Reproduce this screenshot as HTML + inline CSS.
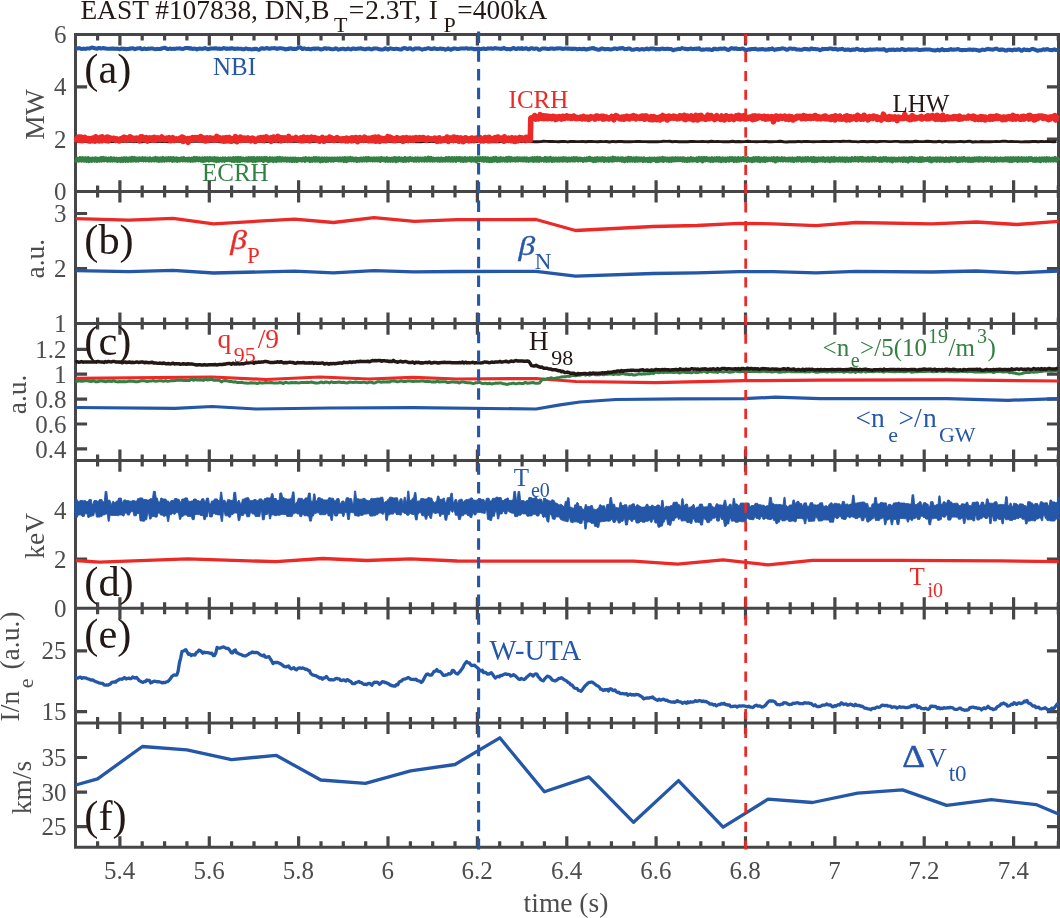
<!DOCTYPE html>
<html lang="en">
<head>
<meta charset="utf-8">
<title>EAST #107838</title>
<style>
html,body{margin:0;padding:0;background:#fff;}
body{width:1060px;height:918px;overflow:hidden;}
svg{display:block;}
</style>
</head>
<body>
<svg width="1060" height="918" viewBox="0 0 1060 918">
<rect width="1060" height="918" fill="#ffffff"/>
<path d="M75.5 32.9 V848.8 M1058.5 32.9 V848.8 M75.5 34.4 H1060.0 M75.5 191.4 H1060.0 M75.5 323.6 H1060.0 M75.5 460.6 H1060.0 M75.5 608.3 H1060.0 M75.5 723.0 H1060.0 M75.5 847.3 H1060.0" fill="none" stroke="#464648" stroke-width="3.0"/>
<path d="M97.6 34.4 V40.4 M97.6 185.4 V197.4 M97.6 317.6 V329.6 M97.6 454.6 V466.6 M97.6 602.3 V614.3 M97.6 717.0 V729.0 M97.6 841.3 V847.3 M119.9 34.4 V45.5 M119.9 180.3 V202.5 M119.9 312.5 V334.7 M119.9 449.5 V471.8 M119.9 597.2 V619.4 M119.9 711.9 V734.1 M119.9 836.2 V847.3 M142.2 34.4 V40.4 M142.2 185.4 V197.4 M142.2 317.6 V329.6 M142.2 454.6 V466.6 M142.2 602.3 V614.3 M142.2 717.0 V729.0 M142.2 841.3 V847.3 M164.6 34.4 V40.4 M164.6 185.4 V197.4 M164.6 317.6 V329.6 M164.6 454.6 V466.6 M164.6 602.3 V614.3 M164.6 717.0 V729.0 M164.6 841.3 V847.3 M186.9 34.4 V40.4 M186.9 185.4 V197.4 M186.9 317.6 V329.6 M186.9 454.6 V466.6 M186.9 602.3 V614.3 M186.9 717.0 V729.0 M186.9 841.3 V847.3 M209.3 34.4 V45.5 M209.3 180.3 V202.5 M209.3 312.5 V334.7 M209.3 449.5 V471.8 M209.3 597.2 V619.4 M209.3 711.9 V734.1 M209.3 836.2 V847.3 M231.6 34.4 V40.4 M231.6 185.4 V197.4 M231.6 317.6 V329.6 M231.6 454.6 V466.6 M231.6 602.3 V614.3 M231.6 717.0 V729.0 M231.6 841.3 V847.3 M254.0 34.4 V40.4 M254.0 185.4 V197.4 M254.0 317.6 V329.6 M254.0 454.6 V466.6 M254.0 602.3 V614.3 M254.0 717.0 V729.0 M254.0 841.3 V847.3 M276.3 34.4 V40.4 M276.3 185.4 V197.4 M276.3 317.6 V329.6 M276.3 454.6 V466.6 M276.3 602.3 V614.3 M276.3 717.0 V729.0 M276.3 841.3 V847.3 M298.6 34.4 V45.5 M298.6 180.3 V202.5 M298.6 312.5 V334.7 M298.6 449.5 V471.8 M298.6 597.2 V619.4 M298.6 711.9 V734.1 M298.6 836.2 V847.3 M321.0 34.4 V40.4 M321.0 185.4 V197.4 M321.0 317.6 V329.6 M321.0 454.6 V466.6 M321.0 602.3 V614.3 M321.0 717.0 V729.0 M321.0 841.3 V847.3 M343.3 34.4 V40.4 M343.3 185.4 V197.4 M343.3 317.6 V329.6 M343.3 454.6 V466.6 M343.3 602.3 V614.3 M343.3 717.0 V729.0 M343.3 841.3 V847.3 M365.7 34.4 V40.4 M365.7 185.4 V197.4 M365.7 317.6 V329.6 M365.7 454.6 V466.6 M365.7 602.3 V614.3 M365.7 717.0 V729.0 M365.7 841.3 V847.3 M388.0 34.4 V45.5 M388.0 180.3 V202.5 M388.0 312.5 V334.7 M388.0 449.5 V471.8 M388.0 597.2 V619.4 M388.0 711.9 V734.1 M388.0 836.2 V847.3 M410.4 34.4 V40.4 M410.4 185.4 V197.4 M410.4 317.6 V329.6 M410.4 454.6 V466.6 M410.4 602.3 V614.3 M410.4 717.0 V729.0 M410.4 841.3 V847.3 M432.7 34.4 V40.4 M432.7 185.4 V197.4 M432.7 317.6 V329.6 M432.7 454.6 V466.6 M432.7 602.3 V614.3 M432.7 717.0 V729.0 M432.7 841.3 V847.3 M455.0 34.4 V40.4 M455.0 185.4 V197.4 M455.0 317.6 V329.6 M455.0 454.6 V466.6 M455.0 602.3 V614.3 M455.0 717.0 V729.0 M455.0 841.3 V847.3 M477.4 34.4 V45.5 M477.4 180.3 V202.5 M477.4 312.5 V334.7 M477.4 449.5 V471.8 M477.4 597.2 V619.4 M477.4 711.9 V734.1 M477.4 836.2 V847.3 M499.7 34.4 V40.4 M499.7 185.4 V197.4 M499.7 317.6 V329.6 M499.7 454.6 V466.6 M499.7 602.3 V614.3 M499.7 717.0 V729.0 M499.7 841.3 V847.3 M522.1 34.4 V40.4 M522.1 185.4 V197.4 M522.1 317.6 V329.6 M522.1 454.6 V466.6 M522.1 602.3 V614.3 M522.1 717.0 V729.0 M522.1 841.3 V847.3 M544.4 34.4 V40.4 M544.4 185.4 V197.4 M544.4 317.6 V329.6 M544.4 454.6 V466.6 M544.4 602.3 V614.3 M544.4 717.0 V729.0 M544.4 841.3 V847.3 M566.8 34.4 V45.5 M566.8 180.3 V202.5 M566.8 312.5 V334.7 M566.8 449.5 V471.8 M566.8 597.2 V619.4 M566.8 711.9 V734.1 M566.8 836.2 V847.3 M589.1 34.4 V40.4 M589.1 185.4 V197.4 M589.1 317.6 V329.6 M589.1 454.6 V466.6 M589.1 602.3 V614.3 M589.1 717.0 V729.0 M589.1 841.3 V847.3 M611.4 34.4 V40.4 M611.4 185.4 V197.4 M611.4 317.6 V329.6 M611.4 454.6 V466.6 M611.4 602.3 V614.3 M611.4 717.0 V729.0 M611.4 841.3 V847.3 M633.8 34.4 V40.4 M633.8 185.4 V197.4 M633.8 317.6 V329.6 M633.8 454.6 V466.6 M633.8 602.3 V614.3 M633.8 717.0 V729.0 M633.8 841.3 V847.3 M656.1 34.4 V45.5 M656.1 180.3 V202.5 M656.1 312.5 V334.7 M656.1 449.5 V471.8 M656.1 597.2 V619.4 M656.1 711.9 V734.1 M656.1 836.2 V847.3 M678.5 34.4 V40.4 M678.5 185.4 V197.4 M678.5 317.6 V329.6 M678.5 454.6 V466.6 M678.5 602.3 V614.3 M678.5 717.0 V729.0 M678.5 841.3 V847.3 M700.8 34.4 V40.4 M700.8 185.4 V197.4 M700.8 317.6 V329.6 M700.8 454.6 V466.6 M700.8 602.3 V614.3 M700.8 717.0 V729.0 M700.8 841.3 V847.3 M723.2 34.4 V40.4 M723.2 185.4 V197.4 M723.2 317.6 V329.6 M723.2 454.6 V466.6 M723.2 602.3 V614.3 M723.2 717.0 V729.0 M723.2 841.3 V847.3 M745.5 34.4 V45.5 M745.5 180.3 V202.5 M745.5 312.5 V334.7 M745.5 449.5 V471.8 M745.5 597.2 V619.4 M745.5 711.9 V734.1 M745.5 836.2 V847.3 M767.8 34.4 V40.4 M767.8 185.4 V197.4 M767.8 317.6 V329.6 M767.8 454.6 V466.6 M767.8 602.3 V614.3 M767.8 717.0 V729.0 M767.8 841.3 V847.3 M790.2 34.4 V40.4 M790.2 185.4 V197.4 M790.2 317.6 V329.6 M790.2 454.6 V466.6 M790.2 602.3 V614.3 M790.2 717.0 V729.0 M790.2 841.3 V847.3 M812.5 34.4 V40.4 M812.5 185.4 V197.4 M812.5 317.6 V329.6 M812.5 454.6 V466.6 M812.5 602.3 V614.3 M812.5 717.0 V729.0 M812.5 841.3 V847.3 M834.9 34.4 V45.5 M834.9 180.3 V202.5 M834.9 312.5 V334.7 M834.9 449.5 V471.8 M834.9 597.2 V619.4 M834.9 711.9 V734.1 M834.9 836.2 V847.3 M857.2 34.4 V40.4 M857.2 185.4 V197.4 M857.2 317.6 V329.6 M857.2 454.6 V466.6 M857.2 602.3 V614.3 M857.2 717.0 V729.0 M857.2 841.3 V847.3 M879.5 34.4 V40.4 M879.5 185.4 V197.4 M879.5 317.6 V329.6 M879.5 454.6 V466.6 M879.5 602.3 V614.3 M879.5 717.0 V729.0 M879.5 841.3 V847.3 M901.9 34.4 V40.4 M901.9 185.4 V197.4 M901.9 317.6 V329.6 M901.9 454.6 V466.6 M901.9 602.3 V614.3 M901.9 717.0 V729.0 M901.9 841.3 V847.3 M924.2 34.4 V45.5 M924.2 180.3 V202.5 M924.2 312.5 V334.7 M924.2 449.5 V471.8 M924.2 597.2 V619.4 M924.2 711.9 V734.1 M924.2 836.2 V847.3 M946.6 34.4 V40.4 M946.6 185.4 V197.4 M946.6 317.6 V329.6 M946.6 454.6 V466.6 M946.6 602.3 V614.3 M946.6 717.0 V729.0 M946.6 841.3 V847.3 M968.9 34.4 V40.4 M968.9 185.4 V197.4 M968.9 317.6 V329.6 M968.9 454.6 V466.6 M968.9 602.3 V614.3 M968.9 717.0 V729.0 M968.9 841.3 V847.3 M991.3 34.4 V40.4 M991.3 185.4 V197.4 M991.3 317.6 V329.6 M991.3 454.6 V466.6 M991.3 602.3 V614.3 M991.3 717.0 V729.0 M991.3 841.3 V847.3 M1013.6 34.4 V45.5 M1013.6 180.3 V202.5 M1013.6 312.5 V334.7 M1013.6 449.5 V471.8 M1013.6 597.2 V619.4 M1013.6 711.9 V734.1 M1013.6 836.2 V847.3 M1035.9 34.4 V40.4 M1035.9 185.4 V197.4 M1035.9 317.6 V329.6 M1035.9 454.6 V466.6 M1035.9 602.3 V614.3 M1035.9 717.0 V729.0 M1035.9 841.3 V847.3 M1058.3 34.4 V40.4 M1058.3 185.4 V197.4 M1058.3 317.6 V329.6 M1058.3 454.6 V466.6 M1058.3 602.3 V614.3 M1058.3 717.0 V729.0 M1058.3 841.3 V847.3 M75.5 139.1 h11.6 M1058.5 139.1 h-11.6 M75.5 86.8 h11.6 M1058.5 86.8 h-11.6 M75.5 268.5 h11.6 M1058.5 268.5 h-11.6 M75.5 213.5 h11.6 M1058.5 213.5 h-11.6 M75.5 448.9 h11.6 M1058.5 448.9 h-11.6 M75.5 424.0 h11.6 M1058.5 424.0 h-11.6 M75.5 399.1 h11.6 M1058.5 399.1 h-11.6 M75.5 374.2 h11.6 M1058.5 374.2 h-11.6 M75.5 349.3 h11.6 M1058.5 349.3 h-11.6 M75.5 559.1 h11.6 M1058.5 559.1 h-11.6 M75.5 509.9 h11.6 M1058.5 509.9 h-11.6 M75.5 711.7 h11.6 M1058.5 711.7 h-11.6 M75.5 650.8 h11.6 M1058.5 650.8 h-11.6 M75.5 826.6 h11.6 M1058.5 826.6 h-11.6 M75.5 792.1 h11.6 M1058.5 792.1 h-11.6 M75.5 757.5 h11.6 M1058.5 757.5 h-11.6" fill="none" stroke="#464648" stroke-width="3.2"/>
<defs>
<clipPath id="c0"><rect x="74.0" y="34.4" width="986.5" height="157.0"/></clipPath>
<clipPath id="c1"><rect x="74.0" y="191.4" width="986.5" height="132.2"/></clipPath>
<clipPath id="c2"><rect x="74.0" y="323.6" width="986.5" height="137.0"/></clipPath>
<clipPath id="c3"><rect x="74.0" y="460.6" width="986.5" height="147.6"/></clipPath>
<clipPath id="c4"><rect x="74.0" y="608.3" width="986.5" height="114.7"/></clipPath>
<clipPath id="c5"><rect x="74.0" y="723.0" width="986.5" height="124.3"/></clipPath>
</defs>
<g clip-path="url(#c0)">
<path d="M75.5 48.8 L76.4 48.7 L77.3 48.5 L78.2 48.3 L79.1 48.1 L80.0 48.4 L80.9 48.8 L81.8 48.9 L82.7 48.8 L83.6 48.6 L84.5 48.8 L85.4 48.9 L86.3 48.6 L87.2 48.5 L88.1 48.6 L89.0 48.5 L89.9 48.4 L90.8 47.8 L91.7 47.8 L92.6 47.5 L93.5 47.9 L94.4 47.9 L95.3 48.4 L96.2 48.5 L97.1 48.8 L98.0 48.1 L98.9 47.9 L99.8 48.0 L100.7 48.6 L101.6 48.4 L102.5 48.3 L103.4 48.0 L104.3 48.2 L105.2 48.5 L106.1 48.6 L107.0 48.8 L107.9 48.7 L108.8 48.8 L109.7 48.8 L110.6 48.6 L111.5 48.7 L112.4 48.5 L113.3 48.5 L114.2 48.8 L115.1 48.7 L116.0 48.9 L116.9 48.6 L117.8 48.8 L118.7 49.1 L119.6 49.2 L120.5 49.1 L121.4 48.6 L122.3 48.6 L123.2 48.8 L124.1 49.0 L125.0 48.8 L125.9 49.0 L126.8 49.2 L127.7 49.1 L128.6 49.0 L129.5 48.5 L130.4 48.7 L131.3 48.4 L132.2 48.3 L133.1 48.3 L134.0 48.8 L134.9 49.2 L135.8 48.9 L136.7 48.5 L137.6 48.4 L138.5 48.2 L139.4 48.3 L140.3 48.1 L141.2 48.9 L142.1 49.2 L143.0 49.1 L143.9 48.7 L144.8 48.5 L145.7 49.0 L146.6 48.9 L147.5 48.9 L148.4 48.6 L149.3 48.7 L150.2 48.7 L151.1 48.4 L152.0 48.4 L152.9 48.4 L153.8 48.9 L154.7 49.1 L155.6 49.2 L156.5 49.1 L157.4 48.8 L158.3 49.1 L159.2 48.9 L160.1 49.1 L161.0 48.6 L161.9 48.7 L162.8 48.1 L163.7 47.9 L164.6 47.8 L165.5 48.0 L166.4 48.5 L167.3 49.1 L168.2 49.1 L169.1 48.9 L170.0 48.4 L170.9 48.8 L171.8 48.9 L172.7 48.8 L173.6 48.8 L174.5 49.0 L175.4 48.8 L176.3 48.6 L177.2 48.5 L178.1 48.5 L179.0 48.6 L179.9 48.3 L180.8 48.8 L181.7 48.8 L182.6 49.1 L183.5 48.7 L184.4 48.6 L185.3 48.1 L186.2 48.0 L187.1 48.1 L188.0 48.1 L188.9 48.5 L189.8 48.0 L190.7 48.7 L191.6 48.3 L192.5 48.9 L193.4 48.8 L194.3 48.6 L195.2 48.7 L196.1 49.0 L197.0 49.4 L197.9 49.0 L198.8 48.6 L199.7 48.4 L200.6 48.8 L201.5 48.7 L202.4 48.9 L203.3 48.4 L204.2 48.4 L205.1 48.1 L206.0 48.6 L206.9 48.7 L207.8 49.3 L208.7 49.0 L209.6 48.8 L210.5 48.5 L211.4 48.4 L212.3 48.6 L213.2 48.5 L214.1 48.6 L215.0 48.3 L215.9 48.2 L216.8 48.6 L217.7 48.8 L218.6 48.8 L219.5 48.4 L220.4 48.9 L221.3 48.8 L222.2 48.7 L223.1 48.2 L224.0 48.1 L224.9 48.4 L225.8 48.5 L226.7 49.0 L227.6 48.6 L228.5 48.7 L229.4 48.6 L230.3 48.7 L231.2 48.3 L232.1 48.2 L233.0 48.5 L233.9 48.7 L234.8 49.0 L235.7 48.7 L236.6 48.7 L237.5 48.5 L238.4 48.7 L239.3 48.7 L240.2 48.8 L241.1 48.7 L242.0 49.0 L242.9 49.2 L243.8 49.3 L244.7 48.9 L245.6 48.4 L246.5 48.5 L247.4 48.9 L248.3 49.2 L249.2 49.1 L250.1 49.1 L251.0 49.3 L251.9 49.4 L252.8 49.1 L253.7 49.3 L254.6 48.7 L255.5 49.1 L256.4 48.8 L257.3 49.3 L258.2 49.6 L259.1 49.8 L260.0 49.3 L260.9 48.5 L261.8 48.3 L262.7 48.3 L263.6 48.7 L264.5 48.7 L265.4 48.6 L266.3 48.1 L267.2 47.9 L268.1 48.4 L269.0 48.8 L269.9 48.8 L270.8 48.5 L271.7 48.2 L272.6 48.2 L273.5 48.2 L274.4 48.1 L275.3 48.3 L276.2 48.5 L277.1 49.0 L278.0 48.6 L278.9 48.5 L279.8 48.2 L280.7 48.2 L281.6 48.4 L282.5 48.4 L283.4 48.7 L284.3 48.8 L285.2 49.5 L286.1 49.0 L287.0 49.2 L287.9 48.7 L288.8 49.0 L289.7 48.4 L290.6 48.3 L291.5 48.5 L292.4 48.9 L293.3 49.0 L294.2 48.7 L295.1 49.0 L296.0 49.0 L296.9 48.5 L297.8 48.1 L298.7 47.6 L299.6 47.4 L300.5 47.4 L301.4 48.2 L302.3 49.0 L303.2 48.9 L304.1 48.3 L305.0 48.6 L305.9 48.9 L306.8 49.1 L307.7 48.8 L308.6 48.8 L309.5 49.0 L310.4 49.2 L311.3 49.2 L312.2 48.7 L313.1 48.7 L314.0 48.5 L314.9 49.0 L315.8 48.6 L316.7 48.7 L317.6 48.5 L318.5 48.5 L319.4 48.9 L320.3 49.3 L321.2 49.5 L322.1 49.2 L323.0 49.0 L323.9 48.5 L324.8 48.3 L325.7 48.2 L326.6 48.9 L327.5 48.6 L328.4 48.5 L329.3 48.5 L330.2 49.0 L331.1 49.1 L332.0 49.2 L332.9 49.3 L333.8 49.1 L334.7 49.0 L335.6 48.2 L336.5 48.7 L337.4 49.0 L338.3 49.7 L339.2 49.4 L340.1 49.2 L341.0 49.1 L341.9 48.8 L342.8 48.8 L343.7 48.7 L344.6 49.2 L345.5 49.3 L346.4 49.3 L347.3 48.8 L348.2 48.5 L349.1 48.9 L350.0 49.2 L350.9 49.4 L351.8 48.9 L352.7 48.5 L353.6 48.5 L354.5 48.8 L355.4 48.9 L356.3 48.9 L357.2 48.6 L358.1 48.8 L359.0 48.4 L359.9 48.4 L360.8 48.2 L361.7 48.8 L362.6 48.7 L363.5 49.0 L364.4 49.2 L365.3 49.3 L366.2 49.0 L367.1 48.7 L368.0 48.7 L368.9 48.6 L369.8 48.7 L370.7 49.2 L371.6 49.4 L372.5 49.2 L373.4 48.5 L374.3 48.6 L375.2 48.4 L376.1 48.4 L377.0 48.6 L377.9 48.7 L378.8 49.2 L379.7 49.3 L380.6 49.5 L381.5 49.4 L382.4 49.5 L383.3 49.4 L384.2 49.1 L385.1 48.3 L386.0 48.4 L386.9 48.9 L387.8 49.5 L388.7 49.2 L389.6 48.6 L390.5 48.3 L391.4 48.6 L392.3 48.8 L393.2 48.9 L394.1 48.9 L395.0 48.9 L395.9 48.8 L396.8 48.8 L397.7 48.9 L398.6 49.0 L399.5 49.4 L400.4 49.6 L401.3 49.5 L402.2 48.6 L403.1 48.6 L404.0 48.1 L404.9 48.1 L405.8 48.3 L406.7 48.9 L407.6 49.2 L408.5 48.6 L409.4 48.3 L410.3 48.2 L411.2 48.8 L412.1 49.4 L413.0 49.6 L413.9 49.3 L414.8 48.4 L415.7 48.4 L416.6 48.5 L417.5 48.5 L418.4 48.6 L419.3 48.3 L420.2 48.9 L421.1 49.1 L422.0 49.7 L422.9 49.3 L423.8 49.1 L424.7 48.8 L425.6 48.9 L426.5 48.7 L427.4 48.4 L428.3 48.1 L429.2 48.4 L430.1 48.7 L431.0 49.1 L431.9 49.1 L432.8 48.7 L433.7 48.5 L434.6 48.3 L435.5 48.8 L436.4 48.9 L437.3 49.1 L438.2 49.1 L439.1 48.9 L440.0 48.4 L440.9 48.6 L441.8 49.0 L442.7 48.7 L443.6 48.9 L444.5 48.9 L445.4 49.7 L446.3 49.3 L447.2 49.0 L448.1 48.4 L449.0 49.1 L449.9 49.2 L450.8 49.8 L451.7 49.1 L452.6 49.1 L453.5 48.4 L454.4 48.4 L455.3 48.6 L456.2 48.7 L457.1 49.1 L458.0 48.9 L458.9 49.0 L459.8 48.6 L460.7 48.4 L461.6 48.6 L462.5 48.6 L463.4 48.5 L464.3 48.5 L465.2 48.4 L466.1 48.3 L467.0 48.3 L467.9 48.8 L468.8 48.7 L469.7 48.7 L470.6 48.4 L471.5 48.5 L472.4 48.7 L473.3 48.7 L474.2 49.3 L475.1 48.9 L476.0 49.2 L476.9 48.7 L477.8 48.7 L478.7 48.8 L479.6 48.8 L480.5 49.1 L481.4 49.0 L482.3 48.8 L483.2 48.6 L484.1 48.6 L485.0 49.1 L485.9 48.9 L486.8 48.9 L487.7 48.3 L488.6 48.6 L489.5 48.4 L490.4 48.4 L491.3 48.2 L492.2 48.7 L493.1 48.8 L494.0 48.5 L494.9 48.1 L495.8 48.2 L496.7 48.5 L497.6 48.5 L498.5 48.6 L499.4 48.7 L500.3 48.7 L501.2 49.0 L502.1 48.6 L503.0 48.5 L503.9 47.9 L504.8 48.6 L505.7 48.8 L506.6 49.3 L507.5 48.9 L508.4 49.0 L509.3 49.0 L510.2 49.4 L511.1 49.1 L512.0 48.7 L512.9 48.0 L513.8 48.0 L514.7 48.5 L515.6 49.0 L516.5 49.1 L517.4 48.5 L518.3 48.3 L519.2 48.8 L520.1 48.5 L521.0 48.7 L521.9 48.1 L522.8 49.0 L523.7 48.6 L524.6 48.8 L525.5 48.2 L526.4 48.2 L527.3 48.7 L528.2 49.2 L529.1 49.4 L530.0 48.8 L530.9 48.2 L531.8 48.2 L532.7 48.4 L533.6 48.8 L534.5 48.9 L535.4 48.6 L536.3 48.6 L537.2 48.6 L538.1 49.2 L539.0 49.7 L539.9 49.7 L540.8 49.2 L541.7 48.7 L542.6 48.6 L543.5 48.6 L544.4 48.6 L545.3 48.5 L546.2 48.8 L547.1 48.8 L548.0 49.1 L548.9 48.9 L549.8 48.8 L550.7 48.5 L551.6 48.5 L552.5 48.5 L553.4 48.8 L554.3 48.9 L555.2 48.7 L556.1 48.6 L557.0 48.3 L557.9 48.5 L558.8 48.4 L559.7 48.2 L560.6 48.4 L561.5 48.5 L562.4 49.0 L563.3 48.8 L564.2 48.7 L565.1 48.5 L566.0 48.5 L566.9 48.5 L567.8 48.8 L568.7 48.5 L569.6 48.7 L570.5 48.7 L571.4 49.0 L572.3 48.8 L573.2 48.9 L574.1 48.6 L575.0 48.8 L575.9 48.7 L576.8 49.2 L577.7 49.2 L578.6 48.9 L579.5 48.8 L580.4 48.9 L581.3 49.1 L582.2 49.3 L583.1 48.7 L584.0 48.8 L584.9 49.0 L585.8 49.6 L586.7 49.5 L587.6 48.9 L588.5 48.9 L589.4 48.8 L590.3 48.5 L591.2 48.4 L592.1 48.1 L593.0 48.4 L593.9 48.1 L594.8 48.8 L595.7 49.0 L596.6 49.2 L597.5 49.4 L598.4 49.8 L599.3 49.7 L600.2 49.3 L601.1 48.6 L602.0 48.4 L602.9 48.6 L603.8 49.0 L604.7 49.2 L605.6 49.3 L606.5 49.0 L607.4 49.0 L608.3 48.9 L609.2 49.3 L610.1 49.5 L611.0 49.5 L611.9 49.2 L612.8 49.1 L613.7 48.7 L614.6 48.4 L615.5 48.5 L616.4 48.7 L617.3 49.2 L618.2 48.6 L619.1 48.5 L620.0 48.3 L620.9 48.5 L621.8 48.1 L622.7 48.1 L623.6 48.6 L624.5 49.2 L625.4 49.1 L626.3 48.9 L627.2 49.0 L628.1 48.5 L629.0 48.4 L629.9 48.4 L630.8 49.2 L631.7 49.7 L632.6 49.8 L633.5 49.7 L634.4 49.4 L635.3 49.3 L636.2 49.1 L637.1 49.0 L638.0 49.0 L638.9 49.7 L639.8 49.6 L640.7 49.4 L641.6 49.0 L642.5 49.3 L643.4 49.3 L644.3 49.6 L645.2 49.1 L646.1 49.1 L647.0 48.6 L647.9 49.1 L648.8 49.4 L649.7 49.1 L650.6 48.6 L651.5 48.5 L652.4 48.7 L653.3 48.5 L654.2 48.7 L655.1 49.0 L656.0 49.5 L656.9 49.1 L657.8 49.2 L658.7 49.1 L659.6 49.4 L660.5 49.0 L661.4 48.8 L662.3 48.6 L663.2 48.7 L664.1 49.0 L665.0 49.0 L665.9 49.0 L666.8 48.8 L667.7 48.7 L668.6 49.1 L669.5 49.0 L670.4 48.9 L671.3 49.0 L672.2 49.7 L673.1 50.3 L674.0 50.0 L674.9 49.5 L675.8 49.4 L676.7 49.4 L677.6 49.1 L678.5 48.8 L679.4 48.9 L680.3 48.9 L681.2 48.5 L682.1 48.0 L683.0 48.4 L683.9 48.6 L684.8 48.9 L685.7 48.8 L686.6 49.2 L687.5 49.1 L688.4 49.2 L689.3 48.8 L690.2 48.8 L691.1 48.4 L692.0 48.9 L692.9 49.0 L693.8 49.1 L694.7 48.7 L695.6 48.7 L696.5 49.0 L697.4 48.7 L698.3 48.5 L699.2 48.3 L700.1 49.3 L701.0 49.8 L701.9 49.8 L702.8 49.4 L703.7 49.7 L704.6 49.6 L705.5 49.4 L706.4 49.2 L707.3 49.3 L708.2 49.6 L709.1 49.2 L710.0 49.5 L710.9 49.8 L711.8 50.1 L712.7 49.8 L713.6 48.8 L714.5 48.9 L715.4 48.7 L716.3 49.3 L717.2 49.3 L718.1 49.2 L719.0 48.7 L719.9 48.7 L720.8 48.6 L721.7 48.9 L722.6 48.7 L723.5 48.8 L724.4 48.3 L725.3 48.7 L726.2 48.9 L727.1 49.7 L728.0 49.9 L728.9 49.8 L729.8 49.1 L730.7 48.4 L731.6 48.1 L732.5 48.5 L733.4 48.7 L734.3 48.5 L735.2 48.7 L736.1 48.3 L737.0 48.9 L737.9 48.8 L738.8 49.1 L739.7 49.0 L740.6 48.9 L741.5 48.8 L742.4 48.4 L743.3 48.6 L744.2 49.2 L745.1 50.0 L746.0 50.4 L746.9 50.1 L747.8 49.5 L748.7 49.5 L749.6 49.3 L750.5 49.5 L751.4 49.0 L752.3 49.1 L753.2 49.0 L754.1 49.0 L755.0 48.8 L755.9 48.8 L756.8 49.4 L757.7 49.6 L758.6 49.6 L759.5 49.2 L760.4 49.4 L761.3 49.2 L762.2 49.0 L763.1 49.1 L764.0 49.4 L764.9 49.5 L765.8 49.7 L766.7 49.4 L767.6 49.4 L768.5 48.9 L769.4 49.4 L770.3 49.0 L771.2 48.9 L772.1 48.4 L773.0 49.1 L773.9 49.4 L774.8 49.9 L775.7 49.3 L776.6 49.4 L777.5 48.9 L778.4 49.2 L779.3 49.1 L780.2 49.0 L781.1 48.6 L782.0 48.4 L782.9 48.3 L783.8 48.6 L784.7 48.8 L785.6 49.2 L786.5 49.8 L787.4 49.7 L788.3 49.2 L789.2 48.6 L790.1 48.5 L791.0 48.6 L791.9 48.8 L792.8 48.9 L793.7 48.7 L794.6 48.8 L795.5 48.9 L796.4 49.5 L797.3 49.4 L798.2 49.5 L799.1 49.5 L800.0 49.7 L800.9 49.7 L801.8 49.8 L802.7 49.6 L803.6 49.1 L804.5 49.0 L805.4 48.8 L806.3 49.2 L807.2 49.0 L808.1 49.4 L809.0 49.4 L809.9 49.4 L810.8 48.6 L811.7 48.5 L812.6 48.8 L813.5 49.1 L814.4 49.1 L815.3 49.0 L816.2 49.3 L817.1 49.1 L818.0 49.3 L818.9 49.4 L819.8 50.2 L820.7 50.0 L821.6 49.6 L822.5 48.8 L823.4 49.2 L824.3 49.1 L825.2 49.1 L826.1 48.9 L827.0 49.0 L827.9 48.9 L828.8 48.8 L829.7 48.5 L830.6 48.4 L831.5 48.4 L832.4 49.0 L833.3 49.3 L834.2 48.9 L835.1 48.8 L836.0 49.0 L836.9 49.6 L837.8 49.7 L838.7 49.3 L839.6 49.3 L840.5 49.2 L841.4 49.1 L842.3 48.8 L843.2 49.3 L844.1 49.6 L845.0 50.1 L845.9 49.6 L846.8 49.8 L847.7 49.4 L848.6 49.5 L849.5 49.8 L850.4 50.2 L851.3 50.1 L852.2 49.5 L853.1 49.4 L854.0 49.8 L854.9 49.7 L855.8 49.2 L856.7 48.8 L857.6 49.0 L858.5 49.4 L859.4 49.8 L860.3 49.9 L861.2 50.0 L862.1 49.5 L863.0 49.6 L863.9 49.9 L864.8 50.4 L865.7 50.2 L866.6 49.8 L867.5 50.0 L868.4 49.7 L869.3 49.7 L870.2 49.3 L871.1 49.7 L872.0 49.7 L872.9 49.6 L873.8 49.4 L874.7 49.5 L875.6 49.4 L876.5 49.2 L877.4 49.2 L878.3 49.4 L879.2 49.5 L880.1 49.4 L881.0 49.4 L881.9 49.4 L882.8 49.5 L883.7 49.0 L884.6 49.6 L885.5 50.1 L886.4 50.8 L887.3 50.5 L888.2 50.1 L889.1 49.7 L890.0 49.8 L890.9 50.0 L891.8 49.6 L892.7 49.8 L893.6 49.5 L894.5 50.1 L895.4 49.9 L896.3 49.8 L897.2 49.5 L898.1 49.6 L899.0 49.8 L899.9 49.9 L900.8 49.6 L901.7 49.0 L902.6 49.1 L903.5 49.4 L904.4 50.0 L905.3 49.8 L906.2 49.9 L907.1 49.7 L908.0 49.5 L908.9 49.3 L909.8 49.7 L910.7 49.5 L911.6 49.8 L912.5 49.4 L913.4 49.5 L914.3 49.5 L915.2 49.6 L916.1 49.6 L917.0 49.2 L917.9 49.4 L918.8 50.0 L919.7 50.0 L920.6 49.9 L921.5 49.8 L922.4 49.7 L923.3 49.7 L924.2 49.5 L925.1 49.6 L926.0 49.4 L926.9 49.4 L927.8 49.5 L928.7 49.5 L929.6 49.4 L930.5 49.7 L931.4 49.9 L932.3 50.2 L933.2 50.2 L934.1 50.3 L935.0 50.6 L935.9 50.2 L936.8 50.2 L937.7 49.6 L938.6 50.2 L939.5 50.5 L940.4 50.1 L941.3 49.4 L942.2 49.1 L943.1 49.8 L944.0 50.2 L944.9 50.0 L945.8 50.0 L946.7 49.9 L947.6 49.9 L948.5 50.1 L949.4 49.4 L950.3 49.6 L951.2 49.1 L952.1 49.8 L953.0 49.6 L953.9 49.7 L954.8 49.5 L955.7 49.4 L956.6 49.4 L957.5 48.9 L958.4 49.1 L959.3 49.5 L960.2 50.1 L961.1 50.1 L962.0 50.2 L962.9 50.0 L963.8 50.0 L964.7 49.9 L965.6 50.1 L966.5 50.1 L967.4 49.9 L968.3 49.6 L969.2 49.7 L970.1 49.5 L971.0 49.8 L971.9 49.7 L972.8 50.0 L973.7 49.6 L974.6 49.8 L975.5 49.8 L976.4 49.9 L977.3 50.3 L978.2 50.3 L979.1 50.8 L980.0 50.5 L980.9 50.3 L981.8 49.8 L982.7 49.6 L983.6 49.8 L984.5 49.9 L985.4 49.8 L986.3 49.3 L987.2 49.2 L988.1 48.8 L989.0 49.3 L989.9 49.2 L990.8 49.6 L991.7 49.4 L992.6 49.7 L993.5 49.5 L994.4 49.1 L995.3 48.8 L996.2 48.6 L997.1 48.8 L998.0 49.5 L998.9 49.7 L999.8 50.1 L1000.7 49.4 L1001.6 49.7 L1002.5 49.5 L1003.4 49.8 L1004.3 49.9 L1005.2 50.4 L1006.1 50.5 L1007.0 50.4 L1007.9 49.7 L1008.8 49.8 L1009.7 49.7 L1010.6 50.1 L1011.5 50.0 L1012.4 50.5 L1013.3 49.8 L1014.2 49.7 L1015.1 49.5 L1016.0 49.9 L1016.9 49.8 L1017.8 49.5 L1018.7 49.3 L1019.6 49.5 L1020.5 50.2 L1021.4 50.8 L1022.3 50.5 L1023.2 49.7 L1024.1 49.3 L1025.0 49.8 L1025.9 49.9 L1026.8 49.8 L1027.7 49.8 L1028.6 50.2 L1029.5 50.3 L1030.4 49.8 L1031.3 49.2 L1032.2 49.1 L1033.1 48.8 L1034.0 49.4 L1034.9 49.4 L1035.8 50.1 L1036.7 50.4 L1037.6 50.8 L1038.5 50.4 L1039.4 50.2 L1040.3 50.2 L1041.2 50.3 L1042.1 49.8 L1043.0 49.5 L1043.9 49.3 L1044.8 49.9 L1045.7 49.3 L1046.6 49.5 L1047.5 49.1 L1048.4 49.6 L1049.3 49.9 L1050.2 50.0 L1051.1 50.0 L1052.0 50.3 L1052.9 49.7 L1053.8 49.7 L1054.7 49.3 L1055.6 49.9 L1056.5 49.9 L1057.4 49.9 L1058.3 49.8" fill="none" stroke="#2557a8" stroke-width="4.0" stroke-linejoin="round" stroke-linecap="butt" />
<path d="M75.5 141.4 L78.5 141.6 L81.5 141.6 L84.5 141.4 L87.5 141.8 L90.5 141.8 L93.5 141.3 L96.5 141.5 L99.5 141.9 L102.5 141.6 L105.5 141.5 L108.5 141.5 L111.5 141.4 L114.5 141.5 L117.5 141.4 L120.5 141.6 L123.5 141.4 L126.5 141.4 L129.4 141.3 L132.4 141.5 L135.4 141.4 L138.4 141.5 L141.4 141.7 L144.4 141.6 L147.4 141.6 L150.4 141.6 L153.4 141.5 L156.4 141.5 L159.4 141.5 L162.4 141.6 L165.4 141.3 L168.4 141.7 L171.4 141.5 L174.4 141.4 L177.4 141.4 L180.4 141.4 L183.4 141.5 L186.4 141.4 L189.4 141.7 L192.4 141.4 L195.4 141.2 L198.4 141.4 L201.4 141.2 L204.4 141.5 L207.4 141.7 L210.4 141.6 L213.4 141.3 L216.4 141.4 L219.4 141.8 L222.4 141.6 L225.4 141.5 L228.4 141.7 L231.4 141.9 L234.4 141.7 L237.4 141.5 L240.4 141.6 L243.4 141.6 L246.4 141.4 L249.4 141.4 L252.4 141.5 L255.4 141.4 L258.4 141.5 L261.4 141.5 L264.4 141.9 L267.4 141.4 L270.4 141.5 L273.4 141.5 L276.4 141.6 L279.4 141.7 L282.4 141.4 L285.4 141.4 L288.4 141.3 L291.4 141.4 L294.4 141.6 L297.4 141.5 L300.4 141.4 L303.4 141.5 L306.4 141.5 L309.4 141.6 L312.4 141.4 L315.4 141.5 L318.4 141.3 L321.4 141.4 L324.4 141.8 L327.4 141.2 L330.4 141.5 L333.4 141.6 L336.4 141.5 L339.4 141.4 L342.4 141.5 L345.4 141.5 L348.4 141.5 L351.4 141.2 L354.4 141.5 L357.4 141.4 L360.4 141.4 L363.4 141.6 L366.4 141.6 L369.4 141.7 L372.4 141.5 L375.4 141.7 L378.4 141.7 L381.4 141.7 L384.4 141.7 L387.4 141.5 L390.4 141.5 L393.4 141.7 L396.4 141.3 L399.4 141.6 L402.4 141.5 L405.4 141.5 L408.4 141.3 L411.4 141.4 L414.4 141.5 L417.4 141.7 L420.4 141.7 L423.4 141.5 L426.4 141.5 L429.4 141.4 L432.4 141.6 L435.4 141.5 L438.4 141.6 L441.4 141.8 L444.4 141.5 L447.4 141.3 L450.4 141.4 L453.4 141.3 L456.4 141.4 L459.4 141.7 L462.4 141.6 L465.4 141.3 L468.4 141.6 L471.4 141.7 L474.4 141.5 L477.4 141.4 L480.4 141.5 L483.4 141.6 L486.4 141.6 L489.4 141.7 L492.4 141.7 L495.4 141.7 L498.4 141.7 L501.4 141.6 L504.4 141.3 L507.4 141.5 L510.4 141.6 L513.5 141.5 L516.5 141.7 L519.5 141.5 L522.5 141.4 L525.5 141.8 L528.5 141.6 L531.5 141.6 L534.5 141.7 L537.5 141.7 L540.5 141.6 L543.5 141.2 L546.5 141.4 L549.5 141.5 L552.5 141.4 L555.5 141.6 L558.5 141.7 L561.5 141.5 L564.5 141.4 L567.5 141.9 L570.5 141.5 L573.5 141.4 L576.5 141.6 L579.5 141.6 L582.5 141.4 L585.5 141.7 L588.5 141.5 L591.5 141.4 L594.5 141.6 L597.5 141.7 L600.5 141.5 L603.5 141.6 L606.5 141.5 L609.5 142.0 L612.5 141.4 L615.5 141.8 L618.5 141.5 L621.5 141.5 L624.5 141.7 L627.5 141.7 L630.5 141.7 L633.5 141.6 L636.5 141.5 L639.5 141.5 L642.5 141.6 L645.5 141.6 L648.5 141.8 L651.5 141.6 L654.5 141.7 L657.5 141.8 L660.5 141.6 L663.5 141.3 L666.5 141.4 L669.5 141.3 L672.5 141.8 L675.5 141.4 L678.5 141.7 L681.5 141.6 L684.5 141.8 L687.5 141.7 L690.5 141.5 L693.5 141.5 L696.5 141.6 L699.5 141.6 L702.5 141.5 L705.5 141.6 L708.5 141.8 L711.5 141.3 L714.5 141.6 L717.5 141.4 L720.5 141.6 L723.5 141.7 L726.5 141.6 L729.5 141.7 L732.5 141.3 L735.5 141.7 L738.5 141.5 L741.5 141.7 L744.5 141.6 L747.5 141.2 L750.5 141.5 L753.5 141.6 L756.5 141.8 L759.5 141.6 L762.5 141.6 L765.5 141.4 L768.5 141.8 L771.5 141.8 L774.5 141.6 L777.5 141.5 L780.5 141.3 L783.5 141.7 L786.5 142.0 L789.5 141.7 L792.5 141.8 L795.5 141.7 L798.5 141.4 L801.5 141.8 L804.5 141.4 L807.5 141.5 L810.5 141.6 L813.5 141.7 L816.5 141.6 L819.5 141.6 L822.5 141.5 L825.5 141.4 L828.5 141.6 L831.5 141.5 L834.5 141.4 L837.5 141.4 L840.5 141.5 L843.5 141.3 L846.5 141.4 L849.5 141.3 L852.5 141.6 L855.5 141.6 L858.5 141.9 L861.5 141.4 L864.5 141.5 L867.5 141.7 L870.5 141.5 L873.5 141.5 L876.5 141.8 L879.5 141.5 L882.5 141.4 L885.5 141.4 L888.5 141.6 L891.5 141.6 L894.5 141.4 L897.5 141.4 L900.5 141.7 L903.5 141.7 L906.5 141.5 L909.5 141.7 L912.5 141.7 L915.5 141.3 L918.5 141.5 L921.5 141.6 L924.5 141.5 L927.5 141.3 L930.5 141.5 L933.5 141.7 L936.5 141.8 L939.5 141.3 L942.5 142.0 L945.5 141.4 L948.5 141.7 L951.5 141.8 L954.5 141.7 L957.5 141.6 L960.5 141.4 L963.5 141.7 L966.5 141.5 L969.5 141.2 L972.5 142.0 L975.5 141.7 L978.5 141.9 L981.5 141.5 L984.5 141.8 L987.5 141.8 L990.5 141.8 L993.5 141.6 L996.5 141.4 L999.5 141.6 L1002.5 141.3 L1005.5 141.3 L1008.5 141.6 L1011.5 141.4 L1014.5 141.6 L1017.5 141.6 L1020.5 141.9 L1023.5 141.8 L1026.5 141.6 L1029.5 141.8 L1032.5 141.5 L1035.5 141.5 L1038.5 141.7 L1041.5 141.4 L1044.5 141.6 L1047.5 141.4 L1050.5 141.6 L1053.5 141.8 L1056.5 141.5" fill="none" stroke="#231815" stroke-width="2.9" stroke-linejoin="round" stroke-linecap="butt" />
<path d="M75.5 159.7 L76.0 160.8 L76.5 160.1 L77.0 158.3 L77.5 158.4 L78.0 159.9 L78.5 161.0 L79.0 160.5 L79.5 159.1 L80.0 157.9 L80.5 159.2 L81.0 160.7 L81.5 160.9 L82.0 159.5 L82.5 157.9 L83.0 158.5 L83.5 160.0 L84.0 160.9 L84.5 159.3 L85.0 158.1 L85.5 158.1 L86.0 160.1 L86.5 161.2 L87.0 159.7 L87.5 158.1 L88.0 157.9 L88.5 159.9 L89.0 161.4 L89.5 160.6 L90.0 158.5 L90.5 158.4 L91.0 158.9 L91.5 161.2 L92.0 160.5 L92.5 158.3 L93.0 158.6 L93.5 159.3 L94.0 160.4 L94.5 160.9 L95.0 159.3 L95.5 158.0 L96.0 158.2 L96.5 160.2 L97.0 161.1 L97.5 159.7 L98.0 158.4 L98.5 158.4 L99.0 160.6 L99.5 160.9 L100.0 160.1 L100.5 157.9 L101.0 157.8 L101.5 160.0 L102.0 160.8 L102.5 160.5 L103.0 158.6 L103.5 157.7 L104.0 159.2 L104.5 160.7 L105.0 160.5 L105.5 159.1 L106.0 158.1 L106.5 158.8 L107.0 160.4 L107.5 160.9 L108.0 159.3 L108.5 158.3 L109.0 159.3 L109.5 160.6 L110.0 161.0 L110.5 159.6 L111.0 157.9 L111.5 158.1 L112.0 159.8 L112.5 161.0 L113.0 159.9 L113.5 158.5 L114.0 158.0 L114.5 159.6 L115.0 160.7 L115.5 160.8 L116.0 158.7 L116.5 158.4 L117.0 159.5 L117.5 161.2 L118.0 160.6 L118.5 159.1 L119.0 158.6 L119.5 158.6 L120.0 161.0 L120.5 161.3 L121.0 159.4 L121.5 158.2 L122.0 158.9 L122.5 160.2 L123.0 161.1 L123.5 159.5 L124.0 158.0 L124.5 158.2 L125.0 160.0 L125.5 161.1 L126.0 160.2 L126.5 158.0 L127.0 158.6 L127.5 160.0 L128.0 161.2 L128.4 160.3 L128.9 158.6 L129.4 158.1 L129.9 159.4 L130.4 160.4 L130.9 160.9 L131.4 159.7 L131.9 157.5 L132.4 159.2 L132.9 160.8 L133.4 160.8 L133.9 159.7 L134.4 157.7 L134.9 158.7 L135.4 160.8 L135.9 161.0 L136.4 159.6 L136.9 158.2 L137.4 158.2 L137.9 160.4 L138.4 160.8 L138.9 160.3 L139.4 158.0 L139.9 158.3 L140.4 159.7 L140.9 160.3 L141.4 160.4 L141.9 158.3 L142.4 157.9 L142.9 159.7 L143.4 160.6 L143.9 160.4 L144.4 159.3 L144.9 158.0 L145.4 159.3 L145.9 160.7 L146.4 160.6 L146.9 159.3 L147.4 158.3 L147.9 158.9 L148.4 160.4 L148.9 161.0 L149.4 159.7 L149.9 158.0 L150.4 158.8 L150.9 160.1 L151.4 160.8 L151.9 159.9 L152.4 158.5 L152.9 158.3 L153.4 159.7 L153.9 160.8 L154.4 160.4 L154.9 158.2 L155.4 157.7 L155.9 159.5 L156.4 160.7 L156.9 160.8 L157.4 159.3 L157.9 158.1 L158.4 159.0 L158.9 161.2 L159.4 161.0 L159.9 159.2 L160.4 158.2 L160.9 158.7 L161.4 160.2 L161.9 161.0 L162.4 159.6 L162.9 157.6 L163.4 158.3 L163.9 160.0 L164.4 160.9 L164.9 159.6 L165.4 158.2 L165.9 158.1 L166.4 159.7 L166.9 160.7 L167.4 160.5 L167.9 158.3 L168.4 157.9 L168.9 159.6 L169.4 160.7 L169.9 160.5 L170.4 159.2 L170.9 157.9 L171.4 158.9 L171.9 160.7 L172.4 161.1 L172.9 158.7 L173.4 157.8 L173.9 158.4 L174.4 160.1 L174.9 160.8 L175.4 159.5 L175.9 158.2 L176.4 158.1 L176.9 160.1 L177.4 161.2 L177.9 159.9 L178.4 158.4 L178.9 158.5 L179.4 159.8 L179.9 160.8 L180.4 160.4 L180.9 158.4 L181.4 158.1 L181.9 159.5 L182.4 160.7 L182.9 160.6 L183.4 159.2 L183.9 157.8 L184.4 159.0 L184.9 160.4 L185.4 160.7 L185.9 159.2 L186.4 158.5 L186.9 158.5 L187.4 160.2 L187.9 160.9 L188.4 159.6 L188.9 158.3 L189.4 158.4 L189.9 160.6 L190.4 161.1 L190.9 160.4 L191.4 158.4 L191.9 158.3 L192.4 159.3 L192.9 161.0 L193.4 160.4 L193.9 158.6 L194.4 157.5 L194.9 159.5 L195.4 160.8 L195.9 160.6 L196.4 158.9 L196.9 157.9 L197.4 159.1 L197.9 160.3 L198.4 160.6 L198.9 159.4 L199.4 158.0 L199.9 158.5 L200.4 160.2 L200.9 160.8 L201.4 159.7 L201.9 158.4 L202.4 158.1 L202.9 160.4 L203.4 161.3 L203.9 159.9 L204.4 158.5 L204.9 157.8 L205.4 159.3 L205.9 160.7 L206.4 160.3 L206.9 158.5 L207.4 157.9 L207.9 159.3 L208.4 160.3 L208.9 160.8 L209.4 158.6 L209.9 157.8 L210.4 158.8 L210.9 160.4 L211.4 160.5 L211.9 159.1 L212.4 158.0 L212.9 158.8 L213.4 160.5 L213.9 160.8 L214.4 159.5 L214.9 157.9 L215.4 158.5 L215.9 159.5 L216.4 161.4 L216.9 159.9 L217.4 158.1 L217.9 158.2 L218.4 159.9 L218.9 161.1 L219.4 160.6 L219.9 158.7 L220.4 158.3 L220.9 159.6 L221.4 160.8 L221.9 161.0 L222.4 159.0 L222.9 158.0 L223.4 158.7 L223.9 160.6 L224.4 161.1 L224.9 159.0 L225.4 158.2 L225.9 158.7 L226.4 160.4 L226.9 160.5 L227.4 159.7 L227.9 158.3 L228.4 158.1 L228.9 160.1 L229.4 160.5 L229.9 160.2 L230.4 158.2 L230.9 158.3 L231.4 159.2 L231.9 161.2 L232.4 160.3 L232.9 158.8 L233.4 157.8 L233.9 159.2 L234.4 161.4 L234.9 160.5 L235.4 158.8 L235.9 157.9 L236.4 158.7 L236.9 161.0 L237.4 161.3 L237.9 159.1 L238.4 157.6 L238.9 158.9 L239.4 160.7 L239.9 161.2 L240.4 160.0 L240.9 157.9 L241.4 158.3 L241.9 159.7 L242.4 160.7 L242.9 160.3 L243.4 158.2 L243.9 158.7 L244.4 159.7 L244.9 160.8 L245.4 160.6 L245.9 159.1 L246.4 158.1 L246.9 159.0 L247.4 161.0 L247.9 161.0 L248.4 158.8 L248.9 157.8 L249.4 159.2 L249.9 160.7 L250.4 160.6 L250.9 159.2 L251.4 157.8 L251.9 158.7 L252.4 160.4 L252.9 161.3 L253.4 159.9 L253.9 157.7 L254.4 158.4 L254.9 160.3 L255.4 161.2 L255.9 160.3 L256.4 158.2 L256.9 157.9 L257.4 159.9 L257.9 160.7 L258.4 159.8 L258.9 158.9 L259.4 157.8 L259.9 159.2 L260.4 160.5 L260.9 160.3 L261.4 158.7 L261.9 157.9 L262.4 159.0 L262.9 160.1 L263.4 161.1 L263.9 159.0 L264.4 157.7 L264.9 158.8 L265.4 160.4 L265.9 160.6 L266.4 160.1 L266.9 157.9 L267.4 158.4 L267.9 160.1 L268.4 161.4 L268.9 159.9 L269.4 158.6 L269.9 157.9 L270.4 160.0 L270.9 160.8 L271.4 160.3 L271.9 159.1 L272.4 158.1 L272.9 159.3 L273.4 161.4 L273.9 160.8 L274.4 158.7 L274.9 158.1 L275.4 158.7 L275.9 160.9 L276.4 161.2 L276.9 159.2 L277.4 157.8 L277.9 158.7 L278.4 160.4 L278.9 160.8 L279.4 159.8 L279.9 157.6 L280.4 158.2 L280.9 159.9 L281.4 161.0 L281.9 160.1 L282.4 158.0 L282.9 158.3 L283.4 159.6 L283.9 160.8 L284.4 160.0 L284.9 158.3 L285.4 158.1 L285.9 159.1 L286.4 160.9 L286.9 160.9 L287.4 159.2 L287.9 158.3 L288.4 158.9 L288.9 160.4 L289.4 161.1 L289.9 159.4 L290.4 158.3 L290.9 158.6 L291.4 160.7 L291.9 161.2 L292.4 159.9 L292.9 158.3 L293.4 158.4 L293.9 160.1 L294.4 161.1 L294.9 160.3 L295.4 158.2 L295.9 158.6 L296.4 159.7 L296.9 161.3 L297.4 160.4 L297.9 158.6 L298.4 158.5 L298.9 159.2 L299.4 160.6 L299.9 160.5 L300.4 158.9 L300.9 158.5 L301.4 159.0 L301.9 160.9 L302.4 160.6 L302.9 159.4 L303.4 158.2 L303.9 159.1 L304.4 160.2 L304.9 161.2 L305.4 159.8 L305.9 157.9 L306.4 158.3 L306.9 160.0 L307.4 160.5 L307.9 160.2 L308.4 158.5 L308.9 158.0 L309.4 159.4 L309.9 161.4 L310.4 160.4 L310.9 158.9 L311.4 158.3 L311.9 159.2 L312.4 161.1 L312.9 160.6 L313.4 158.9 L313.9 157.9 L314.4 159.0 L314.9 160.9 L315.4 160.9 L315.9 159.3 L316.4 157.9 L316.9 158.7 L317.4 160.2 L317.9 160.9 L318.4 159.7 L318.9 158.0 L319.4 158.3 L319.9 159.9 L320.4 161.6 L320.9 160.4 L321.4 158.5 L321.9 158.1 L322.4 160.2 L322.9 161.1 L323.4 160.4 L323.9 158.7 L324.4 158.1 L324.9 159.7 L325.4 160.9 L325.9 161.2 L326.4 158.7 L326.9 158.1 L327.4 158.7 L327.9 161.1 L328.4 160.8 L328.9 159.3 L329.4 158.2 L329.9 158.9 L330.4 160.1 L330.9 160.9 L331.4 159.3 L331.9 158.2 L332.4 158.3 L332.9 160.0 L333.4 160.9 L333.9 160.0 L334.4 158.2 L334.9 158.3 L335.4 160.1 L335.9 160.5 L336.4 160.4 L336.9 158.5 L337.4 158.1 L337.9 159.1 L338.4 160.8 L338.9 160.4 L339.4 159.1 L339.9 158.0 L340.4 158.9 L340.9 160.8 L341.4 160.8 L341.9 158.9 L342.4 158.1 L342.9 158.7 L343.4 160.3 L343.9 161.3 L344.4 160.0 L344.9 157.9 L345.4 158.1 L345.9 160.4 L346.4 161.4 L346.9 159.9 L347.4 158.0 L347.9 158.0 L348.4 159.6 L348.9 160.6 L349.4 160.4 L349.9 158.3 L350.4 157.7 L350.9 159.5 L351.4 160.7 L351.9 160.6 L352.4 159.1 L352.9 158.2 L353.4 158.9 L353.9 160.7 L354.4 160.7 L354.9 159.8 L355.4 158.2 L355.9 158.3 L356.4 160.4 L356.9 161.2 L357.4 159.8 L357.9 158.6 L358.4 158.7 L358.9 159.9 L359.4 161.0 L359.9 159.7 L360.4 158.4 L360.9 158.2 L361.4 160.4 L361.9 161.0 L362.4 159.9 L362.9 158.5 L363.4 158.0 L363.9 159.0 L364.4 160.7 L364.9 160.6 L365.4 159.0 L365.9 157.9 L366.4 158.7 L366.9 160.9 L367.4 160.7 L367.9 159.2 L368.4 157.7 L368.9 158.4 L369.4 160.5 L369.9 160.6 L370.4 159.7 L370.9 158.3 L371.4 158.2 L371.9 160.1 L372.4 160.8 L372.9 160.4 L373.4 158.6 L373.9 158.2 L374.4 159.2 L374.9 160.7 L375.4 160.6 L375.9 159.0 L376.4 158.1 L376.9 159.6 L377.4 160.7 L377.9 160.6 L378.4 159.0 L378.9 158.1 L379.4 158.6 L379.9 160.9 L380.4 161.2 L380.9 159.0 L381.4 157.7 L381.9 158.7 L382.4 160.2 L382.9 160.4 L383.4 159.9 L383.9 158.2 L384.4 158.2 L384.9 160.6 L385.4 161.1 L385.9 159.9 L386.4 158.4 L386.9 157.9 L387.4 159.5 L387.9 161.1 L388.4 160.2 L388.9 158.5 L389.4 158.4 L389.9 159.5 L390.4 161.1 L390.9 160.8 L391.4 159.1 L391.9 158.3 L392.4 158.9 L392.9 161.1 L393.4 160.6 L393.9 159.2 L394.4 157.7 L394.9 158.5 L395.4 160.5 L395.9 161.4 L396.4 159.5 L396.9 158.1 L397.4 158.3 L397.9 159.9 L398.4 160.8 L398.9 160.1 L399.4 157.9 L399.9 158.2 L400.4 159.7 L400.9 160.8 L401.4 160.1 L401.9 158.3 L402.4 158.5 L402.9 159.0 L403.4 161.3 L403.9 160.8 L404.4 158.9 L404.9 157.7 L405.4 159.2 L405.9 161.1 L406.4 160.6 L406.9 159.2 L407.4 158.3 L407.9 158.7 L408.4 160.9 L408.9 160.9 L409.4 159.8 L409.9 157.8 L410.4 158.9 L410.9 159.9 L411.4 160.5 L411.9 160.0 L412.4 158.3 L412.9 158.6 L413.4 159.6 L413.9 161.0 L414.4 160.5 L414.9 159.0 L415.4 158.0 L415.9 159.6 L416.4 161.0 L416.9 160.6 L417.4 159.0 L417.9 158.0 L418.4 158.7 L418.9 161.0 L419.4 160.5 L419.9 159.6 L420.4 158.2 L420.9 158.6 L421.4 160.2 L421.9 160.9 L422.4 159.8 L422.9 158.3 L423.4 158.4 L423.9 160.3 L424.4 160.9 L424.9 160.1 L425.4 157.9 L425.9 158.3 L426.4 159.7 L426.9 160.9 L427.4 160.7 L427.9 158.8 L428.4 157.3 L428.9 159.3 L429.4 160.5 L429.9 160.9 L430.4 159.6 L430.9 157.8 L431.4 159.0 L431.9 160.6 L432.4 161.0 L432.9 159.5 L433.4 158.3 L433.9 158.4 L434.4 160.8 L434.9 160.8 L435.4 159.8 L435.9 158.4 L436.4 158.5 L436.9 159.8 L437.4 160.9 L437.9 159.9 L438.4 158.3 L438.9 158.4 L439.4 159.4 L439.9 161.1 L440.4 160.5 L440.9 158.8 L441.4 158.1 L441.9 159.7 L442.4 161.0 L442.9 160.9 L443.4 159.1 L443.9 158.4 L444.4 158.5 L444.9 161.0 L445.4 160.8 L445.9 159.2 L446.4 157.8 L446.9 158.2 L447.4 160.3 L447.9 160.8 L448.4 159.8 L448.9 157.8 L449.4 158.7 L449.9 160.1 L450.4 161.0 L450.9 159.9 L451.4 158.1 L451.9 157.8 L452.4 159.6 L452.9 161.0 L453.4 160.3 L453.9 158.3 L454.4 157.9 L454.9 159.1 L455.4 160.9 L455.9 161.1 L456.4 159.1 L456.9 157.9 L457.4 158.5 L457.9 160.3 L458.4 160.5 L458.9 159.5 L459.4 157.8 L459.9 158.6 L460.4 160.2 L460.9 161.0 L461.4 160.0 L461.9 158.0 L462.4 158.3 L462.9 159.8 L463.4 161.3 L463.9 159.8 L464.4 158.1 L464.9 157.8 L465.4 159.3 L465.9 161.1 L466.4 161.0 L466.9 158.4 L467.4 158.2 L467.9 159.4 L468.4 160.6 L468.9 160.6 L469.4 158.9 L469.9 157.8 L470.4 159.4 L470.9 160.2 L471.4 161.0 L471.9 159.4 L472.4 157.9 L472.9 158.7 L473.4 160.6 L473.9 161.0 L474.4 159.8 L474.9 158.3 L475.4 157.8 L475.9 160.4 L476.4 161.6 L476.9 160.3 L477.4 158.6 L477.9 157.8 L478.4 159.7 L478.9 160.8 L479.4 160.2 L479.9 158.9 L480.4 157.8 L480.9 159.3 L481.4 160.4 L481.9 160.6 L482.4 159.0 L482.9 157.8 L483.4 158.8 L483.9 161.1 L484.4 160.6 L484.9 159.1 L485.4 157.8 L485.9 158.9 L486.4 160.9 L486.9 161.1 L487.4 159.5 L487.9 158.0 L488.4 158.6 L488.9 159.8 L489.4 161.4 L489.9 160.4 L490.4 158.4 L490.9 158.3 L491.4 159.9 L491.9 161.4 L492.4 160.1 L492.9 158.9 L493.4 157.9 L493.9 159.1 L494.4 160.9 L494.9 160.6 L495.4 158.7 L495.9 157.6 L496.4 158.7 L496.9 161.0 L497.4 161.4 L497.9 159.5 L498.4 158.3 L498.9 158.5 L499.4 160.4 L499.9 161.1 L500.4 159.4 L500.9 157.9 L501.4 158.4 L501.9 160.0 L502.4 160.8 L502.9 160.1 L503.4 158.3 L503.9 158.4 L504.4 159.7 L504.9 160.9 L505.4 160.4 L505.9 158.6 L506.4 157.8 L506.9 159.2 L507.4 161.1 L507.9 160.8 L508.4 159.3 L508.9 157.5 L509.4 158.9 L509.9 160.6 L510.4 160.9 L510.9 159.2 L511.4 157.9 L511.9 158.8 L512.5 160.4 L513.0 160.7 L513.5 160.0 L514.0 158.4 L514.5 158.2 L515.0 160.3 L515.5 160.9 L516.0 160.3 L516.5 158.3 L517.0 157.9 L517.5 159.6 L518.0 160.8 L518.5 160.4 L519.0 158.7 L519.5 158.0 L520.0 159.2 L520.5 160.0 L521.0 160.7 L521.5 158.5 L522.0 158.0 L522.5 159.2 L523.0 160.7 L523.5 160.8 L524.0 159.3 L524.5 158.0 L525.0 158.5 L525.5 160.2 L526.0 160.8 L526.5 160.0 L527.0 158.1 L527.5 158.6 L528.0 160.0 L528.5 161.1 L529.0 160.0 L529.5 158.5 L530.0 158.3 L530.5 159.7 L531.0 160.8 L531.5 160.2 L532.0 159.0 L532.5 157.9 L533.0 159.2 L533.5 161.2 L534.0 160.9 L534.5 159.1 L535.0 157.9 L535.5 159.5 L536.0 160.8 L536.5 161.0 L537.0 159.3 L537.5 157.6 L538.0 158.3 L538.5 160.5 L539.0 161.1 L539.5 159.6 L540.0 157.8 L540.5 158.0 L541.0 160.0 L541.5 160.7 L542.0 160.3 L542.5 158.6 L543.0 158.8 L543.5 159.9 L544.0 160.9 L544.5 160.2 L545.0 157.8 L545.5 157.8 L546.0 159.3 L546.5 161.1 L547.0 160.8 L547.5 159.1 L548.0 158.0 L548.5 159.1 L549.0 161.0 L549.5 160.6 L550.0 159.2 L550.5 157.6 L551.0 159.0 L551.5 160.7 L552.0 161.2 L552.5 159.4 L553.0 158.2 L553.5 158.3 L554.0 160.1 L554.5 161.0 L555.0 160.2 L555.5 158.2 L556.0 158.3 L556.5 159.7 L557.0 160.9 L557.5 160.4 L558.0 158.5 L558.5 158.2 L559.0 159.2 L559.5 160.9 L560.0 160.6 L560.5 158.6 L561.0 158.2 L561.5 158.7 L562.0 160.8 L562.5 161.0 L563.0 158.9 L563.5 157.8 L564.0 158.5 L564.5 160.2 L565.0 160.7 L565.5 159.9 L566.0 158.1 L566.5 158.4 L567.0 159.9 L567.5 161.1 L568.0 159.9 L568.5 158.3 L569.0 158.3 L569.5 159.7 L570.0 160.9 L570.5 160.1 L571.0 158.7 L571.5 158.1 L572.0 159.2 L572.5 160.7 L573.0 160.8 L573.5 159.6 L574.0 157.9 L574.5 159.0 L575.0 160.8 L575.5 160.2 L576.0 159.3 L576.5 157.8 L577.0 159.0 L577.5 160.3 L578.0 160.8 L578.5 159.6 L579.0 158.2 L579.5 158.2 L580.0 160.0 L580.5 160.7 L581.0 160.0 L581.5 158.5 L582.0 158.6 L582.5 159.9 L583.0 161.1 L583.5 160.7 L584.0 158.9 L584.5 158.4 L585.0 159.6 L585.5 160.8 L586.0 160.7 L586.5 159.0 L587.0 158.0 L587.5 159.0 L588.0 160.5 L588.5 160.3 L589.0 159.1 L589.5 157.5 L590.0 158.6 L590.5 160.4 L591.0 160.6 L591.5 159.9 L592.0 158.3 L592.5 158.4 L593.0 160.5 L593.5 161.5 L594.0 159.7 L594.5 158.6 L595.0 158.2 L595.5 159.8 L596.0 161.2 L596.5 160.2 L597.0 158.5 L597.5 157.8 L598.0 159.1 L598.5 160.8 L599.0 160.3 L599.5 158.7 L600.0 158.1 L600.5 158.9 L601.0 160.8 L601.5 160.4 L602.0 159.1 L602.5 157.9 L603.0 158.6 L603.5 160.2 L604.0 161.2 L604.5 159.7 L605.0 158.1 L605.5 158.3 L606.0 160.2 L606.5 160.9 L607.0 160.3 L607.5 158.5 L608.0 158.2 L608.5 159.7 L609.0 161.1 L609.5 160.6 L610.0 158.9 L610.5 158.1 L611.0 159.5 L611.5 160.9 L612.0 161.0 L612.5 158.9 L613.0 157.4 L613.5 159.3 L614.0 160.7 L614.5 160.6 L615.0 159.3 L615.5 157.8 L616.0 159.1 L616.5 160.5 L617.0 160.6 L617.5 159.8 L618.0 158.0 L618.5 158.8 L619.0 159.8 L619.5 160.5 L620.0 160.1 L620.5 158.3 L621.0 158.0 L621.5 159.2 L622.0 161.1 L622.5 160.8 L623.0 158.1 L623.5 158.3 L624.0 159.2 L624.5 161.5 L625.0 160.8 L625.5 158.9 L626.0 158.2 L626.5 159.1 L627.0 160.5 L627.5 161.1 L628.0 159.2 L628.5 157.5 L629.0 159.1 L629.5 160.3 L630.0 160.9 L630.5 159.8 L631.0 157.7 L631.5 158.0 L632.0 159.9 L632.5 160.9 L633.0 160.1 L633.5 158.6 L634.0 158.0 L634.5 159.8 L635.0 161.2 L635.5 160.1 L636.0 158.7 L636.5 157.8 L637.0 159.6 L637.5 161.0 L638.0 160.7 L638.5 158.6 L639.0 158.0 L639.5 158.8 L640.0 160.8 L640.5 160.8 L641.0 159.1 L641.5 158.2 L642.0 158.8 L642.5 160.2 L643.0 161.3 L643.5 159.6 L644.0 158.1 L644.5 158.4 L645.0 159.9 L645.5 160.9 L646.0 160.0 L646.5 158.7 L647.0 158.5 L647.5 159.6 L648.0 161.4 L648.5 160.4 L649.0 158.7 L649.5 158.2 L650.0 159.4 L650.5 161.5 L651.0 160.7 L651.5 158.7 L652.0 158.3 L652.5 158.8 L653.0 160.6 L653.5 160.1 L654.0 159.6 L654.5 158.2 L655.0 158.8 L655.5 160.6 L656.0 161.4 L656.5 159.7 L657.0 158.4 L657.5 158.2 L658.0 160.0 L658.5 161.3 L659.0 160.1 L659.5 158.0 L660.0 158.2 L660.5 159.6 L661.0 160.8 L661.5 160.5 L662.0 158.5 L662.5 157.6 L663.0 159.0 L663.5 161.3 L664.0 160.3 L664.5 159.0 L665.0 158.1 L665.5 159.1 L666.0 160.4 L666.5 160.8 L667.0 159.3 L667.5 158.2 L668.0 158.5 L668.5 160.1 L669.0 161.3 L669.5 160.0 L670.0 158.2 L670.5 158.2 L671.0 160.2 L671.5 161.1 L672.0 160.3 L672.5 158.0 L673.0 158.2 L673.5 159.6 L674.0 160.7 L674.5 160.4 L675.0 158.6 L675.5 157.9 L676.0 159.4 L676.5 160.5 L677.0 160.6 L677.5 159.1 L678.0 158.0 L678.5 159.2 L679.0 160.4 L679.5 160.5 L680.0 159.4 L680.5 158.1 L681.0 159.1 L681.5 160.5 L682.0 160.8 L682.5 159.9 L683.0 157.9 L683.5 158.0 L684.0 160.7 L684.5 161.1 L685.0 160.2 L685.5 158.5 L686.0 158.6 L686.5 159.8 L687.0 161.3 L687.5 160.1 L688.0 158.3 L688.5 158.4 L689.0 159.7 L689.5 161.0 L690.0 160.7 L690.5 159.0 L691.0 157.8 L691.5 159.3 L692.0 160.8 L692.5 161.0 L693.0 159.4 L693.5 158.3 L694.0 158.7 L694.5 160.6 L695.0 160.7 L695.5 159.8 L696.0 158.7 L696.5 158.2 L697.0 160.0 L697.5 161.3 L698.0 160.3 L698.5 158.5 L699.0 157.7 L699.5 159.8 L700.0 160.7 L700.5 160.2 L701.0 158.8 L701.5 157.9 L702.0 159.5 L702.5 161.7 L703.0 160.9 L703.5 159.1 L704.0 157.7 L704.5 158.8 L705.0 160.4 L705.5 160.7 L706.0 159.0 L706.5 157.8 L707.0 158.6 L707.5 160.1 L708.0 160.7 L708.5 159.3 L709.0 158.2 L709.5 158.4 L710.0 160.3 L710.5 161.3 L711.0 160.0 L711.5 158.5 L712.0 157.8 L712.5 160.3 L713.0 161.3 L713.5 160.3 L714.0 158.3 L714.5 158.1 L715.0 158.8 L715.5 160.7 L716.0 160.8 L716.5 159.0 L717.0 157.8 L717.5 159.2 L718.0 160.4 L718.5 160.9 L719.0 159.2 L719.5 157.8 L720.0 158.7 L720.5 160.1 L721.0 161.5 L721.5 159.5 L722.0 158.6 L722.5 158.1 L723.0 160.2 L723.5 160.8 L724.0 159.7 L724.5 158.4 L725.0 158.3 L725.5 159.4 L726.0 161.3 L726.5 160.2 L727.0 158.7 L727.5 158.1 L728.0 159.5 L728.5 160.4 L729.0 161.1 L729.5 159.1 L730.0 157.8 L730.5 158.7 L731.0 160.2 L731.5 160.5 L732.0 159.4 L732.5 157.9 L733.0 158.3 L733.5 160.2 L734.0 161.4 L734.5 159.6 L735.0 158.0 L735.5 158.7 L736.0 160.2 L736.5 161.1 L737.0 159.9 L737.5 158.0 L738.0 157.8 L738.5 159.6 L739.0 161.0 L739.5 160.5 L740.0 158.8 L740.5 158.1 L741.0 159.4 L741.5 160.6 L742.0 160.1 L742.5 158.8 L743.0 157.7 L743.5 158.8 L744.0 160.6 L744.5 160.6 L745.0 159.0 L745.5 158.0 L746.0 158.6 L746.5 160.2 L747.0 161.1 L747.5 159.6 L748.0 157.9 L748.5 158.3 L749.0 160.5 L749.5 160.9 L750.0 160.3 L750.5 158.7 L751.0 158.5 L751.5 159.5 L752.0 161.5 L752.5 160.4 L753.0 158.6 L753.5 157.9 L754.0 159.5 L754.5 160.9 L755.0 160.6 L755.5 159.3 L756.0 157.8 L756.5 158.7 L757.0 160.9 L757.5 161.0 L758.0 159.6 L758.5 157.7 L759.0 158.9 L759.5 160.5 L760.0 161.4 L760.5 159.4 L761.0 158.2 L761.5 158.3 L762.0 159.7 L762.5 160.9 L763.0 160.3 L763.5 158.2 L764.0 157.9 L764.5 159.9 L765.0 161.3 L765.5 160.6 L766.0 158.4 L766.5 158.0 L767.0 159.6 L767.5 160.7 L768.0 160.5 L768.5 159.2 L769.0 158.3 L769.5 158.7 L770.0 160.0 L770.5 160.5 L771.0 159.1 L771.5 158.0 L772.0 158.8 L772.5 160.3 L773.0 160.8 L773.5 159.7 L774.0 157.9 L774.5 158.3 L775.0 159.9 L775.5 161.7 L776.0 160.3 L776.5 158.1 L777.0 157.9 L777.5 159.6 L778.0 160.6 L778.5 160.2 L779.0 158.4 L779.5 158.2 L780.0 159.2 L780.5 160.7 L781.0 160.3 L781.5 158.7 L782.0 157.9 L782.5 158.9 L783.0 160.9 L783.5 160.7 L784.0 159.6 L784.5 158.1 L785.0 158.6 L785.5 159.9 L786.0 160.7 L786.5 159.9 L787.0 158.5 L787.5 158.4 L788.0 160.2 L788.5 160.9 L789.0 160.0 L789.5 158.2 L790.0 158.4 L790.5 159.8 L791.0 160.9 L791.5 160.3 L792.0 158.8 L792.5 158.1 L793.0 159.1 L793.5 161.3 L794.0 160.7 L794.5 159.0 L795.0 158.3 L795.5 159.2 L796.0 160.6 L796.5 161.0 L797.0 159.0 L797.5 157.8 L798.0 158.1 L798.5 160.7 L799.0 160.5 L799.5 159.9 L800.0 157.9 L800.5 158.1 L801.0 160.0 L801.5 161.1 L802.0 160.2 L802.5 158.8 L803.0 158.2 L803.5 159.9 L804.0 160.9 L804.5 160.6 L805.0 158.7 L805.5 157.9 L806.0 159.3 L806.5 160.9 L807.0 160.7 L807.5 159.1 L808.0 157.8 L808.5 158.8 L809.0 160.8 L809.5 160.4 L810.0 159.2 L810.5 158.4 L811.0 157.9 L811.5 160.2 L812.0 161.2 L812.5 159.3 L813.0 158.8 L813.5 157.7 L814.0 160.4 L814.5 161.4 L815.0 160.3 L815.5 158.3 L816.0 158.2 L816.5 159.5 L817.0 161.2 L817.5 160.1 L818.0 158.6 L818.5 158.2 L819.0 159.0 L819.5 160.8 L820.0 160.7 L820.5 158.6 L821.0 158.2 L821.5 159.0 L822.0 160.3 L822.5 160.9 L823.0 159.1 L823.5 157.8 L824.0 158.6 L824.5 160.2 L825.0 161.2 L825.5 159.5 L826.0 158.4 L826.5 158.3 L827.0 160.3 L827.5 160.9 L828.0 159.9 L828.5 158.1 L829.0 158.3 L829.5 159.9 L830.0 161.5 L830.5 160.7 L831.0 158.7 L831.5 157.9 L832.0 159.4 L832.5 160.9 L833.0 161.0 L833.5 159.2 L834.0 157.7 L834.5 158.8 L835.0 161.0 L835.5 160.9 L836.0 159.3 L836.5 158.3 L837.0 158.5 L837.5 160.3 L838.0 160.9 L838.5 159.2 L839.0 158.3 L839.5 158.0 L840.0 159.9 L840.5 160.9 L841.0 160.2 L841.5 158.3 L842.0 158.1 L842.5 159.3 L843.0 161.0 L843.5 160.0 L844.0 158.7 L844.5 158.1 L845.0 159.3 L845.5 161.4 L846.0 160.8 L846.5 159.1 L847.0 158.0 L847.5 158.9 L848.0 160.9 L848.5 161.1 L849.0 159.0 L849.5 158.3 L850.0 158.7 L850.5 160.6 L851.0 161.1 L851.5 159.4 L852.0 157.8 L852.5 158.8 L853.0 160.1 L853.5 160.7 L854.0 160.1 L854.5 158.2 L855.0 157.7 L855.5 159.1 L856.0 160.6 L856.5 160.4 L857.0 158.6 L857.5 157.9 L858.0 159.4 L858.5 161.0 L859.0 160.1 L859.5 158.9 L860.0 157.7 L860.5 158.6 L861.0 160.5 L861.5 160.8 L862.0 159.2 L862.5 157.6 L863.0 158.5 L863.5 160.9 L864.0 160.7 L864.5 159.3 L865.0 158.2 L865.5 158.5 L866.0 160.2 L866.5 160.8 L867.0 160.3 L867.5 158.1 L868.0 157.8 L868.5 159.5 L869.0 161.0 L869.5 160.6 L870.0 158.8 L870.5 158.0 L871.0 159.5 L871.5 160.9 L872.0 160.9 L872.5 158.6 L873.0 157.6 L873.5 159.1 L874.0 160.3 L874.5 160.8 L875.0 159.3 L875.5 157.9 L876.0 158.5 L876.5 160.7 L877.0 160.4 L877.5 159.9 L878.0 158.7 L878.5 158.3 L879.0 160.0 L879.5 161.2 L880.0 160.5 L880.5 158.0 L881.0 158.1 L881.5 159.6 L882.0 161.1 L882.5 160.4 L883.0 158.8 L883.5 157.9 L884.0 159.3 L884.5 160.7 L885.0 160.5 L885.5 158.9 L886.0 157.9 L886.5 158.7 L887.0 161.1 L887.5 160.8 L888.0 159.0 L888.5 158.3 L889.0 158.4 L889.5 160.5 L890.0 161.0 L890.5 159.7 L891.0 158.2 L891.5 158.2 L892.0 160.1 L892.5 161.6 L893.0 159.5 L893.5 158.4 L894.0 158.2 L894.5 159.4 L895.0 160.7 L895.5 160.9 L896.0 158.5 L896.5 158.5 L897.0 159.4 L897.5 160.9 L898.0 160.8 L898.5 159.1 L899.0 158.2 L899.5 159.1 L900.0 160.7 L900.5 160.9 L901.0 159.7 L901.5 158.2 L902.0 158.4 L902.5 160.2 L903.0 161.1 L903.5 159.5 L904.0 158.0 L904.5 158.1 L905.0 160.0 L905.5 161.2 L906.0 160.3 L906.5 158.3 L907.0 158.6 L907.5 159.7 L908.0 161.8 L908.5 160.6 L909.0 158.7 L909.5 157.9 L910.0 158.6 L910.5 160.8 L911.0 160.7 L911.5 159.4 L912.0 157.6 L912.5 159.4 L913.0 160.6 L913.5 161.1 L914.0 158.7 L914.5 158.0 L915.0 158.5 L915.5 160.6 L916.0 161.0 L916.5 159.4 L917.0 158.4 L917.5 158.5 L918.0 160.2 L918.5 161.3 L919.0 160.3 L919.5 158.3 L920.0 157.8 L920.5 159.3 L921.0 161.3 L921.5 160.6 L922.0 158.6 L922.5 157.9 L923.0 159.3 L923.5 160.9 L924.0 160.6 L924.5 158.8 L925.0 158.5 L925.5 159.0 L926.0 160.5 L926.5 160.5 L927.0 159.1 L927.5 158.2 L928.0 158.8 L928.5 160.3 L929.0 161.0 L929.5 159.6 L930.0 157.9 L930.5 158.7 L931.0 160.1 L931.5 161.7 L932.0 159.9 L932.5 158.3 L933.0 158.3 L933.5 159.6 L934.0 160.7 L934.5 160.1 L935.0 158.6 L935.5 158.1 L936.0 159.3 L936.5 161.1 L937.0 160.9 L937.5 159.0 L938.0 158.0 L938.5 158.9 L939.0 160.8 L939.5 161.1 L940.0 159.3 L940.5 158.1 L941.0 158.5 L941.5 160.0 L942.0 160.8 L942.5 159.9 L943.0 158.2 L943.5 158.7 L944.0 160.1 L944.5 161.3 L945.0 160.4 L945.5 158.6 L946.0 158.0 L946.5 159.6 L947.0 161.0 L947.5 160.1 L948.0 158.7 L948.5 158.3 L949.0 159.2 L949.5 161.4 L950.0 160.6 L950.5 158.9 L951.0 157.9 L951.5 158.8 L952.0 160.8 L952.5 160.9 L953.0 159.7 L953.5 158.1 L954.0 158.8 L954.5 160.3 L955.0 160.7 L955.5 159.7 L956.0 157.9 L956.5 158.6 L957.0 160.0 L957.5 161.5 L958.0 160.2 L958.5 158.5 L959.0 158.2 L959.5 159.7 L960.0 161.2 L960.5 160.6 L961.0 158.4 L961.5 158.1 L962.0 160.0 L962.5 160.9 L963.0 160.6 L963.5 158.8 L964.0 157.6 L964.5 159.2 L965.0 160.7 L965.5 160.9 L966.0 159.8 L966.5 158.6 L967.0 158.4 L967.5 160.6 L968.0 161.2 L968.5 159.8 L969.0 158.2 L969.5 158.3 L970.0 160.4 L970.5 161.2 L971.0 160.1 L971.5 158.7 L972.0 158.4 L972.5 159.8 L973.0 161.1 L973.5 160.8 L974.0 158.7 L974.5 158.0 L975.0 159.1 L975.5 160.8 L976.0 160.4 L976.5 159.0 L977.0 158.0 L977.5 158.4 L978.0 160.7 L978.5 161.0 L979.0 159.4 L979.5 157.8 L980.0 158.9 L980.5 160.2 L981.0 160.7 L981.5 159.4 L982.0 158.1 L982.5 158.6 L983.0 160.3 L983.5 161.1 L984.0 159.8 L984.5 158.2 L985.0 157.9 L985.5 159.6 L986.0 160.6 L986.5 160.4 L987.0 158.8 L987.5 158.0 L988.0 159.4 L988.5 160.6 L989.0 160.3 L989.5 158.8 L990.0 158.2 L990.5 159.2 L991.0 160.5 L991.5 161.2 L992.0 159.2 L992.5 158.4 L993.0 158.7 L993.5 160.3 L994.0 161.2 L994.5 159.5 L995.0 157.9 L995.5 158.0 L996.0 160.1 L996.5 161.0 L997.0 160.0 L997.5 158.2 L998.0 158.5 L998.5 159.6 L999.0 160.8 L999.5 160.7 L1000.0 159.0 L1000.5 158.1 L1001.0 158.9 L1001.5 160.7 L1002.0 160.8 L1002.5 159.0 L1003.0 158.3 L1003.5 158.6 L1004.0 160.8 L1004.5 160.7 L1005.0 159.6 L1005.5 158.0 L1006.0 158.9 L1006.5 160.2 L1007.0 160.7 L1007.5 159.4 L1008.0 158.0 L1008.5 158.1 L1009.0 160.3 L1009.5 161.4 L1010.0 160.1 L1010.5 158.1 L1011.0 158.1 L1011.5 159.5 L1012.0 161.4 L1012.5 160.5 L1013.0 158.7 L1013.5 157.9 L1014.0 158.8 L1014.5 160.7 L1015.0 160.4 L1015.5 159.0 L1016.0 158.0 L1016.5 158.7 L1017.0 160.6 L1017.5 161.3 L1018.0 159.1 L1018.5 157.8 L1019.0 158.6 L1019.5 160.2 L1020.0 160.9 L1020.5 159.8 L1021.0 158.6 L1021.5 157.9 L1022.0 160.0 L1022.5 161.1 L1023.0 160.0 L1023.5 158.3 L1024.0 158.0 L1024.5 159.9 L1025.0 160.9 L1025.5 160.3 L1026.0 158.6 L1026.5 158.0 L1027.0 159.3 L1027.5 161.1 L1028.0 160.7 L1028.5 159.0 L1029.0 157.9 L1029.5 158.7 L1030.0 160.5 L1030.5 160.6 L1031.0 159.4 L1031.5 157.8 L1032.0 158.4 L1032.5 160.4 L1033.0 161.1 L1033.5 159.2 L1034.0 158.5 L1034.5 158.3 L1035.0 160.0 L1035.5 161.3 L1036.0 160.1 L1036.5 158.2 L1037.0 158.7 L1037.5 159.4 L1038.0 161.0 L1038.5 160.6 L1039.0 158.4 L1039.5 158.0 L1040.0 159.4 L1040.5 161.5 L1041.0 160.4 L1041.5 158.9 L1042.0 158.1 L1042.5 159.0 L1043.0 160.4 L1043.5 161.0 L1044.0 159.3 L1044.5 158.1 L1045.0 158.9 L1045.5 160.6 L1046.0 161.1 L1046.5 159.8 L1047.0 157.9 L1047.5 158.3 L1048.0 160.1 L1048.5 160.9 L1049.0 160.1 L1049.5 158.1 L1050.0 158.5 L1050.5 160.2 L1051.0 160.9 L1051.5 160.5 L1052.0 158.6 L1052.5 158.3 L1053.0 159.4 L1053.5 160.9 L1054.0 160.6 L1054.5 159.0 L1055.0 157.7 L1055.5 159.1 L1056.0 160.5 L1056.5 161.0 L1057.0 159.3 L1057.5 158.3 L1058.0 158.6 L1058.5 160.6" fill="none" stroke="#338042" stroke-width="3.5" stroke-linejoin="round" stroke-linecap="butt" />
<path d="M75.5 138.2 L76.0 139.7 L76.5 138.9 L77.1 139.3 L77.6 139.2 L78.2 140.0 L78.7 137.1 L79.3 139.4 L79.8 137.6 L80.4 140.3 L80.9 137.1 L81.5 138.1 L82.0 137.4 L82.6 140.7 L83.1 137.8 L83.7 139.2 L84.2 138.6 L84.8 137.3 L85.3 138.8 L85.9 139.8 L86.4 138.9 L87.0 140.0 L87.5 138.7 L88.1 139.1 L88.6 138.7 L89.2 139.4 L89.7 141.0 L90.3 139.5 L90.8 139.3 L91.4 138.5 L91.9 138.3 L92.5 140.6 L93.0 138.0 L93.6 138.2 L94.1 139.0 L94.7 138.7 L95.2 141.1 L95.8 136.7 L96.3 139.5 L96.9 139.8 L97.4 138.0 L98.0 138.5 L98.5 139.5 L99.1 140.7 L99.6 138.2 L100.2 137.5 L100.7 140.1 L101.3 140.6 L101.8 138.8 L102.4 136.9 L102.9 140.6 L103.5 138.9 L104.0 140.2 L104.6 139.1 L105.1 138.7 L105.7 138.6 L106.2 140.6 L106.8 140.5 L107.3 137.0 L107.9 138.2 L108.4 140.9 L109.0 138.7 L109.5 137.7 L110.1 139.1 L110.6 139.0 L111.2 139.0 L111.7 138.6 L112.3 138.8 L112.8 138.6 L113.4 139.4 L113.9 138.3 L114.5 138.8 L115.0 139.0 L115.6 140.4 L116.1 139.5 L116.7 139.0 L117.2 139.6 L117.8 139.5 L118.3 140.2 L118.9 139.6 L119.4 140.9 L120.0 140.4 L120.5 139.1 L121.1 138.7 L121.6 140.0 L122.2 139.6 L122.7 139.0 L123.3 137.6 L123.8 137.3 L124.4 139.4 L124.9 139.9 L125.5 139.9 L126.0 137.8 L126.6 140.1 L127.1 138.6 L127.7 139.5 L128.2 139.5 L128.8 138.3 L129.3 138.5 L129.9 137.0 L130.4 138.2 L131.0 137.3 L131.5 139.5 L132.1 139.2 L132.6 140.0 L133.2 139.5 L133.7 138.5 L134.3 139.4 L134.8 138.7 L135.4 139.7 L135.9 139.4 L136.5 138.1 L137.0 139.1 L137.6 139.2 L138.1 138.8 L138.7 140.0 L139.2 140.8 L139.8 138.7 L140.3 138.7 L140.9 136.9 L141.4 139.0 L142.0 138.7 L142.5 136.9 L143.1 139.4 L143.6 139.7 L144.2 138.4 L144.7 138.7 L145.3 138.1 L145.8 139.9 L146.4 137.6 L146.9 138.8 L147.5 141.1 L148.0 139.2 L148.6 139.6 L149.1 139.0 L149.7 137.9 L150.2 139.1 L150.8 139.5 L151.3 138.1 L151.9 139.4 L152.4 140.3 L153.0 140.2 L153.5 137.5 L154.1 138.1 L154.6 137.5 L155.2 140.2 L155.7 139.7 L156.3 139.8 L156.8 138.2 L157.4 137.9 L157.9 139.2 L158.5 139.2 L159.0 138.2 L159.6 139.2 L160.1 139.7 L160.7 139.3 L161.2 138.1 L161.8 137.0 L162.3 138.8 L162.9 139.3 L163.4 138.8 L164.0 138.7 L164.5 138.4 L165.1 139.8 L165.6 139.0 L166.2 139.2 L166.7 138.1 L167.3 138.5 L167.8 139.3 L168.4 138.1 L168.9 137.8 L169.5 138.8 L170.0 140.3 L170.6 139.3 L171.1 140.6 L171.7 139.0 L172.2 138.8 L172.8 137.7 L173.3 138.5 L173.9 140.5 L174.4 139.4 L175.0 139.8 L175.5 139.8 L176.1 139.1 L176.6 138.9 L177.2 139.2 L177.7 139.8 L178.3 139.6 L178.8 139.6 L179.4 139.3 L179.9 138.3 L180.5 138.8 L181.0 138.2 L181.6 140.1 L182.1 137.0 L182.7 138.9 L183.2 141.5 L183.8 138.8 L184.3 138.0 L184.9 139.1 L185.4 140.4 L186.0 138.9 L186.5 139.7 L187.1 139.2 L187.6 138.7 L188.2 142.3 L188.7 139.2 L189.3 138.6 L189.8 138.6 L190.4 139.5 L190.9 139.5 L191.5 139.9 L192.0 139.2 L192.6 137.7 L193.1 139.6 L193.7 138.8 L194.2 138.8 L194.8 137.6 L195.3 138.5 L195.9 138.4 L196.4 139.1 L197.0 137.6 L197.5 139.2 L198.1 139.2 L198.6 138.0 L199.2 138.5 L199.7 138.2 L200.3 140.0 L200.8 136.6 L201.4 138.8 L201.9 137.4 L202.5 138.7 L203.0 139.9 L203.6 138.5 L204.1 139.2 L204.7 138.3 L205.2 141.0 L205.8 140.0 L206.3 140.2 L206.9 137.8 L207.4 138.0 L208.0 140.2 L208.5 138.9 L209.1 138.8 L209.6 139.4 L210.2 137.8 L210.7 139.9 L211.3 139.1 L211.8 139.6 L212.4 138.4 L212.9 139.6 L213.5 138.4 L214.0 140.1 L214.6 140.2 L215.1 140.0 L215.7 139.6 L216.2 139.7 L216.8 136.4 L217.3 139.9 L217.9 138.8 L218.4 139.2 L219.0 138.8 L219.5 137.7 L220.1 138.6 L220.6 139.8 L221.2 140.5 L221.7 138.5 L222.3 138.2 L222.8 140.6 L223.4 138.2 L223.9 141.2 L224.5 139.2 L225.0 138.2 L225.6 140.1 L226.1 140.8 L226.7 137.7 L227.2 140.7 L227.8 138.8 L228.3 140.6 L228.9 138.7 L229.4 137.5 L230.0 139.6 L230.5 140.0 L231.1 141.2 L231.6 140.8 L232.2 139.8 L232.7 138.9 L233.3 138.6 L233.8 138.8 L234.4 138.3 L234.9 138.8 L235.5 136.6 L236.0 139.3 L236.6 139.1 L237.1 141.7 L237.7 139.9 L238.2 138.6 L238.8 139.7 L239.3 137.9 L239.9 138.5 L240.4 137.2 L241.0 140.5 L241.5 139.7 L242.1 137.9 L242.6 139.0 L243.2 140.0 L243.7 139.6 L244.3 139.5 L244.8 138.2 L245.4 138.5 L245.9 139.2 L246.5 140.0 L247.0 138.3 L247.6 138.0 L248.1 140.2 L248.7 138.2 L249.2 140.2 L249.8 139.3 L250.3 140.0 L250.9 140.8 L251.4 139.8 L252.0 139.9 L252.5 138.2 L253.1 138.4 L253.6 139.7 L254.2 140.6 L254.7 140.5 L255.3 141.4 L255.8 139.4 L256.4 139.3 L256.9 140.1 L257.5 139.1 L258.0 139.0 L258.6 138.1 L259.1 140.1 L259.7 138.0 L260.2 139.6 L260.8 137.7 L261.3 140.2 L261.9 138.1 L262.4 139.9 L263.0 137.5 L263.5 138.7 L264.1 140.3 L264.6 138.3 L265.2 139.2 L265.7 138.6 L266.3 136.8 L266.8 139.4 L267.4 139.5 L267.9 138.0 L268.5 139.7 L269.0 138.3 L269.6 138.1 L270.1 139.1 L270.7 138.4 L271.2 141.4 L271.8 137.5 L272.3 139.8 L272.9 140.1 L273.4 137.1 L274.0 137.4 L274.5 139.7 L275.1 138.6 L275.6 139.5 L276.2 140.2 L276.7 138.7 L277.3 138.0 L277.8 136.4 L278.4 139.3 L278.9 138.2 L279.5 139.4 L280.0 139.3 L280.6 137.7 L281.1 140.8 L281.7 140.2 L282.2 139.9 L282.8 137.9 L283.3 138.7 L283.9 138.6 L284.4 138.7 L285.0 138.0 L285.5 139.5 L286.1 139.3 L286.6 139.5 L287.2 138.6 L287.7 140.4 L288.3 139.3 L288.8 136.4 L289.4 138.5 L289.9 139.0 L290.5 140.1 L291.0 138.8 L291.6 138.8 L292.1 138.4 L292.7 139.8 L293.2 138.7 L293.8 138.5 L294.3 138.4 L294.9 139.7 L295.4 138.6 L296.0 137.4 L296.5 139.7 L297.1 138.4 L297.6 139.5 L298.2 139.5 L298.7 140.3 L299.3 140.1 L299.8 138.5 L300.4 138.9 L300.9 137.8 L301.5 140.8 L302.0 139.5 L302.6 140.5 L303.1 138.8 L303.7 137.1 L304.2 140.6 L304.8 139.2 L305.3 139.2 L305.9 139.2 L306.4 139.7 L307.0 139.6 L307.5 137.5 L308.1 140.2 L308.6 138.6 L309.2 138.6 L309.7 140.8 L310.3 140.0 L310.8 138.8 L311.4 137.2 L311.9 139.3 L312.5 139.6 L313.0 139.0 L313.6 137.9 L314.1 138.3 L314.7 137.8 L315.2 139.3 L315.8 139.9 L316.3 140.1 L316.9 138.4 L317.4 139.3 L318.0 139.7 L318.5 138.6 L319.1 139.0 L319.6 141.2 L320.2 139.3 L320.7 140.0 L321.3 138.7 L321.8 139.1 L322.4 137.4 L322.9 139.1 L323.5 140.3 L324.0 141.2 L324.6 140.3 L325.1 139.8 L325.7 139.2 L326.2 138.5 L326.8 138.9 L327.3 139.7 L327.9 138.3 L328.4 140.0 L329.0 138.1 L329.5 137.3 L330.1 138.1 L330.6 137.4 L331.2 137.7 L331.7 140.2 L332.3 138.9 L332.8 139.3 L333.4 140.3 L333.9 140.4 L334.5 138.6 L335.0 140.4 L335.6 139.5 L336.1 139.1 L336.7 139.5 L337.2 137.7 L337.8 138.3 L338.3 139.0 L338.9 139.7 L339.4 138.7 L340.0 139.0 L340.5 140.1 L341.1 140.5 L341.6 139.9 L342.2 140.4 L342.7 138.7 L343.3 138.8 L343.8 139.4 L344.4 138.8 L344.9 138.6 L345.5 140.8 L346.0 138.9 L346.6 138.1 L347.1 139.6 L347.7 140.9 L348.2 139.2 L348.8 140.3 L349.3 138.7 L349.9 138.6 L350.4 138.4 L351.0 139.0 L351.5 140.9 L352.1 137.9 L352.6 140.7 L353.2 138.1 L353.7 138.9 L354.3 139.9 L354.8 139.7 L355.4 139.4 L355.9 137.5 L356.5 139.5 L357.0 138.1 L357.6 141.7 L358.1 138.9 L358.7 139.3 L359.2 138.0 L359.8 138.6 L360.3 137.8 L360.9 140.1 L361.4 138.8 L362.0 139.7 L362.5 138.4 L363.1 138.6 L363.6 140.4 L364.2 138.1 L364.7 137.3 L365.3 139.5 L365.8 138.0 L366.4 138.7 L366.9 140.0 L367.5 138.3 L368.0 140.0 L368.6 138.4 L369.1 140.6 L369.7 140.4 L370.2 138.6 L370.8 138.9 L371.3 138.3 L371.9 139.3 L372.4 140.2 L373.0 137.7 L373.5 140.0 L374.1 137.8 L374.6 138.2 L375.2 137.3 L375.7 141.2 L376.3 139.2 L376.8 139.3 L377.4 138.4 L377.9 140.2 L378.5 137.0 L379.0 139.1 L379.6 141.3 L380.1 138.7 L380.7 139.1 L381.2 139.8 L381.8 138.3 L382.3 139.1 L382.9 140.1 L383.4 139.3 L384.0 139.5 L384.5 138.8 L385.1 139.4 L385.6 139.2 L386.2 140.6 L386.7 139.8 L387.3 138.9 L387.8 136.7 L388.4 139.8 L388.9 139.9 L389.5 138.2 L390.0 137.1 L390.6 138.0 L391.1 140.0 L391.7 138.0 L392.2 138.6 L392.8 139.3 L393.3 140.3 L393.9 139.1 L394.4 139.0 L395.0 138.6 L395.5 140.7 L396.1 140.2 L396.6 139.0 L397.2 137.7 L397.7 138.3 L398.3 139.7 L398.8 138.4 L399.4 140.0 L399.9 139.5 L400.5 139.4 L401.0 139.8 L401.6 139.6 L402.1 138.2 L402.7 138.8 L403.2 141.4 L403.8 137.9 L404.3 138.6 L404.9 140.2 L405.4 138.9 L406.0 138.3 L406.5 137.8 L407.1 139.6 L407.6 140.1 L408.2 140.5 L408.7 139.2 L409.3 140.1 L409.8 138.1 L410.4 139.3 L410.9 138.4 L411.5 139.3 L412.0 139.9 L412.6 140.2 L413.1 138.1 L413.7 140.4 L414.2 138.6 L414.8 138.1 L415.3 138.9 L415.9 137.6 L416.4 139.1 L417.0 139.4 L417.5 138.9 L418.1 139.6 L418.6 138.8 L419.2 139.1 L419.7 137.7 L420.3 139.1 L420.8 138.2 L421.4 138.7 L421.9 139.0 L422.5 139.3 L423.0 137.5 L423.6 137.5 L424.1 138.8 L424.7 139.6 L425.2 139.5 L425.8 140.0 L426.3 140.4 L426.9 139.6 L427.4 139.1 L428.0 138.1 L428.5 138.2 L429.1 138.6 L429.6 139.4 L430.2 139.3 L430.7 139.1 L431.3 138.9 L431.8 139.7 L432.4 139.3 L432.9 139.4 L433.5 139.4 L434.0 138.6 L434.6 138.1 L435.1 139.6 L435.7 139.5 L436.2 138.9 L436.8 138.7 L437.3 141.4 L437.9 138.3 L438.4 138.9 L439.0 139.4 L439.5 137.9 L440.1 139.2 L440.6 140.9 L441.2 140.0 L441.7 139.7 L442.3 139.7 L442.8 139.2 L443.4 140.1 L443.9 138.9 L444.5 138.7 L445.0 139.2 L445.6 140.0 L446.1 139.4 L446.7 139.8 L447.2 137.1 L447.8 140.3 L448.3 141.4 L448.9 140.4 L449.4 138.8 L450.0 138.3 L450.5 139.4 L451.1 138.1 L451.6 139.8 L452.2 138.6 L452.7 140.1 L453.3 140.5 L453.8 137.1 L454.4 139.4 L454.9 138.4 L455.5 137.7 L456.0 138.5 L456.6 138.9 L457.1 140.1 L457.7 137.6 L458.2 140.2 L458.8 141.1 L459.3 139.7 L459.9 139.6 L460.4 139.1 L461.0 137.9 L461.5 139.6 L462.1 139.5 L462.6 139.8 L463.2 141.7 L463.7 139.8 L464.3 139.5 L464.8 140.7 L465.4 137.8 L465.9 138.0 L466.5 138.7 L467.0 138.4 L467.6 139.8 L468.1 138.8 L468.7 140.8 L469.2 140.6 L469.8 139.9 L470.3 138.7 L470.9 139.7 L471.4 139.9 L472.0 138.0 L472.5 139.4 L473.1 139.8 L473.6 139.3 L474.2 140.7 L474.7 140.3 L475.3 138.3 L475.8 139.2 L476.4 138.3 L476.9 139.7 L477.5 138.2 L478.0 140.0 L478.6 139.5 L479.1 140.1 L479.7 139.0 L480.2 137.6 L480.8 140.9 L481.3 138.9 L481.9 140.5 L482.4 139.5 L483.0 139.8 L483.5 140.9 L484.1 139.4 L484.6 140.5 L485.2 137.6 L485.7 140.0 L486.3 138.9 L486.8 139.0 L487.4 139.1 L487.9 139.4 L488.5 140.8 L489.0 137.2 L489.6 139.1 L490.1 138.4 L490.7 140.3 L491.2 138.7 L491.8 139.6 L492.3 138.7 L492.9 139.8 L493.4 140.1 L494.0 138.7 L494.5 139.1 L495.1 137.7 L495.6 139.4 L496.2 140.0 L496.7 138.5 L497.3 140.2 L497.8 137.0 L498.4 137.2 L498.9 137.7 L499.5 138.6 L500.0 139.1 L500.6 139.0 L501.1 139.0 L501.7 139.8 L502.2 138.6 L502.8 137.8 L503.3 137.9 L503.9 141.2 L504.4 136.7 L505.0 138.9 L505.5 140.6 L506.1 139.6 L506.6 138.3 L507.2 139.1 L507.7 140.0 L508.3 140.3 L508.8 138.2 L509.4 139.9 L509.9 139.4 L510.5 140.2 L511.0 140.5 L511.6 138.8 L512.1 137.7 L512.7 139.5 L513.2 140.9 L513.8 139.8 L514.3 139.3 L514.9 141.5 L515.4 138.1 L516.0 140.0 L516.5 138.5 L517.1 139.1 L517.6 139.2 L518.2 140.6 L518.7 138.2 L519.3 138.6 L519.8 137.5 L520.4 139.6 L520.9 138.6 L521.5 139.5 L522.0 138.0 L522.6 138.7 L523.1 140.1 L523.7 138.9 L524.2 139.7 L524.8 139.6 L525.3 138.7 L525.9 137.5 L526.4 140.1 L527.0 139.3 L527.5 140.1 L528.1 137.1 L528.6 137.4 L529.2 137.0 L529.7 138.2 L530.3 140.1 L530.8 118.3 L531.4 117.7 L531.9 117.8 L532.5 118.5 L533.0 117.4 L533.6 118.1 L534.1 117.8 L534.7 115.5 L535.2 117.3 L535.8 119.1 L536.3 117.3 L536.9 117.6 L537.4 117.1 L538.0 117.2 L538.5 118.8 L539.1 117.4 L539.6 116.7 L540.2 114.6 L540.7 117.1 L541.3 115.7 L541.8 115.9 L542.4 118.5 L542.9 118.4 L543.5 115.8 L544.0 118.6 L544.6 118.2 L545.1 116.9 L545.7 118.4 L546.2 116.1 L546.8 116.5 L547.3 116.3 L547.9 116.6 L548.4 118.6 L549.0 116.4 L549.5 116.5 L550.1 116.7 L550.6 117.9 L551.2 117.4 L551.7 118.6 L552.3 117.0 L552.8 116.4 L553.4 117.2 L553.9 117.7 L554.5 116.8 L555.0 118.0 L555.6 119.5 L556.1 117.1 L556.7 117.7 L557.2 119.0 L557.8 117.0 L558.3 116.8 L558.9 116.6 L559.4 118.1 L560.0 118.2 L560.5 117.5 L561.1 117.7 L561.6 119.0 L562.2 118.5 L562.7 116.3 L563.3 117.7 L563.8 117.8 L564.4 118.4 L564.9 117.5 L565.5 117.0 L566.0 117.2 L566.6 115.9 L567.1 117.6 L567.7 117.1 L568.2 118.1 L568.8 116.6 L569.3 117.2 L569.9 116.7 L570.4 116.6 L571.0 118.4 L571.5 117.2 L572.1 118.1 L572.6 116.5 L573.2 117.8 L573.7 116.0 L574.3 117.2 L574.8 117.2 L575.4 118.2 L575.9 117.8 L576.5 117.5 L577.0 118.5 L577.6 117.8 L578.1 118.2 L578.7 118.4 L579.2 117.6 L579.8 117.4 L580.3 118.0 L580.9 117.2 L581.4 118.0 L582.0 118.8 L582.5 118.5 L583.1 117.3 L583.6 116.4 L584.2 117.6 L584.7 117.5 L585.3 118.8 L585.8 117.3 L586.4 117.4 L586.9 118.4 L587.5 117.2 L588.0 117.5 L588.6 119.4 L589.1 119.1 L589.7 118.3 L590.2 117.9 L590.8 116.7 L591.3 118.2 L591.9 117.7 L592.4 117.9 L593.0 117.1 L593.5 117.6 L594.1 117.5 L594.6 118.0 L595.2 119.1 L595.7 118.0 L596.3 116.0 L596.8 116.7 L597.4 116.1 L597.9 116.9 L598.5 118.2 L599.0 118.1 L599.6 117.1 L600.1 117.9 L600.7 116.9 L601.2 116.2 L601.8 116.2 L602.3 116.8 L602.9 119.1 L603.4 116.3 L604.0 118.9 L604.5 119.0 L605.1 117.5 L605.6 117.6 L606.2 117.0 L606.7 117.6 L607.3 118.3 L607.8 117.7 L608.4 118.6 L608.9 118.8 L609.5 118.0 L610.0 118.0 L610.6 117.6 L611.1 118.0 L611.7 116.5 L612.2 118.1 L612.8 117.9 L613.3 116.8 L613.9 119.8 L614.4 116.7 L615.0 116.8 L615.5 117.9 L616.1 115.7 L616.6 116.9 L617.2 116.1 L617.7 116.7 L618.3 117.5 L618.8 118.0 L619.4 118.7 L619.9 118.5 L620.5 118.8 L621.0 118.2 L621.6 117.2 L622.1 118.8 L622.7 117.2 L623.2 117.0 L623.8 119.2 L624.3 118.4 L624.9 117.9 L625.4 118.4 L626.0 118.5 L626.5 116.3 L627.1 117.6 L627.6 116.5 L628.2 117.8 L628.7 117.0 L629.3 119.0 L629.8 118.2 L630.4 116.8 L630.9 117.6 L631.5 116.4 L632.0 117.7 L632.6 118.2 L633.1 117.9 L633.7 115.7 L634.2 117.3 L634.8 118.2 L635.3 117.9 L635.9 118.8 L636.4 116.4 L637.0 118.2 L637.5 117.0 L638.1 117.8 L638.6 118.0 L639.2 118.3 L639.7 117.1 L640.3 117.8 L640.8 116.5 L641.4 116.2 L641.9 118.2 L642.5 117.6 L643.0 116.0 L643.6 116.8 L644.1 117.7 L644.7 119.2 L645.2 118.7 L645.8 118.4 L646.3 115.9 L646.9 117.5 L647.4 118.1 L648.0 118.0 L648.5 118.1 L649.1 117.4 L649.6 119.4 L650.2 119.1 L650.7 117.5 L651.3 116.7 L651.8 119.7 L652.4 117.1 L652.9 118.8 L653.5 119.6 L654.0 116.7 L654.6 117.9 L655.1 117.3 L655.7 118.2 L656.2 118.0 L656.8 119.6 L657.3 118.2 L657.9 117.6 L658.4 118.8 L659.0 117.4 L659.5 117.3 L660.1 119.9 L660.6 116.8 L661.2 117.2 L661.7 117.7 L662.3 116.6 L662.8 115.5 L663.4 118.7 L663.9 116.9 L664.5 117.1 L665.0 117.3 L665.6 116.7 L666.1 116.6 L666.7 117.8 L667.2 120.0 L667.8 118.4 L668.3 118.4 L668.9 116.1 L669.4 117.6 L670.0 116.5 L670.5 118.4 L671.1 117.4 L671.6 117.7 L672.2 117.6 L672.7 117.1 L673.3 116.1 L673.8 118.2 L674.4 116.3 L674.9 116.5 L675.5 117.3 L676.0 116.9 L676.6 117.9 L677.1 118.7 L677.7 117.9 L678.2 117.8 L678.8 117.7 L679.3 118.5 L679.9 115.8 L680.4 118.0 L681.0 116.7 L681.5 116.4 L682.1 117.6 L682.6 117.3 L683.2 118.2 L683.7 118.7 L684.3 115.3 L684.8 117.6 L685.4 119.6 L685.9 118.5 L686.5 119.1 L687.0 117.7 L687.6 116.2 L688.1 116.5 L688.7 118.4 L689.2 118.6 L689.8 116.9 L690.3 117.4 L690.9 117.9 L691.4 115.9 L692.0 117.3 L692.5 119.3 L693.1 119.8 L693.6 117.5 L694.2 119.5 L694.7 117.1 L695.3 116.8 L695.8 115.4 L696.4 118.6 L696.9 117.3 L697.5 120.0 L698.0 118.0 L698.6 117.8 L699.1 115.8 L699.7 119.1 L700.2 117.3 L700.8 117.5 L701.3 115.4 L701.9 118.6 L702.4 118.6 L703.0 117.0 L703.5 117.7 L704.1 118.0 L704.6 118.6 L705.2 117.7 L705.7 119.4 L706.3 117.4 L706.8 117.0 L707.4 117.2 L707.9 115.1 L708.5 116.8 L709.0 118.7 L709.6 117.9 L710.1 116.8 L710.7 118.0 L711.2 115.6 L711.8 117.4 L712.3 118.2 L712.9 118.3 L713.4 116.9 L714.0 118.6 L714.5 119.5 L715.1 117.2 L715.6 118.4 L716.2 116.1 L716.7 115.7 L717.3 118.3 L717.8 117.7 L718.4 117.8 L718.9 117.1 L719.5 117.4 L720.0 118.5 L720.6 119.4 L721.1 117.4 L721.7 116.0 L722.2 118.9 L722.8 118.3 L723.3 118.3 L723.9 117.8 L724.4 120.0 L725.0 117.7 L725.5 118.2 L726.1 115.8 L726.6 117.1 L727.2 117.0 L727.7 117.6 L728.3 118.0 L728.8 116.9 L729.4 119.4 L729.9 116.6 L730.5 117.2 L731.0 117.9 L731.6 116.4 L732.1 118.2 L732.7 118.3 L733.2 117.4 L733.8 119.6 L734.3 117.7 L734.9 117.9 L735.4 116.7 L736.0 116.0 L736.5 117.0 L737.1 117.3 L737.6 117.2 L738.2 118.4 L738.7 115.3 L739.3 116.5 L739.8 115.8 L740.4 119.0 L740.9 117.1 L741.5 117.1 L742.0 116.5 L742.6 118.5 L743.1 117.2 L743.7 117.9 L744.2 115.6 L744.8 118.8 L745.3 118.0 L745.9 118.2 L746.4 118.9 L747.0 117.5 L747.5 117.5 L748.1 118.4 L748.6 118.1 L749.2 117.4 L749.7 117.7 L750.3 117.1 L750.8 118.4 L751.4 118.6 L751.9 117.7 L752.5 119.5 L753.0 116.1 L753.6 117.4 L754.1 119.4 L754.7 117.2 L755.2 116.0 L755.8 119.0 L756.3 118.2 L756.9 116.5 L757.4 118.4 L758.0 116.6 L758.5 116.3 L759.1 117.5 L759.6 117.2 L760.2 116.6 L760.7 117.3 L761.3 116.6 L761.8 117.7 L762.4 117.6 L762.9 118.4 L763.5 117.2 L764.0 116.3 L764.6 116.3 L765.1 117.4 L765.7 119.2 L766.2 118.5 L766.8 117.0 L767.3 118.6 L767.9 116.5 L768.4 118.7 L769.0 117.3 L769.5 118.4 L770.1 118.3 L770.6 117.4 L771.2 118.0 L771.7 116.6 L772.3 117.6 L772.8 118.7 L773.4 121.8 L773.9 118.4 L774.5 117.7 L775.0 116.6 L775.6 118.7 L776.1 116.0 L776.7 116.8 L777.2 118.0 L777.8 116.4 L778.3 119.2 L778.9 118.7 L779.4 117.1 L780.0 117.1 L780.5 116.3 L781.1 116.2 L781.6 118.1 L782.2 118.3 L782.7 118.0 L783.3 117.9 L783.8 117.1 L784.4 118.0 L784.9 116.2 L785.5 117.7 L786.0 119.1 L786.6 119.0 L787.1 117.2 L787.7 117.3 L788.2 119.0 L788.8 119.4 L789.3 116.2 L789.9 117.2 L790.4 117.9 L791.0 118.9 L791.5 116.8 L792.1 118.3 L792.6 117.4 L793.2 120.0 L793.7 118.1 L794.3 117.5 L794.8 117.3 L795.4 118.7 L795.9 118.3 L796.5 116.6 L797.0 117.9 L797.6 116.3 L798.1 116.9 L798.7 116.4 L799.2 116.3 L799.8 117.0 L800.3 116.7 L800.9 118.2 L801.4 118.5 L802.0 117.4 L802.5 116.5 L803.1 118.5 L803.6 115.6 L804.2 115.7 L804.7 118.4 L805.3 118.3 L805.8 118.6 L806.4 117.4 L806.9 116.4 L807.5 117.1 L808.0 118.2 L808.6 116.9 L809.1 117.0 L809.7 116.3 L810.2 116.5 L810.8 118.5 L811.3 118.1 L811.9 116.5 L812.4 116.6 L813.0 117.1 L813.5 118.2 L814.1 116.5 L814.6 117.5 L815.2 115.5 L815.7 116.4 L816.3 118.1 L816.8 118.6 L817.4 116.5 L817.9 116.9 L818.5 118.5 L819.0 117.3 L819.6 117.1 L820.1 118.2 L820.7 117.9 L821.2 118.8 L821.8 118.5 L822.3 117.1 L822.9 117.5 L823.4 117.6 L824.0 116.3 L824.5 116.7 L825.1 118.6 L825.6 116.1 L826.2 118.7 L826.7 117.9 L827.3 117.5 L827.8 118.2 L828.4 118.1 L828.9 118.9 L829.5 117.3 L830.0 117.4 L830.6 117.4 L831.1 119.5 L831.7 118.6 L832.2 116.7 L832.8 117.3 L833.3 116.9 L833.9 117.7 L834.4 117.9 L835.0 120.0 L835.5 115.8 L836.1 118.7 L836.6 118.1 L837.2 117.0 L837.7 117.5 L838.3 117.2 L838.8 117.7 L839.4 118.7 L839.9 116.1 L840.5 119.0 L841.0 117.3 L841.6 119.2 L842.1 118.1 L842.7 118.9 L843.2 118.2 L843.8 118.8 L844.3 117.7 L844.9 116.8 L845.4 118.3 L846.0 118.4 L846.5 119.8 L847.1 115.7 L847.6 117.5 L848.2 118.7 L848.7 116.4 L849.3 117.4 L849.8 119.8 L850.4 119.1 L850.9 116.8 L851.5 119.1 L852.0 118.9 L852.6 118.4 L853.1 118.0 L853.7 117.9 L854.2 116.8 L854.8 117.2 L855.3 118.4 L855.9 117.8 L856.4 119.5 L857.0 117.3 L857.5 115.3 L858.1 117.3 L858.6 117.9 L859.2 118.1 L859.7 117.7 L860.3 116.8 L860.8 119.2 L861.4 117.0 L861.9 118.4 L862.5 117.4 L863.0 116.5 L863.6 119.1 L864.1 115.2 L864.7 116.8 L865.2 118.1 L865.8 117.3 L866.3 118.4 L866.9 117.6 L867.4 117.2 L868.0 119.8 L868.5 117.5 L869.1 117.5 L869.6 116.6 L870.2 116.9 L870.7 118.3 L871.3 118.2 L871.8 117.7 L872.4 117.0 L872.9 118.4 L873.5 116.0 L874.0 117.3 L874.6 117.4 L875.1 116.8 L875.7 117.8 L876.2 117.0 L876.8 116.9 L877.3 119.5 L877.9 118.4 L878.4 118.9 L879.0 117.7 L879.5 118.7 L880.1 118.5 L880.6 118.9 L881.2 120.1 L881.7 117.5 L882.3 117.9 L882.8 117.6 L883.4 114.2 L883.9 116.3 L884.5 117.7 L885.0 118.3 L885.6 117.1 L886.1 118.8 L886.7 119.0 L887.2 117.3 L887.8 119.1 L888.3 119.4 L888.9 118.2 L889.4 116.7 L890.0 119.2 L890.5 117.5 L891.1 117.3 L891.6 117.8 L892.2 117.2 L892.7 118.8 L893.3 118.5 L893.8 118.9 L894.4 118.3 L894.9 116.9 L895.5 117.5 L896.0 118.6 L896.6 117.3 L897.1 120.6 L897.7 117.5 L898.2 117.1 L898.8 118.8 L899.3 118.4 L899.9 117.7 L900.4 117.5 L901.0 118.1 L901.5 118.5 L902.1 118.5 L902.6 117.4 L903.2 118.1 L903.7 118.5 L904.3 118.5 L904.8 114.6 L905.4 116.8 L905.9 116.9 L906.5 117.5 L907.0 117.9 L907.6 118.6 L908.1 118.3 L908.7 117.6 L909.2 117.7 L909.8 119.5 L910.3 117.1 L910.9 118.0 L911.4 119.3 L912.0 118.0 L912.5 115.7 L913.1 118.1 L913.6 117.3 L914.2 117.6 L914.7 118.8 L915.3 118.2 L915.8 117.4 L916.4 118.6 L916.9 118.1 L917.5 117.8 L918.0 118.0 L918.6 118.0 L919.1 117.4 L919.7 117.2 L920.2 117.7 L920.8 116.7 L921.3 116.4 L921.9 119.0 L922.4 117.5 L923.0 117.7 L923.5 117.6 L924.1 117.7 L924.6 117.7 L925.2 117.8 L925.7 116.9 L926.3 118.6 L926.8 117.0 L927.4 118.7 L927.9 115.8 L928.5 116.6 L929.0 118.7 L929.6 117.6 L930.1 117.0 L930.7 118.1 L931.2 116.7 L931.8 117.8 L932.3 115.5 L932.9 117.2 L933.4 117.1 L934.0 118.2 L934.5 118.6 L935.1 116.8 L935.6 119.3 L936.2 117.1 L936.7 115.6 L937.3 115.3 L937.8 119.2 L938.4 117.6 L938.9 117.1 L939.5 117.0 L940.0 116.6 L940.6 119.1 L941.1 117.6 L941.7 119.5 L942.2 117.5 L942.8 115.3 L943.3 118.5 L943.9 117.3 L944.4 117.5 L945.0 119.3 L945.5 117.4 L946.1 118.9 L946.6 117.7 L947.2 116.9 L947.7 118.2 L948.3 117.1 L948.8 118.9 L949.4 118.7 L949.9 117.8 L950.5 118.3 L951.0 118.3 L951.6 117.4 L952.1 118.6 L952.7 117.5 L953.2 118.3 L953.8 116.7 L954.3 117.8 L954.9 118.1 L955.4 116.9 L956.0 117.3 L956.5 117.2 L957.1 118.4 L957.6 117.0 L958.2 118.1 L958.7 119.2 L959.3 118.1 L959.8 116.1 L960.4 117.8 L960.9 118.7 L961.5 117.4 L962.0 118.8 L962.6 118.3 L963.1 118.1 L963.7 117.4 L964.2 117.2 L964.8 117.5 L965.3 117.8 L965.9 118.2 L966.4 118.1 L967.0 117.4 L967.5 117.8 L968.1 118.1 L968.6 116.1 L969.2 116.9 L969.7 116.9 L970.3 117.5 L970.8 117.4 L971.4 117.5 L971.9 116.8 L972.5 118.4 L973.0 118.0 L973.6 116.1 L974.1 117.7 L974.7 116.6 L975.2 119.4 L975.8 117.3 L976.3 117.3 L976.9 117.8 L977.4 117.5 L978.0 117.7 L978.5 119.3 L979.1 117.9 L979.6 118.6 L980.2 118.8 L980.7 116.7 L981.3 119.4 L981.8 118.4 L982.4 118.7 L982.9 116.9 L983.5 118.5 L984.0 118.1 L984.6 117.2 L985.1 120.0 L985.7 118.3 L986.2 117.5 L986.8 117.9 L987.3 118.6 L987.9 118.8 L988.4 118.3 L989.0 118.9 L989.5 119.2 L990.1 116.5 L990.6 117.2 L991.2 116.8 L991.7 117.8 L992.3 119.2 L992.8 118.4 L993.4 116.7 L993.9 117.4 L994.5 118.7 L995.0 117.2 L995.6 117.6 L996.1 118.0 L996.7 115.9 L997.2 118.5 L997.8 118.1 L998.3 118.3 L998.9 116.7 L999.4 117.0 L1000.0 117.1 L1000.5 118.0 L1001.1 117.8 L1001.6 117.8 L1002.2 119.5 L1002.7 119.0 L1003.3 117.0 L1003.8 117.1 L1004.4 119.4 L1004.9 117.4 L1005.5 119.1 L1006.0 119.3 L1006.6 117.2 L1007.1 117.5 L1007.7 117.8 L1008.2 116.9 L1008.8 116.7 L1009.3 117.3 L1009.9 118.6 L1010.4 117.3 L1011.0 117.5 L1011.5 117.3 L1012.1 116.4 L1012.6 119.2 L1013.2 115.4 L1013.7 117.1 L1014.3 118.3 L1014.8 116.3 L1015.4 118.3 L1015.9 119.0 L1016.5 116.9 L1017.0 117.9 L1017.6 116.6 L1018.1 118.2 L1018.7 117.8 L1019.2 117.9 L1019.8 119.1 L1020.3 118.2 L1020.9 119.1 L1021.4 118.4 L1022.0 116.5 L1022.5 118.0 L1023.1 118.2 L1023.6 116.3 L1024.2 119.1 L1024.7 117.8 L1025.3 118.1 L1025.8 116.8 L1026.4 117.8 L1026.9 118.0 L1027.5 117.4 L1028.0 117.8 L1028.6 115.6 L1029.1 119.1 L1029.7 116.6 L1030.2 115.5 L1030.8 116.8 L1031.3 116.9 L1031.9 118.3 L1032.4 116.8 L1033.0 118.0 L1033.5 116.8 L1034.1 119.9 L1034.6 118.3 L1035.2 119.7 L1035.7 116.7 L1036.3 118.4 L1036.8 116.8 L1037.4 118.3 L1037.9 118.4 L1038.5 116.1 L1039.0 116.6 L1039.6 116.6 L1040.1 116.2 L1040.7 117.0 L1041.2 116.8 L1041.8 116.3 L1042.3 117.8 L1042.9 118.3 L1043.4 116.4 L1044.0 117.2 L1044.5 117.7 L1045.1 117.5 L1045.6 117.0 L1046.2 118.5 L1046.7 118.6 L1047.3 118.4 L1047.8 117.5 L1048.4 119.7 L1048.9 119.5 L1049.5 117.3 L1050.0 117.6 L1050.6 118.9 L1051.1 116.9 L1051.7 118.1 L1052.2 117.8 L1052.8 117.0 L1053.3 117.5 L1053.9 116.1 L1054.4 117.2 L1055.0 115.7 L1055.5 120.0 L1056.1 119.2 L1056.6 118.9 L1057.2 118.0 L1057.7 118.7 L1058.3 119.0" fill="none" stroke="#eb2a28" stroke-width="5.6" stroke-linejoin="round" stroke-linecap="butt" />
</g>
<g clip-path="url(#c1)">
<path d="M75.8 270.6 L128.9 271.6 L173.0 270.4 L213.5 273.0 L294.5 271.1 L333.5 272.8 L374.0 270.6 L414.0 271.8 L457.0 271.5 L536.0 271.3 L575.5 276.2 L653.0 273.5 L697.0 272.8 L739.0 271.6 L773.0 271.6 L816.0 272.8 L856.0 271.3 L932.0 272.0 L976.0 271.0 L1017.0 272.8 L1058.5 271.0" fill="none" stroke="#2557a8" stroke-width="3.3" stroke-linejoin="round" stroke-linecap="butt" />
<path d="M75.8 218.6 L128.9 220.1 L173.0 218.4 L213.5 223.8 L294.5 219.1 L333.5 222.5 L374.0 217.6 L414.4 221.3 L457.0 219.6 L536.0 219.5 L575.5 230.5 L653.0 226.5 L697.0 225.5 L739.0 223.3 L773.0 223.8 L816.0 225.7 L856.0 222.5 L932.0 223.8 L976.5 222.0 L1017.0 224.5 L1058.5 221.3" fill="none" stroke="#eb2a28" stroke-width="3.3" stroke-linejoin="round" stroke-linecap="butt" />
</g>
<g clip-path="url(#c2)">
<path d="M75.8 407.5 L175.0 408.4 L212.0 406.5 L256.0 409.0 L330.0 408.0 L413.0 407.7 L536.0 409.0 L560.0 404.8 L580.0 402.0 L616.0 399.5 L680.0 398.8 L744.0 398.6 L775.7 397.2 L820.0 398.6 L947.0 398.6 L1008.0 400.3 L1058.5 398.6" fill="none" stroke="#2557a8" stroke-width="3.2" stroke-linejoin="round" stroke-linecap="butt" />
<path d="M75.8 378.3 L212.0 377.0 L266.0 379.5 L320.0 377.0 L369.0 379.0 L413.0 377.3 L457.0 379.0 L536.0 378.5 L575.9 381.5 L655.6 382.7 L744.0 380.7 L820.0 380.2 L947.0 379.8 L1058.5 381.0" fill="none" stroke="#eb2a28" stroke-width="3.2" stroke-linejoin="round" stroke-linecap="butt" />
<path d="M75.5 381.4 L77.5 381.3 L79.5 380.7 L81.5 381.2 L83.5 380.9 L85.5 380.7 L87.5 380.7 L89.5 381.3 L91.5 381.5 L93.5 380.7 L95.5 381.8 L97.5 381.8 L99.5 381.1 L101.5 381.1 L103.5 381.3 L105.5 381.7 L107.5 381.2 L109.5 381.0 L111.5 381.5 L113.5 380.7 L115.5 381.5 L117.5 381.9 L119.5 381.6 L121.5 381.7 L123.5 381.6 L125.5 381.7 L127.5 381.4 L129.4 381.0 L131.4 381.2 L133.4 381.2 L135.4 381.7 L137.4 381.7 L139.4 381.3 L141.4 380.8 L143.4 380.8 L145.4 381.0 L147.4 381.5 L149.4 381.1 L151.4 380.9 L153.4 380.6 L155.4 381.2 L157.4 380.9 L159.4 380.8 L161.4 380.8 L163.4 381.3 L165.4 380.6 L167.4 381.2 L169.4 381.0 L171.4 380.6 L173.4 380.8 L175.4 380.4 L177.4 380.1 L179.4 380.3 L181.4 380.0 L183.4 380.5 L185.4 380.3 L187.4 380.5 L189.4 380.5 L191.4 379.1 L193.4 380.3 L195.4 379.5 L197.4 380.1 L199.4 379.7 L201.4 380.0 L203.4 380.4 L205.4 379.3 L207.4 380.0 L209.4 379.8 L211.4 379.1 L213.4 380.2 L215.4 380.2 L217.4 380.2 L219.4 380.3 L221.4 381.9 L223.4 380.8 L225.4 380.5 L227.4 381.0 L229.4 381.4 L231.4 381.6 L233.4 381.9 L235.4 381.8 L237.4 382.5 L239.4 382.4 L241.4 382.3 L243.4 382.7 L245.4 382.9 L247.4 383.3 L249.4 383.1 L251.4 382.8 L253.4 382.9 L255.4 383.0 L257.4 383.6 L259.4 382.6 L261.4 383.0 L263.4 383.1 L265.4 382.5 L267.4 382.8 L269.4 382.8 L271.4 382.6 L273.4 382.9 L275.4 383.1 L277.4 383.1 L279.4 382.6 L281.4 382.7 L283.4 383.5 L285.4 382.2 L287.4 382.7 L289.4 382.9 L291.4 382.6 L293.4 382.8 L295.4 382.6 L297.4 382.8 L299.4 382.9 L301.4 382.4 L303.4 382.5 L305.4 382.4 L307.4 382.3 L309.4 382.4 L311.4 382.0 L313.4 382.6 L315.4 382.9 L317.4 382.9 L319.4 382.7 L321.4 381.9 L323.4 382.8 L325.4 382.0 L327.4 382.2 L329.4 382.9 L331.4 381.8 L333.4 382.5 L335.4 382.4 L337.4 382.2 L339.4 382.0 L341.4 382.5 L343.4 382.2 L345.4 382.8 L347.4 382.9 L349.4 382.0 L351.4 382.3 L353.4 382.4 L355.4 382.1 L357.4 382.2 L359.4 382.6 L361.4 382.6 L363.4 382.1 L365.4 382.5 L367.4 382.9 L369.4 382.2 L371.4 382.2 L373.4 383.0 L375.4 382.8 L377.4 381.7 L379.4 381.8 L381.4 382.3 L383.4 381.7 L385.4 381.9 L387.4 381.8 L389.4 382.1 L391.4 380.9 L393.4 380.9 L395.4 381.2 L397.4 381.9 L399.4 381.4 L401.4 380.8 L403.4 381.5 L405.4 381.5 L407.4 381.1 L409.4 381.0 L411.4 381.2 L413.4 381.4 L415.4 381.1 L417.4 381.3 L419.4 381.2 L421.4 381.1 L423.4 381.0 L425.4 381.5 L427.4 381.3 L429.4 381.4 L431.4 381.9 L433.4 381.8 L435.4 382.0 L437.4 381.2 L439.4 382.0 L441.4 381.7 L443.4 381.7 L445.4 381.7 L447.4 382.5 L449.4 382.4 L451.4 382.0 L453.4 381.9 L455.4 382.3 L457.4 382.2 L459.4 383.0 L461.4 382.0 L463.4 381.9 L465.4 382.6 L467.4 382.7 L469.4 382.8 L471.4 383.1 L473.4 383.6 L475.4 382.8 L477.4 382.8 L479.4 382.4 L481.4 383.2 L483.4 383.5 L485.4 383.1 L487.4 383.7 L489.4 383.3 L491.4 383.9 L493.4 383.6 L495.4 383.1 L497.4 383.3 L499.4 383.1 L501.4 383.1 L503.4 383.8 L505.4 384.1 L507.4 384.4 L509.4 383.7 L511.4 383.5 L513.5 383.1 L515.5 383.8 L517.5 383.5 L519.5 383.1 L521.5 383.5 L523.5 383.4 L525.5 382.4 L527.5 383.3 L529.5 383.0 L531.5 382.7 L533.5 382.6 L535.5 383.3 L537.5 383.2 L539.5 382.9 L541.5 380.3 L543.5 379.2 L545.5 379.5 L547.5 378.5 L549.5 378.4 L551.5 377.8 L553.5 378.8 L555.5 378.2 L557.5 377.8 L559.5 377.4 L561.5 376.9 L563.5 376.7 L565.5 376.8 L567.5 376.1 L569.5 376.5 L571.5 375.6 L573.5 375.2 L575.5 375.7 L577.5 375.1 L579.5 375.3 L581.5 374.9 L583.5 374.2 L585.5 375.2 L587.5 374.4 L589.5 375.2 L591.5 374.3 L593.5 374.1 L595.5 374.8 L597.5 374.8 L599.5 374.7 L601.5 374.1 L603.5 374.8 L605.5 373.9 L607.5 374.2 L609.5 374.0 L611.5 374.1 L613.5 374.5 L615.5 373.9 L617.5 374.3 L619.5 374.3 L621.5 373.5 L623.5 373.8 L625.5 374.2 L627.5 374.3 L629.5 374.8 L631.5 374.1 L633.5 375.1 L635.5 374.9 L637.5 374.4 L639.5 373.8 L641.5 374.2 L643.5 373.8 L645.5 374.0 L647.5 373.6 L649.5 373.7 L651.5 373.1 L653.5 373.6 L655.5 372.1 L657.5 372.4 L659.5 372.7 L661.5 372.0 L663.5 372.7 L665.5 372.0 L667.5 372.4 L669.5 372.1 L671.5 372.2 L673.5 372.4 L675.5 372.3 L677.5 372.2 L679.5 373.0 L681.5 372.2 L683.5 371.9 L685.5 372.5 L687.5 372.5 L689.5 372.6 L691.5 372.8 L693.5 371.8 L695.5 372.4 L697.5 372.5 L699.5 372.0 L701.5 372.1 L703.5 370.9 L705.5 371.8 L707.5 372.6 L709.5 371.3 L711.5 371.7 L713.5 372.0 L715.5 372.0 L717.5 372.4 L719.5 371.2 L721.5 371.8 L723.5 372.0 L725.5 371.3 L727.5 371.7 L729.5 372.3 L731.5 372.1 L733.5 371.8 L735.5 370.7 L737.5 371.5 L739.5 371.7 L741.5 371.4 L743.5 371.5 L745.5 372.6 L747.5 371.4 L749.5 371.2 L751.5 371.6 L753.5 371.4 L755.5 371.4 L757.5 371.5 L759.5 371.8 L761.5 371.6 L763.5 371.1 L765.5 371.5 L767.5 371.7 L769.5 371.4 L771.5 372.0 L773.5 371.8 L775.5 371.2 L777.5 371.7 L779.5 372.3 L781.5 372.1 L783.5 371.6 L785.5 371.9 L787.5 371.4 L789.5 371.1 L791.5 371.8 L793.5 371.7 L795.5 371.8 L797.5 371.6 L799.5 371.8 L801.5 371.5 L803.5 371.8 L805.5 372.0 L807.5 371.6 L809.5 372.0 L811.5 371.1 L813.5 371.4 L815.5 372.2 L817.5 372.3 L819.5 371.8 L821.5 371.7 L823.5 371.2 L825.5 371.8 L827.5 372.0 L829.5 371.2 L831.5 371.9 L833.5 371.8 L835.5 371.8 L837.5 371.3 L839.5 371.8 L841.5 371.1 L843.5 372.2 L845.5 371.7 L847.5 371.2 L849.5 372.1 L851.5 372.0 L853.5 371.4 L855.5 372.4 L857.5 371.3 L859.5 371.7 L861.5 372.0 L863.5 370.8 L865.5 371.9 L867.5 371.6 L869.5 371.6 L871.5 371.2 L873.5 371.7 L875.5 371.2 L877.5 371.2 L879.5 371.4 L881.5 371.1 L883.5 372.1 L885.5 371.1 L887.5 371.3 L889.5 371.4 L891.5 371.5 L893.5 371.8 L895.5 371.8 L897.5 371.4 L899.5 371.4 L901.5 371.5 L903.5 371.8 L905.5 371.8 L907.5 371.3 L909.5 370.8 L911.5 372.3 L913.5 371.9 L915.5 371.6 L917.5 371.7 L919.5 371.4 L921.5 371.2 L923.5 371.4 L925.5 371.5 L927.5 371.3 L929.5 371.0 L931.5 371.5 L933.5 371.8 L935.5 371.4 L937.5 371.6 L939.5 370.9 L941.5 371.5 L943.5 371.5 L945.5 371.2 L947.5 371.0 L949.5 371.7 L951.5 371.3 L953.5 371.8 L955.5 371.5 L957.5 371.8 L959.5 371.5 L961.5 371.1 L963.5 371.6 L965.5 371.5 L967.5 371.9 L969.5 371.5 L971.5 371.5 L973.5 371.9 L975.5 372.1 L977.5 371.9 L979.5 372.0 L981.5 371.8 L983.5 371.9 L985.5 372.0 L987.5 371.8 L989.5 371.7 L991.5 371.7 L993.5 372.5 L995.5 371.7 L997.5 371.6 L999.5 371.6 L1001.5 371.8 L1003.5 372.1 L1005.5 371.8 L1007.5 371.7 L1009.5 372.7 L1011.5 372.2 L1013.5 373.1 L1015.5 373.2 L1017.5 373.8 L1019.5 374.1 L1021.5 373.6 L1023.5 373.0 L1025.5 372.6 L1027.5 372.5 L1029.5 372.6 L1031.5 371.7 L1033.5 372.2 L1035.5 372.0 L1037.5 372.0 L1039.5 371.4 L1041.5 371.5 L1043.5 371.1 L1045.5 371.0 L1047.5 370.5 L1049.5 371.0 L1051.5 371.4 L1053.5 370.8 L1055.5 370.8 L1057.5 370.2" fill="none" stroke="#338042" stroke-width="3.0" stroke-linejoin="round" stroke-linecap="butt" />
<path d="M75.5 362.3 L77.0 361.7 L78.5 362.2 L80.0 362.0 L81.5 361.6 L83.0 362.2 L84.5 361.9 L86.0 362.0 L87.5 362.1 L89.0 362.0 L90.5 361.9 L92.0 362.1 L93.5 361.9 L95.0 362.0 L96.5 361.8 L98.0 361.6 L99.5 361.8 L101.0 361.9 L102.5 362.0 L104.0 362.4 L105.5 361.5 L107.0 362.1 L108.5 361.4 L110.0 361.7 L111.5 361.9 L113.0 361.4 L114.5 361.5 L116.0 362.1 L117.5 362.1 L119.0 362.1 L120.5 361.9 L122.0 362.8 L123.5 362.1 L125.0 361.9 L126.5 362.6 L128.0 362.3 L129.4 362.0 L130.9 362.5 L132.4 362.2 L133.9 362.4 L135.4 362.2 L136.9 361.9 L138.4 362.5 L139.9 362.2 L141.4 362.0 L142.9 362.1 L144.4 362.7 L145.9 362.3 L147.4 362.5 L148.9 362.7 L150.4 362.6 L151.9 362.2 L153.4 362.9 L154.9 363.1 L156.4 363.1 L157.9 363.4 L159.4 363.1 L160.9 363.2 L162.4 363.5 L163.9 363.0 L165.4 363.7 L166.9 363.8 L168.4 363.5 L169.9 363.9 L171.4 363.7 L172.9 363.2 L174.4 363.9 L175.9 363.7 L177.4 363.8 L178.9 363.8 L180.4 364.2 L181.9 364.0 L183.4 363.7 L184.9 364.1 L186.4 364.2 L187.9 363.8 L189.4 364.0 L190.9 364.1 L192.4 364.1 L193.9 364.4 L195.4 364.7 L196.9 365.0 L198.4 364.8 L199.9 364.8 L201.4 364.9 L202.9 365.0 L204.4 364.6 L205.9 365.0 L207.4 364.9 L208.9 364.8 L210.4 364.8 L211.9 364.8 L213.4 364.8 L214.9 364.5 L216.4 364.9 L217.9 364.7 L219.4 364.6 L220.9 364.6 L222.4 364.6 L223.9 364.1 L225.4 364.2 L226.9 363.7 L228.4 363.4 L229.9 363.4 L231.4 364.3 L232.9 363.2 L234.4 363.9 L235.9 364.1 L237.4 363.4 L238.9 363.9 L240.4 363.9 L241.9 363.6 L243.4 363.9 L244.9 363.3 L246.4 362.8 L247.9 363.1 L249.4 362.7 L250.9 362.4 L252.4 362.3 L253.9 363.3 L255.4 362.3 L256.9 362.4 L258.4 362.1 L259.9 362.3 L261.4 362.1 L262.9 362.0 L264.4 361.6 L265.9 361.5 L267.4 361.7 L268.9 362.1 L270.4 362.6 L271.9 362.4 L273.4 362.6 L274.9 362.3 L276.4 362.2 L277.9 361.8 L279.4 362.3 L280.9 361.7 L282.4 362.3 L283.9 362.9 L285.4 362.5 L286.9 362.8 L288.4 362.4 L289.9 362.1 L291.4 362.4 L292.9 362.5 L294.4 363.0 L295.9 363.3 L297.4 362.5 L298.9 362.7 L300.4 362.8 L301.9 362.8 L303.4 362.5 L304.9 363.0 L306.4 363.1 L307.9 363.1 L309.4 362.7 L310.9 363.1 L312.4 362.6 L313.9 363.5 L315.4 362.9 L316.9 363.2 L318.4 363.2 L319.9 363.2 L321.4 363.1 L322.9 362.9 L324.4 364.0 L325.9 363.6 L327.4 363.6 L328.9 364.2 L330.4 363.6 L331.9 363.7 L333.4 363.4 L334.9 363.7 L336.4 363.4 L337.9 363.2 L339.4 363.0 L340.9 363.0 L342.4 363.2 L343.9 362.1 L345.4 362.6 L346.9 362.4 L348.4 362.4 L349.9 361.8 L351.4 362.5 L352.9 362.0 L354.4 362.0 L355.9 361.9 L357.4 361.4 L358.9 361.7 L360.4 361.2 L361.9 361.4 L363.4 361.5 L364.9 361.5 L366.4 361.4 L367.9 361.2 L369.4 361.8 L370.9 361.2 L372.4 360.6 L373.9 360.7 L375.4 360.6 L376.9 360.7 L378.4 360.5 L379.9 360.4 L381.4 361.2 L382.9 360.8 L384.4 360.8 L385.9 360.9 L387.4 361.0 L388.9 361.5 L390.4 361.3 L391.9 361.6 L393.4 360.4 L394.9 361.5 L396.4 361.8 L397.9 362.2 L399.4 361.7 L400.9 361.2 L402.4 362.0 L403.9 361.7 L405.4 361.4 L406.9 361.9 L408.4 362.4 L409.9 362.6 L411.4 362.5 L412.9 362.0 L414.4 363.2 L415.9 362.2 L417.4 362.6 L418.9 362.2 L420.4 363.0 L421.9 362.7 L423.4 362.9 L424.9 362.6 L426.4 362.6 L427.9 362.7 L429.4 362.0 L430.9 362.9 L432.4 362.9 L433.9 362.5 L435.4 362.6 L436.9 362.7 L438.4 363.1 L439.9 362.7 L441.4 362.6 L442.9 362.5 L444.4 362.2 L445.9 362.4 L447.4 362.6 L448.9 362.5 L450.4 362.6 L451.9 362.8 L453.4 362.7 L454.9 362.7 L456.4 362.8 L457.9 362.7 L459.4 362.6 L460.9 362.8 L462.4 362.1 L463.9 363.0 L465.4 362.2 L466.9 362.9 L468.4 362.6 L469.9 362.9 L471.4 362.6 L472.9 362.3 L474.4 362.9 L475.9 362.7 L477.4 362.7 L478.9 362.6 L480.4 362.9 L481.9 362.8 L483.4 362.5 L484.9 361.9 L486.4 362.2 L487.9 362.3 L489.4 362.8 L490.9 362.3 L492.4 362.1 L493.9 362.4 L495.4 362.0 L496.9 362.0 L498.4 362.0 L499.9 361.4 L501.4 362.1 L502.9 361.9 L504.4 361.6 L505.9 361.3 L507.4 361.7 L508.9 362.0 L510.4 361.3 L511.9 361.1 L513.5 361.5 L515.0 360.8 L516.5 360.6 L518.0 361.1 L519.5 361.0 L521.0 361.0 L522.5 361.0 L524.0 361.3 L525.5 361.2 L527.0 361.1 L528.5 361.2 L530.0 363.0 L531.5 365.6 L533.0 365.9 L534.5 366.1 L536.0 365.2 L537.5 366.2 L539.0 366.8 L540.5 367.2 L542.0 367.0 L543.5 368.2 L545.0 368.2 L546.5 368.2 L548.0 368.7 L549.5 368.9 L551.0 369.1 L552.5 369.8 L554.0 369.7 L555.5 369.7 L557.0 370.3 L558.5 370.7 L560.0 370.7 L561.5 371.7 L563.0 371.3 L564.5 372.4 L566.0 372.4 L567.5 372.1 L569.0 372.7 L570.5 373.3 L572.0 373.2 L573.5 373.2 L575.0 373.9 L576.5 374.6 L578.0 373.5 L579.5 374.0 L581.0 373.8 L582.5 373.7 L584.0 373.6 L585.5 373.5 L587.0 373.9 L588.5 373.7 L590.0 373.1 L591.5 373.8 L593.0 372.9 L594.5 373.4 L596.0 373.2 L597.5 373.5 L599.0 373.2 L600.5 373.3 L602.0 372.8 L603.5 373.0 L605.0 372.7 L606.5 373.1 L608.0 372.1 L609.5 372.5 L611.0 372.2 L612.5 372.0 L614.0 371.6 L615.5 371.8 L617.0 371.1 L618.5 371.0 L620.0 371.4 L621.5 370.6 L623.0 371.4 L624.5 370.7 L626.0 370.8 L627.5 370.6 L629.0 370.6 L630.5 370.3 L632.0 370.3 L633.5 370.3 L635.0 370.6 L636.5 370.6 L638.0 370.6 L639.5 370.3 L641.0 370.1 L642.5 369.7 L644.0 370.3 L645.5 370.4 L647.0 370.0 L648.5 370.3 L650.0 370.4 L651.5 370.0 L653.0 370.3 L654.5 370.1 L656.0 369.4 L657.5 369.8 L659.0 369.8 L660.5 370.0 L662.0 369.6 L663.5 369.7 L665.0 369.5 L666.5 369.7 L668.0 369.7 L669.5 370.0 L671.0 369.9 L672.5 369.7 L674.0 369.7 L675.5 369.6 L677.0 369.6 L678.5 370.0 L680.0 368.8 L681.5 369.4 L683.0 369.5 L684.5 369.8 L686.0 369.1 L687.5 369.5 L689.0 369.6 L690.5 369.2 L692.0 368.7 L693.5 369.2 L695.0 368.9 L696.5 369.4 L698.0 369.0 L699.5 369.8 L701.0 369.2 L702.5 368.9 L704.0 369.0 L705.5 368.8 L707.0 369.3 L708.5 369.6 L710.0 369.0 L711.5 369.4 L713.0 368.8 L714.5 369.1 L716.0 369.7 L717.5 368.6 L719.0 369.4 L720.5 369.3 L722.0 368.4 L723.5 368.5 L725.0 368.6 L726.5 369.2 L728.0 368.8 L729.5 368.8 L731.0 369.1 L732.5 368.9 L734.0 368.9 L735.5 368.7 L737.0 369.1 L738.5 368.6 L740.0 369.3 L741.5 368.6 L743.0 368.5 L744.5 368.9 L746.0 368.9 L747.5 368.2 L749.0 368.9 L750.5 368.4 L752.0 368.6 L753.5 369.1 L755.0 368.6 L756.5 369.0 L758.0 368.8 L759.5 369.5 L761.0 368.9 L762.5 368.6 L764.0 368.7 L765.5 368.7 L767.0 369.1 L768.5 369.0 L770.0 369.4 L771.5 369.1 L773.0 369.1 L774.5 369.2 L776.0 369.1 L777.5 369.2 L779.0 369.4 L780.5 369.4 L782.0 369.1 L783.5 368.7 L785.0 369.0 L786.5 369.4 L788.0 368.6 L789.5 369.2 L791.0 369.5 L792.5 369.2 L794.0 369.0 L795.5 369.9 L797.0 369.8 L798.5 369.4 L800.0 369.9 L801.5 369.9 L803.0 369.2 L804.5 370.3 L806.0 369.3 L807.5 369.5 L809.0 369.2 L810.5 369.6 L812.0 369.2 L813.5 369.6 L815.0 370.0 L816.5 369.7 L818.0 369.6 L819.5 370.2 L821.0 369.4 L822.5 370.0 L824.0 369.6 L825.5 369.8 L827.0 369.7 L828.5 369.8 L830.0 369.7 L831.5 369.5 L833.0 369.5 L834.5 369.8 L836.0 369.7 L837.5 369.4 L839.0 369.5 L840.5 369.5 L842.0 369.7 L843.5 369.8 L845.0 369.7 L846.5 369.5 L848.0 369.7 L849.5 369.3 L851.0 368.8 L852.5 369.7 L854.0 369.2 L855.5 369.4 L857.0 369.3 L858.5 369.9 L860.0 369.3 L861.5 369.8 L863.0 369.6 L864.5 369.3 L866.0 369.2 L867.5 369.8 L869.0 369.8 L870.5 369.9 L872.0 370.3 L873.5 369.8 L875.0 369.8 L876.5 369.7 L878.0 369.7 L879.5 369.6 L881.0 369.4 L882.5 370.3 L884.0 369.1 L885.5 369.8 L887.0 369.8 L888.5 369.7 L890.0 369.4 L891.5 369.6 L893.0 369.6 L894.5 369.4 L896.0 369.7 L897.5 369.6 L899.0 369.5 L900.5 369.9 L902.0 369.4 L903.5 369.8 L905.0 369.5 L906.5 369.8 L908.0 369.7 L909.5 369.8 L911.0 369.4 L912.5 369.5 L914.0 369.4 L915.5 369.8 L917.0 369.9 L918.5 370.0 L920.0 369.5 L921.5 369.7 L923.0 369.2 L924.5 369.0 L926.0 369.4 L927.5 369.5 L929.0 369.2 L930.5 369.2 L932.0 369.9 L933.5 369.5 L935.0 369.2 L936.5 370.4 L938.0 369.7 L939.5 369.6 L941.0 369.9 L942.5 369.5 L944.0 370.2 L945.5 369.2 L947.0 369.3 L948.5 369.7 L950.0 369.5 L951.5 370.1 L953.0 369.2 L954.5 369.5 L956.0 369.8 L957.5 369.9 L959.0 370.0 L960.5 369.8 L962.0 370.4 L963.5 369.5 L965.0 369.7 L966.5 369.9 L968.0 369.6 L969.5 369.6 L971.0 369.6 L972.5 369.5 L974.0 369.4 L975.5 369.5 L977.0 369.2 L978.5 369.8 L980.0 369.2 L981.5 370.3 L983.0 370.2 L984.5 370.0 L986.0 369.6 L987.5 369.5 L989.0 370.1 L990.5 369.7 L992.0 369.9 L993.5 369.5 L995.0 370.0 L996.5 369.4 L998.0 369.7 L999.5 369.2 L1001.0 369.5 L1002.5 369.8 L1004.0 369.5 L1005.5 369.5 L1007.0 369.8 L1008.5 369.5 L1010.0 369.9 L1011.5 368.8 L1013.0 369.6 L1014.5 369.6 L1016.0 369.0 L1017.5 369.0 L1019.0 369.6 L1020.5 369.0 L1022.0 369.1 L1023.5 369.5 L1025.0 369.2 L1026.5 369.4 L1028.0 368.9 L1029.5 369.3 L1031.0 369.5 L1032.5 369.2 L1034.0 368.4 L1035.5 369.3 L1037.0 369.1 L1038.5 368.8 L1040.0 369.4 L1041.5 368.5 L1043.0 369.5 L1044.5 368.7 L1046.0 369.4 L1047.5 368.9 L1049.0 368.4 L1050.5 368.8 L1052.0 368.9 L1053.5 368.9 L1055.0 369.1 L1056.5 368.5 L1058.0 368.8" fill="none" stroke="#231815" stroke-width="3.5" stroke-linejoin="round" stroke-linecap="butt" />
</g>
<g clip-path="url(#c3)">
<path d="M74.9 499.3 L77.0 499.3 L77.9 501.4 L79.2 501.4 L80.1 500.5 L82.7 500.5 L83.6 500.8 L85.9 500.7 L86.8 501.6 L88.2 501.6 L89.1 499.4 L91.2 499.4 L92.1 504.2 L93.1 504.2 L94.0 500.5 L96.7 500.5 L97.6 501.3 L98.5 501.3 L99.4 499.5 L101.9 499.5 L102.8 501.8 L104.3 501.8 L105.2 491.4 L106.8 491.4 L107.7 500.2 L110.0 500.2 L110.9 504.2 L111.6 504.2 L112.5 501.4 L113.8 501.4 L114.7 503.0 L115.3 502.9 L116.2 501.1 L117.7 501.1 L118.6 498.1 L121.3 498.1 L122.2 502.3 L123.0 502.3 L123.9 499.9 L125.5 499.9 L126.4 500.6 L128.8 500.6 L129.7 501.2 L131.4 501.2 L132.3 500.5 L134.3 500.5 L135.2 501.1 L136.8 501.1 L137.7 498.6 L138.9 498.6 L139.8 497.9 L142.5 497.9 L143.4 499.5 L146.2 499.5 L147.1 500.0 L149.1 500.0 L150.0 498.7 L152.5 498.7 L153.4 491.3 L155.3 491.3 L156.2 498.0 L157.4 498.0 L158.3 501.9 L159.9 501.9 L160.8 498.0 L161.9 498.0 L162.8 499.0 L164.1 499.0 L165.0 499.1 L166.0 499.1 L166.9 501.1 L168.7 501.1 L169.6 503.0 L170.0 503.0 L170.9 500.6 L173.8 500.6 L174.7 498.5 L176.9 498.5 L177.8 499.3 L179.1 499.3 L180.0 502.0 L181.0 502.0 L181.9 499.0 L183.9 499.0 L184.8 497.9 L187.4 497.9 L188.3 501.3 L190.3 501.3 L191.2 501.0 L192.8 501.0 L193.7 499.0 L196.1 499.0 L197.0 500.6 L198.4 500.6 L199.3 501.1 L200.9 501.1 L201.8 498.7 L203.7 498.7 L204.6 501.4 L205.6 501.4 L206.5 498.1 L208.5 498.1 L209.4 504.0 L210.6 504.0 L211.5 501.0 L213.5 501.0 L214.4 498.9 L217.2 498.9 L218.1 500.6 L219.7 500.6 L220.6 492.1 L221.7 492.1 L222.6 500.3 L225.0 500.3 L225.9 503.0 L226.6 503.0 L227.5 499.7 L229.8 499.7 L230.7 500.3 L233.0 500.3 L233.9 492.3 L235.7 492.3 L236.6 502.3 L237.4 502.3 L238.3 500.5 L239.4 500.5 L240.3 503.4 L241.5 503.4 L242.4 499.2 L244.3 499.1 L245.2 498.1 L246.1 498.1 L247.0 497.7 L248.7 497.7 L249.6 500.5 L250.7 500.5 L251.6 500.6 L252.9 500.6 L253.8 499.6 L256.1 499.6 L257.0 500.7 L258.3 500.7 L259.2 498.9 L261.8 498.9 L262.7 500.9 L263.6 500.9 L264.5 498.5 L265.8 498.5 L266.7 497.8 L268.0 497.8 L268.9 498.0 L270.6 498.0 L271.5 493.7 L272.9 493.7 L273.8 498.5 L276.3 498.5 L277.2 500.5 L279.0 500.5 L279.9 492.9 L281.7 492.9 L282.6 497.6 L284.1 497.6 L285.0 498.8 L286.5 498.8 L287.4 499.1 L289.6 499.1 L290.5 498.3 L291.6 498.3 L292.5 491.9 L294.0 491.9 L294.9 503.7 L295.7 503.6 L296.6 502.0 L297.2 502.0 L298.1 498.3 L300.1 498.3 L301.0 498.4 L302.4 498.4 L303.3 500.1 L304.3 500.1 L305.2 497.9 L307.6 497.9 L308.5 493.0 L310.2 493.0 L311.1 501.3 L312.8 501.2 L313.7 493.9 L314.9 493.9 L315.8 501.0 L317.0 500.9 L317.9 497.8 L320.3 497.7 L321.2 498.8 L322.6 498.8 L323.5 499.9 L325.6 499.9 L326.5 499.9 L327.8 499.9 L328.7 497.8 L330.4 497.8 L331.3 498.2 L333.4 498.2 L334.3 500.7 L335.9 500.7 L336.8 498.6 L339.0 498.6 L339.9 503.4 L341.0 503.4 L341.9 501.0 L343.8 501.0 L344.7 502.4 L345.3 502.4 L346.2 497.8 L348.7 497.8 L349.6 498.7 L351.6 498.6 L352.5 503.5 L353.6 503.5 L354.5 491.0 L355.6 491.0 L356.5 498.8 L358.7 498.8 L359.6 499.2 L362.1 499.2 L363.0 498.4 L365.1 498.4 L366.0 500.1 L367.1 500.1 L368.0 500.7 L370.0 500.7 L370.9 498.4 L372.5 498.4 L373.4 498.5 L376.0 498.4 L376.9 498.0 L379.7 498.0 L380.6 497.3 L382.8 497.2 L383.7 502.3 L384.8 502.3 L385.7 501.3 L386.8 501.3 L387.7 499.4 L388.6 499.4 L389.5 497.2 L392.1 497.2 L393.0 497.9 L395.0 497.9 L395.9 497.8 L397.5 497.8 L398.4 502.1 L399.3 502.1 L400.2 498.8 L401.9 498.7 L402.8 503.5 L403.3 503.5 L404.2 497.2 L405.3 497.2 L406.2 502.1 L406.8 502.1 L407.7 491.1 L408.8 491.0 L409.7 500.3 L411.5 500.3 L412.4 498.2 L413.6 498.2 L414.5 492.5 L415.9 492.5 L416.8 501.2 L417.9 501.2 L418.8 500.9 L419.9 500.9 L420.8 498.5 L423.4 498.5 L424.3 499.0 L427.0 499.0 L427.9 497.4 L429.3 497.4 L430.2 498.0 L431.8 498.0 L432.7 501.2 L433.3 501.2 L434.2 502.8 L435.0 502.8 L435.9 501.3 L436.6 501.3 L437.5 496.0 L438.8 496.0 L439.7 499.3 L442.4 499.3 L443.3 498.0 L444.3 498.0 L445.2 502.3 L446.4 502.3 L447.3 497.7 L450.0 497.7 L450.9 493.2 L452.3 493.2 L453.2 502.2 L454.1 502.2 L455.0 499.5 L456.5 499.5 L457.4 502.8 L458.0 502.8 L458.9 499.8 L459.9 499.7 L460.8 499.2 L462.2 499.2 L463.1 502.1 L463.7 502.1 L464.6 500.4 L465.1 500.4 L466.0 499.5 L467.7 499.5 L468.6 499.2 L469.6 499.2 L470.5 497.9 L472.2 497.9 L473.1 500.1 L474.5 500.1 L475.4 500.2 L477.3 500.2 L478.2 498.5 L480.3 498.5 L481.2 499.3 L483.9 499.4 L484.8 501.7 L485.5 501.8 L486.4 498.2 L489.0 498.2 L489.9 500.9 L491.6 500.9 L492.5 498.3 L495.3 498.3 L496.2 497.1 L497.4 497.1 L498.3 497.6 L501.1 497.6 L502.0 500.5 L504.0 500.5 L504.9 499.0 L506.3 499.0 L507.2 497.9 L508.2 497.9 L509.1 500.5 L510.0 500.5 L510.9 500.3 L511.5 500.3 L512.4 500.0 L513.0 500.0 L513.9 491.4 L515.5 491.4 L516.4 500.1 L517.2 500.1 L518.1 491.5 L519.7 491.5 L520.6 500.5 L521.2 500.6 L522.1 500.6 L523.9 500.6 L524.8 501.4 L525.5 501.4 L526.4 500.5 L528.0 500.5 L528.9 497.5 L531.2 497.5 L532.1 498.3 L534.3 498.3 L535.2 497.2 L536.5 497.2 L537.4 499.6 L538.7 499.6 L539.6 498.9 L541.6 499.3 L542.5 503.0 L542.8 503.3 L543.7 498.0 L546.0 498.7 L546.9 499.8 L548.5 500.3 L549.4 500.8 L550.9 501.3 L551.8 499.7 L554.2 500.4 L555.1 502.8 L557.6 503.5 L558.5 504.4 L559.9 504.9 L560.8 504.2 L561.9 504.7 L562.8 506.0 L564.4 506.6 L565.3 501.2 L566.8 501.7 L567.7 497.5 L569.0 498.0 L569.9 506.9 L571.9 507.5 L572.8 508.1 L573.9 508.5 L574.8 504.7 L576.0 505.1 L576.9 502.4 L578.2 502.9 L579.1 506.3 L581.5 506.5 L582.4 509.3 L584.4 509.2 L585.3 504.6 L586.3 504.5 L587.2 506.7 L589.5 506.6 L590.4 505.7 L592.4 505.6 L593.3 509.3 L594.4 509.2 L595.3 509.5 L596.4 509.4 L597.3 508.4 L598.6 508.3 L599.5 504.9 L600.9 504.8 L601.8 506.0 L604.6 505.8 L605.5 509.6 L605.9 509.5 L606.8 504.5 L609.2 504.3 L610.1 497.6 L611.5 497.5 L612.4 504.3 L614.5 504.1 L615.4 507.7 L617.1 507.5 L618.0 508.0 L619.1 507.9 L620.0 502.4 L621.1 502.4 L622.0 505.6 L623.3 505.6 L624.2 504.8 L626.7 504.7 L627.6 508.8 L628.2 508.8 L629.1 505.2 L631.2 505.2 L632.1 503.9 L634.2 503.8 L635.1 506.7 L635.9 506.7 L636.8 504.8 L638.2 504.8 L639.1 506.1 L640.1 506.0 L641.0 507.2 L642.5 507.1 L643.4 507.0 L645.4 507.0 L646.3 504.3 L647.8 504.3 L648.7 506.6 L650.7 506.6 L651.6 505.2 L653.1 505.2 L654.0 506.6 L656.1 506.6 L657.0 505.0 L659.2 505.0 L660.1 506.9 L660.9 506.9 L661.8 500.3 L663.0 500.3 L663.9 507.9 L664.9 507.9 L665.8 506.2 L666.5 506.2 L667.4 506.4 L669.5 506.4 L670.4 505.7 L672.4 505.6 L673.3 502.3 L675.1 502.3 L676.0 502.1 L677.1 502.0 L678.0 504.4 L679.3 504.4 L680.2 506.2 L681.0 506.2 L681.9 498.7 L683.0 498.7 L683.9 505.4 L684.9 505.4 L685.8 504.0 L687.3 504.0 L688.2 507.7 L688.8 507.7 L689.7 507.1 L690.6 507.1 L691.5 506.2 L692.1 506.2 L693.0 504.5 L694.0 504.5 L694.9 508.3 L695.7 508.3 L696.6 507.1 L698.6 507.1 L699.5 504.1 L702.3 504.1 L703.2 507.0 L705.0 507.0 L705.9 506.8 L707.7 506.8 L708.6 503.5 L711.0 503.4 L711.9 506.4 L712.8 506.4 L713.7 507.2 L715.3 507.2 L716.2 503.8 L717.6 503.8 L718.5 504.9 L721.1 504.9 L722.0 505.2 L723.4 505.1 L724.3 500.2 L725.7 500.2 L726.6 506.4 L728.5 506.4 L729.4 504.2 L731.1 504.2 L732.0 508.2 L732.3 508.2 L733.2 498.4 L734.4 498.4 L735.3 503.9 L737.2 503.9 L738.1 505.4 L739.6 505.4 L740.5 503.0 L741.6 503.0 L742.5 503.1 L743.7 503.1 L744.6 503.8 L746.2 503.8 L747.1 503.1 L748.9 503.0 L749.8 506.4 L750.4 506.4 L751.3 505.5 L754.2 505.5 L755.1 503.3 L757.7 503.3 L758.6 504.7 L760.8 504.7 L761.7 505.2 L764.1 505.2 L765.0 506.3 L765.9 506.3 L766.8 505.7 L768.6 505.7 L769.5 497.4 L771.3 497.4 L772.2 503.6 L773.6 503.6 L774.5 504.4 L777.3 504.4 L778.2 504.6 L780.8 504.5 L781.7 504.9 L783.1 504.9 L784.0 497.3 L785.0 497.3 L785.9 505.8 L786.9 505.8 L787.8 506.9 L788.4 506.9 L789.3 505.0 L792.1 505.0 L793.0 500.0 L794.2 499.9 L795.1 503.2 L796.2 503.2 L797.1 501.3 L798.8 501.3 L799.7 503.5 L801.6 503.4 L802.5 505.9 L803.1 505.8 L804.0 503.0 L806.3 502.8 L807.2 506.3 L809.3 506.1 L810.2 502.8 L812.6 502.6 L813.5 504.9 L815.1 504.8 L816.0 505.1 L816.7 505.1 L817.6 504.8 L818.8 504.7 L819.7 502.9 L822.5 502.7 L823.4 506.5 L824.2 506.5 L825.1 505.8 L826.6 505.7 L827.5 506.6 L828.2 506.5 L829.1 504.2 L829.7 504.2 L830.6 502.8 L831.8 502.8 L832.7 504.2 L833.5 504.2 L834.4 503.3 L836.4 503.3 L837.3 503.8 L839.8 503.8 L840.7 505.3 L841.5 505.3 L842.4 501.4 L844.3 501.4 L845.2 504.5 L845.8 504.5 L846.7 504.0 L847.7 504.0 L848.6 504.9 L849.1 504.9 L850.0 504.1 L851.7 504.1 L852.6 495.3 L854.0 495.3 L854.9 503.2 L856.4 503.2 L857.3 502.7 L858.8 502.7 L859.7 502.3 L861.2 502.3 L862.1 502.0 L864.5 502.0 L865.4 503.4 L867.7 503.4 L868.6 507.4 L869.4 507.4 L870.3 507.4 L871.2 507.4 L872.1 503.9 L873.9 503.9 L874.8 497.4 L876.3 497.4 L877.2 504.0 L879.5 504.0 L880.4 502.5 L882.7 502.5 L883.6 502.9 L886.3 502.9 L887.2 506.8 L887.7 506.8 L888.6 504.3 L890.6 504.3 L891.5 505.3 L892.6 505.3 L893.5 502.9 L894.8 502.9 L895.7 502.7 L897.4 502.7 L898.3 502.1 L899.2 502.1 L900.1 502.9 L901.4 502.9 L902.3 503.0 L904.6 503.0 L905.5 503.6 L908.3 503.6 L909.2 504.0 L911.2 504.0 L912.1 494.8 L913.7 494.8 L914.6 504.5 L916.4 504.5 L917.3 503.5 L918.4 503.5 L919.3 501.7 L920.9 501.7 L921.8 505.2 L922.7 505.2 L923.6 502.7 L925.9 502.7 L926.8 504.0 L927.9 504.0 L928.8 506.8 L929.7 506.8 L930.6 501.7 L933.0 501.7 L933.9 505.3 L935.5 505.3 L936.4 504.6 L938.0 504.6 L938.9 495.9 L940.0 495.9 L940.9 504.3 L942.5 504.3 L943.4 501.7 L944.8 501.7 L945.7 503.2 L946.7 503.2 L947.6 500.0 L949.2 500.0 L950.1 501.9 L951.6 501.9 L952.5 503.5 L954.0 503.5 L954.9 503.2 L957.8 503.2 L958.7 505.5 L960.6 505.5 L961.5 503.8 L963.1 503.8 L964.0 504.1 L965.6 504.1 L966.5 502.1 L967.7 502.2 L968.6 505.5 L970.2 505.5 L971.1 505.9 L971.5 505.9 L972.4 502.3 L975.2 502.3 L976.1 501.9 L978.1 501.9 L979.0 505.3 L980.5 505.3 L981.4 502.1 L983.4 502.1 L984.3 505.1 L985.6 505.1 L986.5 498.9 L988.0 498.9 L988.9 503.1 L991.3 503.2 L992.2 503.3 L993.6 503.3 L994.5 501.8 L996.8 501.8 L997.7 504.8 L999.0 504.8 L999.9 504.4 L1002.4 504.4 L1003.3 504.6 L1004.8 504.6 L1005.7 496.7 L1007.1 496.7 L1008.0 505.8 L1009.2 505.8 L1010.1 503.1 L1011.0 503.1 L1011.9 506.6 L1012.8 506.6 L1013.7 503.2 L1015.1 503.2 L1016.0 503.8 L1017.0 503.8 L1017.9 505.3 L1018.7 505.3 L1019.6 503.8 L1020.8 503.8 L1021.7 504.0 L1023.1 504.0 L1024.0 505.6 L1025.6 505.6 L1026.5 506.7 L1026.9 506.7 L1027.8 501.7 L1030.3 501.7 L1031.2 502.9 L1032.4 502.9 L1033.3 504.8 L1034.0 504.8 L1034.9 503.5 L1037.6 503.6 L1038.5 505.5 L1039.5 505.5 L1040.4 501.8 L1042.3 501.8 L1043.2 503.0 L1044.3 503.0 L1045.2 502.8 L1047.3 502.8 L1048.2 505.6 L1049.2 505.7 L1050.1 500.0 L1051.4 500.0 L1052.3 501.9 L1054.6 501.9 L1055.5 502.5 L1057.3 502.5 L1058.2 496.9 L1059.0 496.9 L1059.0 519.4 L1058.5 519.4 L1057.6 519.1 L1055.7 519.1 L1054.8 521.0 L1052.7 521.0 L1051.8 521.0 L1050.4 521.0 L1049.5 520.6 L1047.1 520.6 L1046.2 518.4 L1045.3 518.4 L1044.4 515.0 L1043.4 515.0 L1042.5 520.8 L1041.5 520.8 L1040.6 517.9 L1039.1 517.9 L1038.2 519.0 L1036.3 519.0 L1035.4 521.0 L1034.1 521.0 L1033.2 520.6 L1031.0 520.6 L1030.1 521.1 L1027.8 521.1 L1026.9 524.0 L1025.7 524.0 L1024.8 519.2 L1022.2 519.2 L1021.3 517.5 L1019.8 517.5 L1018.9 518.6 L1016.5 518.6 L1015.6 519.4 L1013.4 519.4 L1012.5 520.4 L1009.8 520.4 L1008.9 519.6 L1007.9 519.6 L1007.0 519.8 L1005.7 519.8 L1004.8 517.7 L1004.1 517.7 L1003.2 523.9 L1002.1 523.9 L1001.2 519.4 L998.6 519.4 L997.7 518.2 L997.1 518.2 L996.2 520.9 L993.6 520.9 L992.7 516.1 L992.0 516.1 L991.1 523.7 L989.8 523.7 L988.9 516.3 L988.1 516.3 L987.2 518.5 L985.2 518.5 L984.3 516.9 L982.9 516.9 L982.0 518.6 L980.3 518.6 L979.4 520.0 L977.0 520.0 L976.1 514.9 L975.5 514.9 L974.6 520.9 L973.0 520.9 L972.1 519.4 L970.3 519.4 L969.4 519.8 L967.2 519.8 L966.3 517.2 L965.8 517.2 L964.9 523.6 L963.6 523.6 L962.7 518.0 L961.6 518.0 L960.7 519.2 L958.4 519.2 L957.5 517.3 L956.3 517.3 L955.4 517.1 L953.6 517.1 L952.7 517.2 L951.6 517.2 L950.7 520.1 L947.9 520.1 L947.0 515.0 L946.1 515.0 L945.2 517.2 L943.6 517.2 L942.7 516.4 L942.0 516.4 L941.1 519.8 L939.9 519.8 L939.0 520.4 L937.7 520.4 L936.8 518.3 L934.2 518.3 L933.3 518.8 L931.5 518.8 L930.6 524.8 L929.0 524.8 L928.1 519.1 L925.8 519.1 L924.9 517.4 L923.2 517.4 L922.3 515.9 L921.9 515.9 L921.0 516.6 L920.7 516.6 L919.8 519.4 L917.5 519.4 L916.6 517.0 L916.1 517.0 L915.2 518.7 L913.2 518.7 L912.3 520.6 L911.3 520.6 L910.4 519.3 L909.3 519.3 L908.4 522.1 L907.4 522.1 L906.5 518.8 L903.6 518.7 L902.7 518.5 L899.8 518.5 L898.9 524.6 L897.1 524.6 L896.2 519.4 L893.4 519.4 L892.5 524.8 L891.3 524.8 L890.4 519.1 L889.1 519.1 L888.2 520.1 L886.7 520.1 L885.8 524.8 L884.6 524.8 L883.7 517.8 L882.9 517.8 L882.0 518.8 L880.2 518.8 L879.3 520.5 L877.7 520.5 L876.8 520.5 L875.5 520.5 L874.6 517.1 L874.0 517.1 L873.1 518.9 L871.9 518.9 L871.0 520.4 L869.7 520.4 L868.8 522.0 L867.0 522.0 L866.1 517.6 L864.5 517.6 L863.6 520.7 L861.6 520.7 L860.7 517.2 L858.6 517.2 L857.7 518.6 L855.0 518.6 L854.1 517.3 L853.0 517.3 L852.1 516.7 L851.2 516.7 L850.3 517.8 L849.2 517.8 L848.3 516.7 L846.8 516.7 L845.9 519.4 L843.6 519.4 L842.7 519.0 L841.8 519.0 L840.9 516.7 L840.4 516.7 L839.5 516.8 L838.9 516.8 L838.0 518.6 L836.3 518.6 L835.4 517.4 L834.4 517.4 L833.5 522.2 L831.7 522.2 L830.8 522.3 L829.7 522.3 L828.8 519.9 L826.0 520.1 L825.1 519.8 L823.1 520.0 L822.2 520.9 L820.3 521.0 L819.4 521.1 L818.4 521.1 L817.5 518.2 L816.8 518.3 L815.9 516.8 L815.5 516.8 L814.6 521.1 L811.8 521.3 L810.9 521.3 L808.5 521.5 L807.6 517.9 L806.6 518.0 L805.7 523.8 L804.5 523.9 L803.6 518.9 L802.3 519.0 L801.4 518.3 L799.7 518.4 L798.8 518.4 L796.9 518.4 L796.0 521.8 L794.4 521.8 L793.5 520.9 L791.8 521.0 L790.9 521.5 L788.8 521.5 L787.9 519.8 L785.8 519.9 L784.9 520.9 L782.2 520.9 L781.3 519.5 L780.2 519.5 L779.3 522.2 L778.2 522.2 L777.3 523.7 L776.0 523.7 L775.1 520.6 L773.6 520.6 L772.7 517.9 L772.3 517.9 L771.4 519.5 L768.9 519.6 L768.0 519.0 L767.0 519.1 L766.1 518.2 L765.5 518.3 L764.6 519.3 L763.0 519.3 L762.1 516.7 L760.9 516.7 L760.0 519.4 L758.9 519.5 L758.0 518.5 L756.3 518.5 L755.4 516.8 L754.7 516.8 L753.8 519.7 L752.0 519.7 L751.1 519.4 L749.6 519.5 L748.7 518.9 L748.2 518.9 L747.3 518.1 L746.9 518.1 L746.0 522.0 L744.5 522.1 L743.6 521.8 L741.3 521.8 L740.4 521.4 L739.1 521.4 L738.2 522.3 L735.4 522.3 L734.5 521.0 L733.5 521.0 L732.6 521.2 L731.4 521.2 L730.5 518.0 L729.7 518.0 L728.8 523.9 L727.0 523.9 L726.1 526.3 L724.4 526.3 L723.5 519.6 L721.5 519.6 L720.6 516.8 L720.1 516.8 L719.2 521.1 L716.9 521.1 L716.0 517.5 L715.4 517.6 L714.5 518.3 L712.5 518.3 L711.6 520.6 L710.3 520.6 L709.4 522.6 L707.0 522.6 L706.1 519.7 L705.0 519.7 L704.1 518.5 L703.4 518.5 L702.5 525.0 L700.7 525.1 L699.8 522.4 L698.8 522.5 L697.9 522.2 L695.1 522.2 L694.2 519.1 L692.7 519.1 L691.8 523.6 L690.5 523.6 L689.6 522.5 L686.9 522.6 L686.0 520.8 L683.1 520.8 L682.2 521.1 L681.3 521.1 L680.4 517.9 L680.0 517.9 L679.1 519.6 L678.5 519.6 L677.6 517.3 L677.0 517.3 L676.1 518.1 L675.1 518.1 L674.2 520.7 L671.7 520.7 L670.8 525.3 L669.6 525.3 L668.7 524.7 L667.6 524.7 L666.7 519.1 L665.1 519.2 L664.2 522.2 L663.3 522.3 L662.4 526.1 L660.8 526.1 L659.9 527.2 L658.1 527.2 L657.2 523.0 L655.0 523.0 L654.1 519.2 L652.8 519.2 L651.9 522.2 L650.7 522.3 L649.8 519.9 L649.3 520.0 L648.4 521.2 L646.0 521.2 L645.1 522.2 L642.5 522.3 L641.6 521.5 L640.0 521.5 L639.1 523.0 L636.2 523.0 L635.3 519.4 L633.4 519.4 L632.5 521.4 L631.2 521.4 L630.3 519.4 L628.3 519.5 L627.4 525.0 L625.5 525.0 L624.6 518.8 L623.9 518.8 L623.0 521.3 L621.0 521.3 L620.1 523.0 L618.3 523.1 L617.4 519.8 L616.2 519.9 L615.3 522.3 L613.2 522.5 L612.3 519.4 L611.1 519.5 L610.2 521.1 L608.1 521.3 L607.2 521.0 L605.8 521.1 L604.9 521.4 L602.5 521.6 L601.6 521.8 L599.7 521.9 L598.8 527.3 L597.1 527.4 L596.2 526.3 L594.7 526.4 L593.8 523.2 L591.2 523.4 L590.3 521.9 L589.7 522.0 L588.8 521.9 L587.0 522.1 L586.1 529.0 L584.9 529.1 L584.0 520.0 L582.7 520.1 L581.8 523.6 L579.6 523.5 L578.7 522.5 L575.9 521.7 L575.0 522.1 L573.9 521.7 L573.0 522.8 L570.5 522.1 L569.6 518.1 L568.9 517.8 L568.0 521.9 L565.6 521.2 L564.7 521.1 L563.0 520.6 L562.1 520.1 L560.5 519.6 L559.6 517.3 L558.0 516.8 L557.1 517.1 L555.8 516.7 L554.9 519.6 L552.4 518.9 L551.5 515.1 L549.7 514.5 L548.8 522.2 L547.1 521.7 L546.2 517.3 L544.5 516.8 L543.6 517.4 L542.7 517.0 L541.8 513.7 L539.7 513.2 L538.8 516.0 L536.6 516.0 L535.7 514.3 L532.9 514.3 L532.0 515.9 L529.8 515.9 L528.9 516.2 L527.0 516.2 L526.1 513.9 L523.6 513.9 L522.7 513.7 L521.8 513.7 L520.9 515.2 L518.5 515.2 L517.6 516.6 L514.8 516.6 L513.9 513.2 L512.2 513.2 L511.3 513.0 L510.8 513.0 L509.9 512.1 L509.0 512.1 L508.1 510.4 L507.6 510.4 L506.7 513.9 L504.9 513.9 L504.0 511.4 L503.0 511.4 L502.1 514.0 L499.6 514.0 L498.7 519.0 L497.5 519.0 L496.6 511.7 L495.3 511.7 L494.4 516.3 L492.4 516.3 L491.5 520.5 L489.9 520.5 L489.0 519.4 L487.5 519.3 L486.6 510.1 L486.0 510.1 L485.1 513.5 L484.1 513.5 L483.2 513.0 L481.6 513.0 L480.7 512.4 L478.7 512.4 L477.8 512.6 L476.7 512.6 L475.8 515.0 L474.3 515.0 L473.4 513.5 L472.7 513.5 L471.8 517.6 L470.2 517.6 L469.3 515.7 L467.7 515.7 L466.8 514.0 L464.3 514.0 L463.4 515.7 L461.3 515.7 L460.4 519.6 L458.6 519.6 L457.7 515.3 L455.3 515.3 L454.4 510.5 L453.7 510.5 L452.8 512.2 L452.0 512.2 L451.1 510.4 L450.2 510.4 L449.3 514.8 L447.6 514.8 L446.7 520.2 L445.1 520.2 L444.2 514.3 L441.5 514.3 L440.6 516.5 L439.7 516.5 L438.8 512.9 L436.9 512.9 L436.0 513.5 L434.9 513.5 L434.0 512.8 L432.4 512.8 L431.5 518.4 L430.1 518.4 L429.2 515.3 L427.6 515.3 L426.7 519.3 L425.4 519.3 L424.5 515.8 L421.9 515.8 L421.0 512.8 L419.4 512.8 L418.5 513.8 L418.0 513.8 L417.1 519.9 L415.5 519.9 L414.6 514.4 L411.7 514.4 L410.8 513.5 L409.7 513.5 L408.8 515.2 L406.8 515.2 L405.9 513.4 L404.2 513.5 L403.3 512.0 L402.1 512.0 L401.2 515.1 L399.9 515.1 L399.0 514.5 L396.3 514.5 L395.4 512.2 L394.4 512.2 L393.5 514.1 L390.7 514.1 L389.8 514.8 L388.2 514.9 L387.3 520.3 L385.9 520.3 L385.0 511.8 L384.4 511.8 L383.5 514.2 L382.1 514.2 L381.2 512.9 L380.4 512.9 L379.5 513.1 L378.6 513.1 L377.7 514.8 L376.1 514.8 L375.2 515.8 L373.6 515.8 L372.7 516.1 L370.0 516.1 L369.1 513.7 L367.6 513.8 L366.7 514.1 L364.0 514.1 L363.1 515.3 L360.2 515.3 L359.3 516.2 L357.8 516.2 L356.9 515.8 L354.8 515.8 L353.9 512.7 L352.3 512.7 L351.4 512.5 L350.2 512.5 L349.3 519.5 L347.7 519.5 L346.8 512.6 L344.8 512.6 L343.9 516.5 L342.8 516.5 L341.9 513.2 L340.1 513.2 L339.2 513.2 L338.3 513.2 L337.4 516.0 L334.9 516.0 L334.0 513.6 L333.2 513.6 L332.3 520.5 L331.1 520.5 L330.2 515.9 L328.2 515.9 L327.3 513.1 L326.6 513.1 L325.7 514.7 L323.2 514.7 L322.3 514.7 L319.7 514.7 L318.8 512.8 L316.8 512.8 L315.9 513.6 L314.3 513.6 L313.4 516.1 L312.3 516.1 L311.4 521.1 L309.6 521.1 L308.7 516.1 L307.3 516.1 L306.4 515.7 L304.2 515.8 L303.3 514.0 L302.5 514.0 L301.6 516.7 L300.0 516.7 L299.1 513.9 L297.3 513.9 L296.4 513.1 L295.2 513.1 L294.3 513.8 L293.1 513.8 L292.2 516.6 L290.3 516.6 L289.4 516.4 L286.9 516.5 L286.0 514.5 L283.4 514.5 L282.5 514.4 L281.0 514.4 L280.1 515.2 L277.4 515.2 L276.5 515.7 L274.7 515.7 L273.8 514.9 L271.4 514.9 L270.5 519.0 L269.5 519.0 L268.6 512.5 L268.3 512.5 L267.4 514.5 L265.1 514.5 L264.2 519.8 L262.4 519.8 L261.5 511.0 L260.7 511.0 L259.8 516.6 L258.8 516.6 L257.9 516.5 L255.3 516.5 L254.4 514.1 L252.4 514.1 L251.5 512.7 L250.4 512.7 L249.5 516.8 L246.8 516.8 L245.9 513.6 L244.3 513.6 L243.4 515.6 L240.6 515.6 L239.7 520.6 L238.2 520.6 L237.3 513.0 L236.6 513.1 L235.7 513.0 L233.9 513.0 L233.0 514.5 L231.3 514.5 L230.4 517.2 L228.8 517.2 L227.9 515.8 L225.2 515.8 L224.3 511.7 L223.4 511.7 L222.5 521.4 L221.3 521.4 L220.4 514.9 L217.6 514.9 L216.7 514.5 L215.4 514.5 L214.5 513.7 L213.1 513.7 L212.2 516.9 L209.7 516.9 L208.8 510.9 L208.3 511.0 L207.4 516.7 L206.1 516.7 L205.2 519.7 L203.9 519.7 L203.0 515.5 L200.3 515.5 L199.4 514.6 L197.3 514.6 L196.4 514.5 L195.0 514.5 L194.1 519.7 L192.3 519.7 L191.4 516.5 L189.8 516.5 L188.9 516.5 L187.6 516.5 L186.7 515.0 L184.0 515.0 L183.1 516.4 L181.5 516.4 L180.6 519.4 L179.5 519.4 L178.6 513.5 L178.1 513.5 L177.2 512.6 L176.0 512.6 L175.1 514.2 L173.8 514.2 L172.9 513.5 L172.3 513.5 L171.4 514.7 L169.6 514.7 L168.7 521.5 L167.6 521.5 L166.7 515.7 L165.8 515.7 L164.9 516.3 L163.4 516.3 L162.5 515.1 L160.5 515.1 L159.6 513.1 L158.0 513.1 L157.1 517.1 L155.1 517.1 L154.2 516.6 L151.8 516.6 L150.9 519.1 L149.6 519.1 L148.7 513.6 L147.6 513.7 L146.7 519.7 L145.4 519.7 L144.5 521.2 L142.8 521.2 L141.9 520.9 L140.1 520.9 L139.2 513.4 L137.2 513.4 L136.3 515.8 L133.9 515.8 L133.0 511.6 L131.7 511.6 L130.8 512.5 L130.3 512.5 L129.4 515.1 L127.5 515.1 L126.6 513.1 L124.9 513.1 L124.0 516.0 L122.9 516.0 L122.0 515.0 L119.5 515.0 L118.6 515.7 L117.6 515.7 L116.7 515.4 L113.9 515.4 L113.0 515.4 L112.0 515.5 L111.1 515.3 L110.1 515.3 L109.2 521.3 L108.2 521.3 L107.3 514.0 L105.6 514.0 L104.7 515.0 L102.6 515.0 L101.7 516.7 L100.3 516.7 L99.4 517.1 L96.5 517.1 L95.6 512.3 L94.6 512.3 L93.7 515.8 L92.0 515.8 L91.1 516.4 L90.1 516.4 L89.2 517.5 L87.9 517.5 L87.0 513.7 L85.1 513.7 L84.2 516.4 L82.1 516.4 L81.2 514.9 L78.3 514.9 L77.4 517.2 L74.9 517.2Z" fill="#2557a8" stroke="#2557a8" stroke-width="0.9" stroke-linejoin="round"/>
<path d="M75.8 560.5 L99.4 562.2 L187.6 558.8 L276.0 561.7 L322.5 558.5 L366.6 560.5 L410.7 558.8 L457.0 561.0 L580.0 561.2 L633.5 561.2 L677.6 564.2 L723.0 559.8 L768.0 564.9 L812.6 560.3 L900.0 560.3 L1000.0 560.8 L1058.5 561.7" fill="none" stroke="#eb2a28" stroke-width="3.3" stroke-linejoin="round" stroke-linecap="butt" />
</g>
<g clip-path="url(#c4)">
<path d="M75.5 677.3 L76.8 677.8 L78.0 678.1 L79.3 677.4 L80.6 677.1 L81.9 678.4 L83.2 677.7 L84.5 677.8 L85.8 677.8 L87.1 678.7 L88.4 679.0 L89.7 679.4 L91.0 680.0 L92.3 679.8 L93.6 680.5 L94.9 681.2 L96.2 681.8 L97.5 682.2 L98.8 682.8 L100.1 683.1 L101.4 683.4 L102.7 683.3 L104.0 684.9 L105.3 685.2 L106.6 685.0 L107.9 685.2 L109.2 684.6 L110.5 683.8 L111.8 682.4 L113.1 682.1 L114.4 681.8 L115.7 682.2 L117.0 680.5 L118.3 680.1 L119.6 679.2 L120.9 679.1 L122.2 679.3 L123.5 678.1 L124.8 677.6 L126.1 679.0 L127.4 678.5 L128.7 678.1 L130.0 678.7 L131.3 678.5 L132.6 677.0 L133.9 677.7 L135.2 678.1 L136.5 677.5 L137.8 678.8 L139.1 680.6 L140.4 681.2 L141.7 682.0 L143.0 682.4 L144.3 681.5 L145.6 681.6 L146.9 679.9 L148.2 680.5 L149.5 680.5 L150.8 682.9 L152.1 682.2 L153.4 681.5 L154.7 681.1 L156.0 681.5 L157.3 681.9 L158.6 681.6 L159.9 682.0 L161.2 682.4 L162.5 682.9 L163.8 682.4 L165.1 682.6 L166.4 681.8 L167.7 681.7 L169.0 680.3 L170.3 678.9 L171.6 676.8 L172.9 675.6 L174.2 674.9 L175.5 675.1 L176.8 675.0 L178.1 671.2 L179.4 663.0 L180.7 657.9 L182.0 651.4 L183.3 651.2 L184.6 650.2 L185.9 649.8 L187.2 652.2 L188.5 654.3 L189.8 653.9 L191.1 655.6 L192.4 654.7 L193.7 654.8 L195.0 655.0 L196.3 652.6 L197.6 651.9 L198.9 650.2 L200.2 650.6 L201.5 651.6 L202.8 653.2 L204.1 652.1 L205.4 652.6 L206.7 652.7 L208.0 652.6 L209.3 653.0 L210.6 653.6 L211.9 653.2 L213.2 655.5 L214.5 655.5 L215.8 653.0 L217.1 647.4 L218.4 648.2 L219.7 648.1 L221.0 647.8 L222.3 647.1 L223.6 647.0 L224.9 647.6 L226.2 648.3 L227.5 648.3 L228.8 649.0 L230.1 650.9 L231.4 652.9 L232.7 652.8 L234.0 650.6 L235.3 649.9 L236.6 652.7 L237.9 653.1 L239.2 654.0 L240.5 654.3 L241.8 654.9 L243.1 655.7 L244.4 655.8 L245.7 655.9 L247.0 655.1 L248.3 654.4 L249.6 653.3 L250.9 653.0 L252.2 651.9 L253.5 652.5 L254.8 652.7 L256.1 652.4 L257.4 652.6 L258.7 653.4 L260.0 654.6 L261.3 655.3 L262.6 655.8 L263.9 655.0 L265.2 657.0 L266.5 657.3 L267.8 656.8 L269.1 656.7 L270.4 659.0 L271.7 660.9 L273.0 663.5 L274.3 662.7 L275.6 662.4 L276.9 662.5 L278.2 662.6 L279.5 663.4 L280.8 663.9 L282.1 664.8 L283.4 666.0 L284.7 666.7 L286.0 666.9 L287.3 666.4 L288.6 666.0 L289.9 668.0 L291.2 668.9 L292.5 668.3 L293.8 667.7 L295.1 669.2 L296.4 669.8 L297.7 668.5 L299.0 667.9 L300.3 668.0 L301.6 668.3 L302.9 667.9 L304.2 668.5 L305.5 669.3 L306.8 669.2 L308.1 670.3 L309.4 670.7 L310.7 673.5 L312.0 674.5 L313.3 675.2 L314.6 675.5 L315.9 675.6 L317.2 676.6 L318.5 677.1 L319.8 678.1 L321.1 677.6 L322.4 679.3 L323.7 678.0 L325.0 677.8 L326.3 676.4 L327.6 678.0 L328.9 679.4 L330.2 679.9 L331.5 679.6 L332.8 679.8 L334.1 679.9 L335.4 678.7 L336.7 678.4 L338.0 678.9 L339.3 678.9 L340.6 680.4 L341.9 680.5 L343.2 680.0 L344.5 680.2 L345.8 681.0 L347.1 679.7 L348.4 680.1 L349.7 681.2 L351.0 681.6 L352.3 683.5 L353.6 683.6 L354.9 683.5 L356.2 682.3 L357.5 682.1 L358.8 681.4 L360.1 682.4 L361.4 682.7 L362.7 683.6 L364.0 684.4 L365.3 684.2 L366.6 684.6 L367.9 683.7 L369.2 683.3 L370.5 683.8 L371.8 685.2 L373.1 683.5 L374.4 682.2 L375.7 682.3 L377.0 682.2 L378.3 682.8 L379.6 684.3 L380.9 683.3 L382.2 681.7 L383.5 681.8 L384.8 682.5 L386.1 682.5 L387.4 683.4 L388.7 683.9 L390.0 684.9 L391.3 685.4 L392.6 685.9 L393.9 686.0 L395.2 686.1 L396.5 684.5 L397.8 684.8 L399.1 682.2 L400.4 681.3 L401.7 680.9 L403.0 679.3 L404.3 679.1 L405.6 678.9 L406.9 678.2 L408.2 677.6 L409.5 678.2 L410.8 679.3 L412.1 679.4 L413.4 679.4 L414.7 679.6 L416.0 679.2 L417.3 680.5 L418.6 680.9 L419.9 681.1 L421.2 682.5 L422.5 681.4 L423.8 679.0 L425.1 676.5 L426.4 674.4 L427.7 674.0 L429.0 674.8 L430.3 675.0 L431.6 675.1 L432.9 673.1 L434.2 671.3 L435.5 671.1 L436.8 669.6 L438.1 671.3 L439.4 671.3 L440.7 672.0 L442.0 673.5 L443.3 675.4 L444.6 675.4 L445.9 674.8 L447.2 674.8 L448.5 673.6 L449.8 674.0 L451.1 673.3 L452.4 670.5 L453.7 670.6 L455.0 672.5 L456.3 673.5 L457.6 674.0 L458.9 672.7 L460.2 671.3 L461.5 669.6 L462.8 667.8 L464.1 664.9 L465.4 663.1 L466.7 661.6 L468.0 662.8 L469.3 662.8 L470.6 664.6 L471.9 665.6 L473.2 665.4 L474.5 665.2 L475.8 666.5 L477.1 667.5 L478.4 668.7 L479.7 670.1 L481.0 671.0 L482.3 670.3 L483.6 672.6 L484.9 672.3 L486.2 672.8 L487.5 674.2 L488.8 674.0 L490.1 673.3 L491.4 672.8 L492.7 674.5 L494.0 676.4 L495.3 678.1 L496.6 676.9 L497.9 676.3 L499.2 676.8 L500.5 675.3 L501.8 675.7 L503.1 674.7 L504.4 674.2 L505.7 673.8 L507.0 674.4 L508.3 674.4 L509.6 674.6 L510.9 676.1 L512.2 675.5 L513.5 674.7 L514.8 675.4 L516.1 676.5 L517.4 677.8 L518.7 679.1 L520.0 679.4 L521.3 678.4 L522.6 679.0 L523.9 679.5 L525.2 678.8 L526.5 677.3 L527.8 676.3 L529.1 675.1 L530.4 674.2 L531.7 674.8 L533.0 676.1 L534.3 674.7 L535.6 673.9 L536.9 674.1 L538.2 676.8 L539.5 678.0 L540.8 679.6 L542.1 680.5 L543.4 680.8 L544.7 678.9 L546.0 677.5 L547.3 676.1 L548.6 676.7 L549.9 677.1 L551.2 678.6 L552.5 680.2 L553.8 680.5 L555.1 680.9 L556.4 680.3 L557.7 679.4 L559.0 678.4 L560.3 678.3 L561.6 677.6 L562.9 678.8 L564.2 679.7 L565.5 680.4 L566.8 681.2 L568.1 682.5 L569.4 683.0 L570.7 684.9 L572.0 684.9 L573.3 686.8 L574.6 688.1 L575.9 688.3 L577.2 688.7 L578.5 690.4 L579.8 690.6 L581.1 691.3 L582.4 689.7 L583.7 687.7 L585.0 686.0 L586.3 684.8 L587.6 683.5 L588.9 682.4 L590.2 682.3 L591.5 682.0 L592.8 682.4 L594.1 683.5 L595.4 684.4 L596.7 685.5 L598.0 686.1 L599.3 687.0 L600.6 689.2 L601.9 689.4 L603.2 690.5 L604.5 689.6 L605.8 690.1 L607.1 689.5 L608.4 691.0 L609.7 689.0 L611.0 688.8 L612.3 690.0 L613.6 690.7 L614.9 689.9 L616.2 691.6 L617.5 692.5 L618.8 692.2 L620.1 693.6 L621.4 693.7 L622.7 693.5 L624.0 693.9 L625.3 694.0 L626.6 693.6 L627.9 695.4 L629.2 694.3 L630.5 694.2 L631.8 695.0 L633.1 694.6 L634.4 695.2 L635.7 694.5 L637.0 694.7 L638.3 694.6 L639.6 695.5 L640.9 696.2 L642.2 697.1 L643.5 698.8 L644.8 698.4 L646.1 698.2 L647.4 698.0 L648.7 698.1 L650.0 697.7 L651.3 697.7 L652.6 696.9 L653.9 698.5 L655.2 699.1 L656.5 699.9 L657.8 700.3 L659.1 699.2 L660.4 700.1 L661.7 699.9 L663.0 699.1 L664.3 699.6 L665.6 700.3 L666.9 700.1 L668.2 701.2 L669.5 701.5 L670.8 701.9 L672.1 702.1 L673.4 701.9 L674.7 702.3 L676.0 701.7 L677.3 700.6 L678.6 701.7 L679.9 701.8 L681.2 702.2 L682.5 703.4 L683.8 702.6 L685.1 702.2 L686.4 703.3 L687.7 701.8 L689.0 702.7 L690.3 701.7 L691.6 702.2 L692.9 702.0 L694.2 701.7 L695.5 700.6 L696.8 701.3 L698.1 701.1 L699.4 700.5 L700.7 700.9 L702.0 701.6 L703.3 701.0 L704.6 701.7 L705.9 701.3 L707.2 702.2 L708.5 702.8 L709.8 704.1 L711.1 703.9 L712.4 704.2 L713.7 705.1 L715.0 704.5 L716.3 705.9 L717.6 705.1 L718.9 704.4 L720.2 704.5 L721.5 703.5 L722.8 704.1 L724.1 703.3 L725.4 704.5 L726.7 704.6 L728.0 705.1 L729.3 704.8 L730.6 706.5 L731.9 706.7 L733.2 706.4 L734.5 706.1 L735.8 706.2 L737.1 707.1 L738.4 706.2 L739.7 706.0 L741.0 706.2 L742.3 705.9 L743.6 705.8 L744.9 706.2 L746.2 706.3 L747.5 706.9 L748.8 706.2 L750.1 707.1 L751.4 707.2 L752.7 707.5 L754.0 706.6 L755.3 705.5 L756.6 705.2 L757.9 706.2 L759.2 706.0 L760.5 706.2 L761.8 707.0 L763.1 706.9 L764.4 706.1 L765.7 705.0 L767.0 703.1 L768.3 701.8 L769.6 700.8 L770.9 701.0 L772.2 701.0 L773.5 701.2 L774.8 701.7 L776.1 703.7 L777.4 704.6 L778.7 704.7 L780.0 704.9 L781.3 704.1 L782.6 704.2 L783.9 702.7 L785.2 702.8 L786.5 702.9 L787.8 704.0 L789.1 704.6 L790.4 704.3 L791.7 704.4 L793.0 703.1 L794.3 703.3 L795.6 703.2 L796.9 702.7 L798.2 702.8 L799.5 703.7 L800.8 703.7 L802.1 703.7 L803.4 703.5 L804.7 702.7 L806.0 703.0 L807.3 703.2 L808.6 703.0 L809.9 703.5 L811.2 703.5 L812.5 704.8 L813.8 705.8 L815.1 704.8 L816.4 706.2 L817.7 706.7 L819.0 706.5 L820.3 706.4 L821.6 705.6 L822.9 705.2 L824.2 705.1 L825.5 704.8 L826.8 704.0 L828.1 704.8 L829.4 705.0 L830.7 704.9 L832.0 706.6 L833.3 706.8 L834.6 705.6 L835.9 706.2 L837.2 705.2 L838.5 704.6 L839.8 705.0 L841.1 702.9 L842.4 703.4 L843.7 704.5 L845.0 704.2 L846.3 704.0 L847.6 705.2 L848.9 704.8 L850.2 704.1 L851.5 704.5 L852.8 705.3 L854.1 705.8 L855.4 704.3 L856.7 705.4 L858.0 705.5 L859.3 705.3 L860.6 706.3 L861.9 706.1 L863.2 706.9 L864.5 708.2 L865.8 708.1 L867.1 708.6 L868.4 708.8 L869.7 709.1 L871.0 709.7 L872.3 708.4 L873.6 708.3 L874.9 708.4 L876.2 707.3 L877.5 707.0 L878.8 707.3 L880.1 707.0 L881.4 705.6 L882.7 705.1 L884.0 705.5 L885.3 705.6 L886.6 705.3 L887.9 706.0 L889.2 706.1 L890.5 706.1 L891.8 707.5 L893.1 706.9 L894.4 706.9 L895.7 707.1 L897.0 708.1 L898.3 707.4 L899.6 706.7 L900.9 707.3 L902.2 707.2 L903.5 707.1 L904.8 707.5 L906.1 707.6 L907.4 707.6 L908.7 707.1 L910.0 707.1 L911.3 705.6 L912.6 706.1 L913.9 705.2 L915.2 705.9 L916.5 705.2 L917.8 707.6 L919.1 706.6 L920.4 707.5 L921.7 708.7 L923.0 708.6 L924.3 708.8 L925.6 708.1 L926.9 709.0 L928.2 709.4 L929.5 708.5 L930.8 706.1 L932.1 706.1 L933.4 706.5 L934.7 706.4 L936.0 706.7 L937.3 708.3 L938.6 707.4 L939.9 708.7 L941.2 708.1 L942.5 708.7 L943.8 707.7 L945.1 708.1 L946.4 708.0 L947.7 707.7 L949.0 707.9 L950.3 707.4 L951.6 707.6 L952.9 707.9 L954.2 709.1 L955.5 709.3 L956.8 709.4 L958.1 709.0 L959.4 708.1 L960.7 708.2 L962.0 709.6 L963.3 709.6 L964.6 710.3 L965.9 710.0 L967.2 710.1 L968.5 709.7 L969.8 707.7 L971.1 707.5 L972.4 707.1 L973.7 707.2 L975.0 707.8 L976.3 707.6 L977.6 708.5 L978.9 708.2 L980.2 708.5 L981.5 709.9 L982.8 708.7 L984.1 707.8 L985.4 708.8 L986.7 707.8 L988.0 706.3 L989.3 707.7 L990.6 708.5 L991.9 708.6 L993.2 709.6 L994.5 709.1 L995.8 708.8 L997.1 706.9 L998.4 706.2 L999.7 705.6 L1001.0 704.0 L1002.3 703.9 L1003.6 703.0 L1004.9 703.9 L1006.2 704.3 L1007.5 706.1 L1008.8 705.9 L1010.1 705.5 L1011.4 704.1 L1012.7 704.5 L1014.0 702.7 L1015.3 703.3 L1016.6 704.4 L1017.9 703.3 L1019.2 702.8 L1020.5 703.5 L1021.8 703.3 L1023.1 702.8 L1024.4 701.1 L1025.7 701.7 L1027.0 700.4 L1028.3 703.1 L1029.6 703.3 L1030.9 704.0 L1032.2 705.5 L1033.5 706.2 L1034.8 705.9 L1036.1 707.7 L1037.4 707.4 L1038.7 707.2 L1040.0 708.7 L1041.3 708.8 L1042.6 708.7 L1043.9 708.4 L1045.2 707.7 L1046.5 708.9 L1047.8 709.8 L1049.1 709.6 L1050.4 709.6 L1051.7 708.2 L1053.0 708.6 L1054.3 708.2 L1055.6 706.2 L1056.9 704.5 L1058.2 703.2" fill="none" stroke="#2557a8" stroke-width="3.3" stroke-linejoin="round" stroke-linecap="butt" />
</g>
<g clip-path="url(#c5)">
<path d="M75.8 785.0 L97.6 778.9 L142.4 746.5 L186.9 749.9 L231.5 759.7 L276.0 755.3 L320.8 780.0 L365.4 783.3 L410.6 770.8 L455.0 764.5 L499.8 737.8 L544.4 791.8 L588.9 776.9 L633.6 822.3 L678.5 780.6 L723.1 827.2 L768.0 799.2 L812.5 802.5 L857.6 793.1 L902.5 789.9 L946.7 805.4 L991.3 799.7 L1036.0 804.6 L1058.5 813.9" fill="none" stroke="#2557a8" stroke-width="3.3" stroke-linejoin="round" stroke-linecap="butt" stroke-linejoin="miter"/>
</g>
<path d="M478.6 31.5 V849.5" stroke="#2557a8" stroke-width="3.1" stroke-dasharray="11.5 7.27" fill="none"/>
<path d="M745.7 33.9 V849.5" stroke="#eb2a28" stroke-width="2.8" stroke-dasharray="10.2 8.57" stroke-dashoffset="0.55" fill="none"/>
<g font-family="'Liberation Serif', 'DejaVu Serif', serif">
<g fill="#4d4d4f" font-size="25" text-anchor="end">
<text x="66.4" y="200.0">0</text>
<text x="66.4" y="147.7">2</text>
<text x="66.4" y="95.3">4</text>
<text x="66.4" y="43.0">6</text>
<text x="66.4" y="332.2">1</text>
<text x="66.4" y="277.1">2</text>
<text x="66.4" y="222.1">3</text>
<text x="66.4" y="457.5">0.4</text>
<text x="66.4" y="432.6">0.6</text>
<text x="66.4" y="407.7">0.8</text>
<text x="66.4" y="382.8">1</text>
<text x="66.4" y="357.9">1.2</text>
<text x="66.4" y="616.9">0</text>
<text x="66.4" y="567.7">2</text>
<text x="66.4" y="518.5">4</text>
<text x="66.4" y="720.3">15</text>
<text x="66.4" y="659.4">25</text>
<text x="66.4" y="835.2">25</text>
<text x="66.4" y="800.7">30</text>
<text x="66.4" y="766.1">35</text>
</g>
<g fill="#4d4d4f" font-size="25" text-anchor="middle">
<text x="119.6" y="879.4">5.4</text>
<text x="209.0" y="879.4">5.6</text>
<text x="298.3" y="879.4">5.8</text>
<text x="387.7" y="879.4">6</text>
<text x="477.1" y="879.4">6.2</text>
<text x="566.5" y="879.4">6.4</text>
<text x="655.8" y="879.4">6.6</text>
<text x="745.2" y="879.4">6.8</text>
<text x="834.6" y="879.4">7</text>
<text x="923.9" y="879.4">7.2</text>
<text x="1013.3" y="879.4">7.4</text>
</g>
<g fill="#4d4d4f" font-size="27.5" text-anchor="middle">
<text x="566" y="912.3">time (s)</text>
<text transform="translate(44.0 114.6) rotate(-90)">MW</text>
<text transform="translate(44.0 258.6) rotate(-90)">a.u.</text>
<text transform="translate(26.2 394.4) rotate(-90)">a.u.</text>
<text transform="translate(44.2 535.8) rotate(-90)">keV</text>
<text transform="translate(19.4 666.5) rotate(-90)">I/n<tspan font-size="22" dy="13.2" dx="2.6">e</tspan><tspan dy="-13.2" dx="2"> (a.u.)</tspan></text>
<text transform="translate(31.0 787.6) rotate(-90)">km/s</text>
</g>
<text x="80.4" y="19" font-size="27.4" fill="#231815">EAST #107838, DN,B<tspan font-size="22" dy="12.6" dx="4.4">T</tspan><tspan dy="-12.6" dx="1.5">=</tspan><tspan dx="1">2.3T,</tspan><tspan dx="0.7"> I</tspan><tspan font-size="22" dy="12.6" dx="5.7">P</tspan><tspan dy="-12.6" dx="1.6">=400kA</tspan></text>
<g fill="#231815" font-size="42.4">
<text x="84.3" y="83.3">(a)</text>
<text x="84.3" y="253.8">(b)</text>
<text x="84.3" y="355.2">(c)</text>
<text x="84.3" y="596.0">(d)</text>
<text x="84.3" y="647.5">(e)</text>
<text x="84.3" y="830.0">(f)</text>
</g>
<text x="213" y="74.7" font-size="25" fill="#2557a8">NBI</text>
<text x="202" y="180.6" font-size="25" fill="#338042">ECRH</text>
<text x="508.6" y="108" font-size="25" fill="#eb2a28">ICRH</text>
<text x="892.4" y="111.7" font-size="25" fill="#231815">LHW</text>
<text transform="translate(230.2 248.7) scale(1.22 1)" font-size="27.5" font-style="italic" fill="#eb2a28" stroke="#eb2a28" stroke-width="0.35">β</text>
<text x="246.9" y="262.6" font-size="23" fill="#eb2a28">P</text>
<text transform="translate(518.4 254.5) scale(1.22 1)" font-size="27.5" font-style="italic" fill="#2557a8" stroke="#2557a8" stroke-width="0.35">β</text>
<text x="534.7" y="268.6" font-size="23" fill="#2557a8">N</text>
<text x="217.4" y="348" font-size="27.5" fill="#eb2a28">q<tspan font-size="22" dy="14" dx="2.5">95</tspan><tspan dy="-14" dx="2">/9</tspan></text>
<text x="528.8" y="350.4" font-size="27.5" fill="#231815">H<tspan font-size="22" dy="14.1" dx="2.6">98</tspan></text>
<text x="822.6" y="355.7" font-size="25" fill="#338042">&lt;n<tspan font-size="20" dy="11.6" dx="1.6">e</tspan><tspan dy="-11.6" dx="0.4">&gt;/5(10</tspan><tspan font-size="20" dy="-12.3" dx="1">19</tspan><tspan dy="12.3" dx="0.6">/m</tspan><tspan font-size="20" dy="-12.3" dx="2">3</tspan><tspan dy="12.3" dx="0.4">)</tspan></text>
<text x="855.5" y="427.3" font-size="27.5" fill="#2557a8">&lt;n<tspan font-size="22" dy="14.2" dx="3.4">e</tspan><tspan dy="-14.2" dx="0.6">&gt;/</tspan><tspan dx="1.2">n</tspan><tspan font-size="22" dy="14.2" dx="2.3">GW</tspan></text>
<text x="513.7" y="485.7" font-size="25" fill="#2557a8">T<tspan font-size="20" dy="11.3" dx="2">e0</tspan></text>
<text x="909.6" y="585" font-size="25" fill="#eb2a28">T<tspan font-size="20" dy="11.5" dx="2.6">i0</tspan></text>
<text x="489.5" y="660.3" font-size="28.7" fill="#2557a8">W-UTA</text>
<text transform="translate(902.3 766.5) scale(1.15 1)" font-size="31" fill="#2557a8" stroke="#2557a8" stroke-width="0.45">Δ</text>
<text x="927.0" y="766.5" font-size="27.5" fill="#2557a8">V<tspan font-size="23" dy="14" dx="1.8">t0</tspan></text>
</g>
</svg>
</body>
</html>
